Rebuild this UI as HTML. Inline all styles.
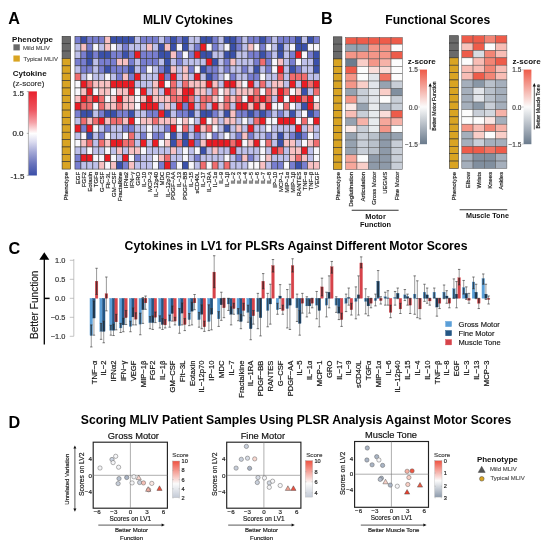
<!DOCTYPE html>
<html><head><meta charset="utf-8"><title>MLIV figure</title>
<style>
html,body{margin:0;padding:0;background:#fff;}
body{width:550px;height:549px;overflow:hidden;}
svg{display:block;font-family:"Liberation Sans", sans-serif;filter:blur(0.35px);}
</style></head>
<body>
<svg width="550" height="549" viewBox="0 0 550 549">
<rect x="0" y="0" width="550" height="549" fill="#fff"/>
<text x="8.3" y="23.9" font-size="16.2" text-anchor="start" font-weight="bold" fill="#000">A</text>
<text x="143" y="23.8" font-size="12.1" text-anchor="start" font-weight="bold" fill="#000">MLIV Cytokines</text>
<text x="12.1" y="41.6" font-size="8" text-anchor="start" font-weight="bold" fill="#111">Phenotype</text>
<rect x="13.4" y="44.3" width="6.4" height="6.1" fill="#6a6a6a"/>
<text x="23" y="49.8" font-size="6" text-anchor="start" font-weight="normal" fill="#575757" stroke="#575757" stroke-width="0.18">Mild MLIV</text>
<rect x="13.4" y="55.5" width="6.4" height="6.1" fill="#d9a422"/>
<text x="23.6" y="60.9" font-size="6" text-anchor="start" font-weight="normal" fill="#575757" stroke="#575757" stroke-width="0.18">Typical MLIV</text>
<text x="12.8" y="76.2" font-size="8" text-anchor="start" font-weight="bold" fill="#111">Cytokine</text>
<text x="12.8" y="86" font-size="8" text-anchor="start" font-weight="normal" fill="#333" stroke="#333" stroke-width="0.18">(z-score)</text>
<defs><linearGradient id="gA" x1="0" y1="0" x2="0" y2="1"><stop offset="0" stop-color="#e8202c"/><stop offset="0.22" stop-color="#ee5560"/><stop offset="0.37" stop-color="#f5a2a8"/><stop offset="0.5" stop-color="#ffffff"/><stop offset="0.6" stop-color="#dcdcf0"/><stop offset="0.72" stop-color="#a4a8d6"/><stop offset="0.86" stop-color="#6a74bc"/><stop offset="1" stop-color="#3a4ea8"/></linearGradient><linearGradient id="gB" x1="0" y1="0" x2="0" y2="1"><stop offset="0" stop-color="#ee5a48"/><stop offset="0.5" stop-color="#fbfbfb"/><stop offset="1" stop-color="#6a7a8c"/></linearGradient><linearGradient id="gS1" x1="0" y1="0" x2="0" y2="1"><stop offset="0" stop-color="#ef5140"/><stop offset="0.62" stop-color="#fbfbfb"/><stop offset="1" stop-color="#c3cad6"/></linearGradient><linearGradient id="gS3" x1="0" y1="0" x2="0" y2="1"><stop offset="0" stop-color="#ef5140"/><stop offset="0.55" stop-color="#fbfbfb"/><stop offset="1" stop-color="#8e9bac"/></linearGradient></defs>
<rect x="28.5" y="91.4" width="8.4" height="84.1" fill="url(#gA)"/><line x1="28.4" y1="91.4" x2="28.4" y2="175.5" stroke="#888" stroke-width="0.6"/>
<line x1="26.8" y1="91.6" x2="28.8" y2="91.6" stroke="#888" stroke-width="0.6"/>
<line x1="26.8" y1="133.4" x2="28.8" y2="133.4" stroke="#888" stroke-width="0.6"/>
<line x1="26.8" y1="175.3" x2="28.8" y2="175.3" stroke="#888" stroke-width="0.6"/>
<text x="12.8" y="95.9" font-size="8" text-anchor="start" font-weight="normal" fill="#222" stroke="#222" stroke-width="0.18">1.5</text>
<text x="12.4" y="136.4" font-size="8" text-anchor="start" font-weight="normal" fill="#222" stroke="#222" stroke-width="0.18">0.0</text>
<text x="10.6" y="178.6" font-size="8" text-anchor="start" font-weight="normal" fill="#222" stroke="#222" stroke-width="0.18">-1.5</text>
<rect x="62.1" y="36.35" width="8.5" height="7.38" fill="#6a6a6a" stroke="#333" stroke-width="0.6"/>
<rect x="62.1" y="43.73" width="8.5" height="7.38" fill="#6a6a6a" stroke="#333" stroke-width="0.6"/>
<rect x="62.1" y="51.10" width="8.5" height="7.38" fill="#6a6a6a" stroke="#333" stroke-width="0.6"/>
<rect x="62.1" y="58.48" width="8.5" height="7.38" fill="#d9a422" stroke="#333" stroke-width="0.6"/>
<rect x="62.1" y="65.85" width="8.5" height="7.38" fill="#d9a422" stroke="#333" stroke-width="0.6"/>
<rect x="62.1" y="73.22" width="8.5" height="7.38" fill="#d9a422" stroke="#333" stroke-width="0.6"/>
<rect x="62.1" y="80.60" width="8.5" height="7.38" fill="#d9a422" stroke="#333" stroke-width="0.6"/>
<rect x="62.1" y="87.97" width="8.5" height="7.38" fill="#d9a422" stroke="#333" stroke-width="0.6"/>
<rect x="62.1" y="95.35" width="8.5" height="7.38" fill="#d9a422" stroke="#333" stroke-width="0.6"/>
<rect x="62.1" y="102.72" width="8.5" height="7.38" fill="#d9a422" stroke="#333" stroke-width="0.6"/>
<rect x="62.1" y="110.10" width="8.5" height="7.38" fill="#d9a422" stroke="#333" stroke-width="0.6"/>
<rect x="62.1" y="117.47" width="8.5" height="7.38" fill="#d9a422" stroke="#333" stroke-width="0.6"/>
<rect x="62.1" y="124.85" width="8.5" height="7.38" fill="#d9a422" stroke="#333" stroke-width="0.6"/>
<rect x="62.1" y="132.22" width="8.5" height="7.38" fill="#d9a422" stroke="#333" stroke-width="0.6"/>
<rect x="62.1" y="139.60" width="8.5" height="7.38" fill="#d9a422" stroke="#333" stroke-width="0.6"/>
<rect x="62.1" y="146.97" width="8.5" height="7.38" fill="#d9a422" stroke="#333" stroke-width="0.6"/>
<rect x="62.1" y="154.35" width="8.5" height="7.38" fill="#d9a422" stroke="#333" stroke-width="0.6"/>
<rect x="62.1" y="161.72" width="8.5" height="7.38" fill="#d9a422" stroke="#333" stroke-width="0.6"/>
<rect x="74.95" y="36.35" width="5.96" height="7.38" fill="#787ed0" stroke="#3a3a3a" stroke-width="0.6"/>
<rect x="80.92" y="36.35" width="5.96" height="7.38" fill="#3a50aa" stroke="#3a3a3a" stroke-width="0.6"/>
<rect x="86.88" y="36.35" width="5.96" height="7.38" fill="#787ed0" stroke="#3a3a3a" stroke-width="0.6"/>
<rect x="92.84" y="36.35" width="5.96" height="7.38" fill="#787ed0" stroke="#3a3a3a" stroke-width="0.6"/>
<rect x="98.81" y="36.35" width="5.96" height="7.38" fill="#787ed0" stroke="#3a3a3a" stroke-width="0.6"/>
<rect x="104.78" y="36.35" width="5.96" height="7.38" fill="#f8c0c2" stroke="#3a3a3a" stroke-width="0.6"/>
<rect x="110.74" y="36.35" width="5.96" height="7.38" fill="#3a50aa" stroke="#3a3a3a" stroke-width="0.6"/>
<rect x="116.70" y="36.35" width="5.96" height="7.38" fill="#3a50aa" stroke="#3a3a3a" stroke-width="0.6"/>
<rect x="122.67" y="36.35" width="5.96" height="7.38" fill="#3a50aa" stroke="#3a3a3a" stroke-width="0.6"/>
<rect x="128.63" y="36.35" width="5.96" height="7.38" fill="#3a50aa" stroke="#3a3a3a" stroke-width="0.6"/>
<rect x="134.60" y="36.35" width="5.96" height="7.38" fill="#bec0ea" stroke="#3a3a3a" stroke-width="0.6"/>
<rect x="140.56" y="36.35" width="5.96" height="7.38" fill="#787ed0" stroke="#3a3a3a" stroke-width="0.6"/>
<rect x="146.53" y="36.35" width="5.96" height="7.38" fill="#787ed0" stroke="#3a3a3a" stroke-width="0.6"/>
<rect x="152.50" y="36.35" width="5.96" height="7.38" fill="#787ed0" stroke="#3a3a3a" stroke-width="0.6"/>
<rect x="158.46" y="36.35" width="5.96" height="7.38" fill="#bec0ea" stroke="#3a3a3a" stroke-width="0.6"/>
<rect x="164.43" y="36.35" width="5.96" height="7.38" fill="#787ed0" stroke="#3a3a3a" stroke-width="0.6"/>
<rect x="170.39" y="36.35" width="5.96" height="7.38" fill="#3a50aa" stroke="#3a3a3a" stroke-width="0.6"/>
<rect x="176.36" y="36.35" width="5.96" height="7.38" fill="#787ed0" stroke="#3a3a3a" stroke-width="0.6"/>
<rect x="182.32" y="36.35" width="5.96" height="7.38" fill="#3a50aa" stroke="#3a3a3a" stroke-width="0.6"/>
<rect x="188.28" y="36.35" width="5.96" height="7.38" fill="#bec0ea" stroke="#3a3a3a" stroke-width="0.6"/>
<rect x="194.25" y="36.35" width="5.96" height="7.38" fill="#bec0ea" stroke="#3a3a3a" stroke-width="0.6"/>
<rect x="200.22" y="36.35" width="5.96" height="7.38" fill="#3a50aa" stroke="#3a3a3a" stroke-width="0.6"/>
<rect x="206.18" y="36.35" width="5.96" height="7.38" fill="#3a50aa" stroke="#3a3a3a" stroke-width="0.6"/>
<rect x="212.14" y="36.35" width="5.96" height="7.38" fill="#787ed0" stroke="#3a3a3a" stroke-width="0.6"/>
<rect x="218.11" y="36.35" width="5.96" height="7.38" fill="#bec0ea" stroke="#3a3a3a" stroke-width="0.6"/>
<rect x="224.07" y="36.35" width="5.96" height="7.38" fill="#3a50aa" stroke="#3a3a3a" stroke-width="0.6"/>
<rect x="230.04" y="36.35" width="5.96" height="7.38" fill="#3a50aa" stroke="#3a3a3a" stroke-width="0.6"/>
<rect x="236.00" y="36.35" width="5.96" height="7.38" fill="#787ed0" stroke="#3a3a3a" stroke-width="0.6"/>
<rect x="241.97" y="36.35" width="5.96" height="7.38" fill="#bec0ea" stroke="#3a3a3a" stroke-width="0.6"/>
<rect x="247.94" y="36.35" width="5.96" height="7.38" fill="#787ed0" stroke="#3a3a3a" stroke-width="0.6"/>
<rect x="253.90" y="36.35" width="5.96" height="7.38" fill="#787ed0" stroke="#3a3a3a" stroke-width="0.6"/>
<rect x="259.87" y="36.35" width="5.96" height="7.38" fill="#3a50aa" stroke="#3a3a3a" stroke-width="0.6"/>
<rect x="265.83" y="36.35" width="5.96" height="7.38" fill="#787ed0" stroke="#3a3a3a" stroke-width="0.6"/>
<rect x="271.80" y="36.35" width="5.96" height="7.38" fill="#bec0ea" stroke="#3a3a3a" stroke-width="0.6"/>
<rect x="277.76" y="36.35" width="5.96" height="7.38" fill="#787ed0" stroke="#3a3a3a" stroke-width="0.6"/>
<rect x="283.73" y="36.35" width="5.96" height="7.38" fill="#787ed0" stroke="#3a3a3a" stroke-width="0.6"/>
<rect x="289.69" y="36.35" width="5.96" height="7.38" fill="#787ed0" stroke="#3a3a3a" stroke-width="0.6"/>
<rect x="295.65" y="36.35" width="5.96" height="7.38" fill="#3a50aa" stroke="#3a3a3a" stroke-width="0.6"/>
<rect x="301.62" y="36.35" width="5.96" height="7.38" fill="#bec0ea" stroke="#3a3a3a" stroke-width="0.6"/>
<rect x="307.58" y="36.35" width="5.96" height="7.38" fill="#3a50aa" stroke="#3a3a3a" stroke-width="0.6"/>
<rect x="313.55" y="36.35" width="5.96" height="7.38" fill="#787ed0" stroke="#3a3a3a" stroke-width="0.6"/>
<rect x="74.95" y="43.73" width="5.96" height="7.38" fill="#bec0ea" stroke="#3a3a3a" stroke-width="0.6"/>
<rect x="80.92" y="43.73" width="5.96" height="7.38" fill="#f8c0c2" stroke="#3a3a3a" stroke-width="0.6"/>
<rect x="86.88" y="43.73" width="5.96" height="7.38" fill="#787ed0" stroke="#3a3a3a" stroke-width="0.6"/>
<rect x="92.84" y="43.73" width="5.96" height="7.38" fill="#f8f7fc" stroke="#3a3a3a" stroke-width="0.6"/>
<rect x="98.81" y="43.73" width="5.96" height="7.38" fill="#bec0ea" stroke="#3a3a3a" stroke-width="0.6"/>
<rect x="104.78" y="43.73" width="5.96" height="7.38" fill="#f8c0c2" stroke="#3a3a3a" stroke-width="0.6"/>
<rect x="110.74" y="43.73" width="5.96" height="7.38" fill="#f8f7fc" stroke="#3a3a3a" stroke-width="0.6"/>
<rect x="116.70" y="43.73" width="5.96" height="7.38" fill="#bec0ea" stroke="#3a3a3a" stroke-width="0.6"/>
<rect x="122.67" y="43.73" width="5.96" height="7.38" fill="#787ed0" stroke="#3a3a3a" stroke-width="0.6"/>
<rect x="128.63" y="43.73" width="5.96" height="7.38" fill="#bec0ea" stroke="#3a3a3a" stroke-width="0.6"/>
<rect x="134.60" y="43.73" width="5.96" height="7.38" fill="#bec0ea" stroke="#3a3a3a" stroke-width="0.6"/>
<rect x="140.56" y="43.73" width="5.96" height="7.38" fill="#bec0ea" stroke="#3a3a3a" stroke-width="0.6"/>
<rect x="146.53" y="43.73" width="5.96" height="7.38" fill="#f8c0c2" stroke="#3a3a3a" stroke-width="0.6"/>
<rect x="152.50" y="43.73" width="5.96" height="7.38" fill="#bec0ea" stroke="#3a3a3a" stroke-width="0.6"/>
<rect x="158.46" y="43.73" width="5.96" height="7.38" fill="#3a50aa" stroke="#3a3a3a" stroke-width="0.6"/>
<rect x="164.43" y="43.73" width="5.96" height="7.38" fill="#f8c0c2" stroke="#3a3a3a" stroke-width="0.6"/>
<rect x="170.39" y="43.73" width="5.96" height="7.38" fill="#3a50aa" stroke="#3a3a3a" stroke-width="0.6"/>
<rect x="176.36" y="43.73" width="5.96" height="7.38" fill="#f8f7fc" stroke="#3a3a3a" stroke-width="0.6"/>
<rect x="182.32" y="43.73" width="5.96" height="7.38" fill="#3a50aa" stroke="#3a3a3a" stroke-width="0.6"/>
<rect x="188.28" y="43.73" width="5.96" height="7.38" fill="#bec0ea" stroke="#3a3a3a" stroke-width="0.6"/>
<rect x="194.25" y="43.73" width="5.96" height="7.38" fill="#787ed0" stroke="#3a3a3a" stroke-width="0.6"/>
<rect x="200.22" y="43.73" width="5.96" height="7.38" fill="#ea1c24" stroke="#3a3a3a" stroke-width="0.6"/>
<rect x="206.18" y="43.73" width="5.96" height="7.38" fill="#f8f7fc" stroke="#3a3a3a" stroke-width="0.6"/>
<rect x="212.14" y="43.73" width="5.96" height="7.38" fill="#787ed0" stroke="#3a3a3a" stroke-width="0.6"/>
<rect x="218.11" y="43.73" width="5.96" height="7.38" fill="#bec0ea" stroke="#3a3a3a" stroke-width="0.6"/>
<rect x="224.07" y="43.73" width="5.96" height="7.38" fill="#f8f7fc" stroke="#3a3a3a" stroke-width="0.6"/>
<rect x="230.04" y="43.73" width="5.96" height="7.38" fill="#3a50aa" stroke="#3a3a3a" stroke-width="0.6"/>
<rect x="236.00" y="43.73" width="5.96" height="7.38" fill="#787ed0" stroke="#3a3a3a" stroke-width="0.6"/>
<rect x="241.97" y="43.73" width="5.96" height="7.38" fill="#bec0ea" stroke="#3a3a3a" stroke-width="0.6"/>
<rect x="247.94" y="43.73" width="5.96" height="7.38" fill="#f8c0c2" stroke="#3a3a3a" stroke-width="0.6"/>
<rect x="253.90" y="43.73" width="5.96" height="7.38" fill="#f8f7fc" stroke="#3a3a3a" stroke-width="0.6"/>
<rect x="259.87" y="43.73" width="5.96" height="7.38" fill="#787ed0" stroke="#3a3a3a" stroke-width="0.6"/>
<rect x="265.83" y="43.73" width="5.96" height="7.38" fill="#f8f7fc" stroke="#3a3a3a" stroke-width="0.6"/>
<rect x="271.80" y="43.73" width="5.96" height="7.38" fill="#bec0ea" stroke="#3a3a3a" stroke-width="0.6"/>
<rect x="277.76" y="43.73" width="5.96" height="7.38" fill="#3a50aa" stroke="#3a3a3a" stroke-width="0.6"/>
<rect x="283.73" y="43.73" width="5.96" height="7.38" fill="#bec0ea" stroke="#3a3a3a" stroke-width="0.6"/>
<rect x="289.69" y="43.73" width="5.96" height="7.38" fill="#f8f7fc" stroke="#3a3a3a" stroke-width="0.6"/>
<rect x="295.65" y="43.73" width="5.96" height="7.38" fill="#3a50aa" stroke="#3a3a3a" stroke-width="0.6"/>
<rect x="301.62" y="43.73" width="5.96" height="7.38" fill="#3a50aa" stroke="#3a3a3a" stroke-width="0.6"/>
<rect x="307.58" y="43.73" width="5.96" height="7.38" fill="#f8f7fc" stroke="#3a3a3a" stroke-width="0.6"/>
<rect x="313.55" y="43.73" width="5.96" height="7.38" fill="#f8f7fc" stroke="#3a3a3a" stroke-width="0.6"/>
<rect x="74.95" y="51.10" width="5.96" height="7.38" fill="#bec0ea" stroke="#3a3a3a" stroke-width="0.6"/>
<rect x="80.92" y="51.10" width="5.96" height="7.38" fill="#787ed0" stroke="#3a3a3a" stroke-width="0.6"/>
<rect x="86.88" y="51.10" width="5.96" height="7.38" fill="#3a50aa" stroke="#3a3a3a" stroke-width="0.6"/>
<rect x="92.84" y="51.10" width="5.96" height="7.38" fill="#787ed0" stroke="#3a3a3a" stroke-width="0.6"/>
<rect x="98.81" y="51.10" width="5.96" height="7.38" fill="#3a50aa" stroke="#3a3a3a" stroke-width="0.6"/>
<rect x="104.78" y="51.10" width="5.96" height="7.38" fill="#3a50aa" stroke="#3a3a3a" stroke-width="0.6"/>
<rect x="110.74" y="51.10" width="5.96" height="7.38" fill="#787ed0" stroke="#3a3a3a" stroke-width="0.6"/>
<rect x="116.70" y="51.10" width="5.96" height="7.38" fill="#787ed0" stroke="#3a3a3a" stroke-width="0.6"/>
<rect x="122.67" y="51.10" width="5.96" height="7.38" fill="#3a50aa" stroke="#3a3a3a" stroke-width="0.6"/>
<rect x="128.63" y="51.10" width="5.96" height="7.38" fill="#787ed0" stroke="#3a3a3a" stroke-width="0.6"/>
<rect x="134.60" y="51.10" width="5.96" height="7.38" fill="#ea1c24" stroke="#3a3a3a" stroke-width="0.6"/>
<rect x="140.56" y="51.10" width="5.96" height="7.38" fill="#787ed0" stroke="#3a3a3a" stroke-width="0.6"/>
<rect x="146.53" y="51.10" width="5.96" height="7.38" fill="#787ed0" stroke="#3a3a3a" stroke-width="0.6"/>
<rect x="152.50" y="51.10" width="5.96" height="7.38" fill="#787ed0" stroke="#3a3a3a" stroke-width="0.6"/>
<rect x="158.46" y="51.10" width="5.96" height="7.38" fill="#3a50aa" stroke="#3a3a3a" stroke-width="0.6"/>
<rect x="164.43" y="51.10" width="5.96" height="7.38" fill="#3a50aa" stroke="#3a3a3a" stroke-width="0.6"/>
<rect x="170.39" y="51.10" width="5.96" height="7.38" fill="#f8c0c2" stroke="#3a3a3a" stroke-width="0.6"/>
<rect x="176.36" y="51.10" width="5.96" height="7.38" fill="#787ed0" stroke="#3a3a3a" stroke-width="0.6"/>
<rect x="182.32" y="51.10" width="5.96" height="7.38" fill="#f8f7fc" stroke="#3a3a3a" stroke-width="0.6"/>
<rect x="188.28" y="51.10" width="5.96" height="7.38" fill="#787ed0" stroke="#3a3a3a" stroke-width="0.6"/>
<rect x="194.25" y="51.10" width="5.96" height="7.38" fill="#ea1c24" stroke="#3a3a3a" stroke-width="0.6"/>
<rect x="200.22" y="51.10" width="5.96" height="7.38" fill="#3a50aa" stroke="#3a3a3a" stroke-width="0.6"/>
<rect x="206.18" y="51.10" width="5.96" height="7.38" fill="#3a50aa" stroke="#3a3a3a" stroke-width="0.6"/>
<rect x="212.14" y="51.10" width="5.96" height="7.38" fill="#bec0ea" stroke="#3a3a3a" stroke-width="0.6"/>
<rect x="218.11" y="51.10" width="5.96" height="7.38" fill="#bec0ea" stroke="#3a3a3a" stroke-width="0.6"/>
<rect x="224.07" y="51.10" width="5.96" height="7.38" fill="#3a50aa" stroke="#3a3a3a" stroke-width="0.6"/>
<rect x="230.04" y="51.10" width="5.96" height="7.38" fill="#3a50aa" stroke="#3a3a3a" stroke-width="0.6"/>
<rect x="236.00" y="51.10" width="5.96" height="7.38" fill="#bec0ea" stroke="#3a3a3a" stroke-width="0.6"/>
<rect x="241.97" y="51.10" width="5.96" height="7.38" fill="#bec0ea" stroke="#3a3a3a" stroke-width="0.6"/>
<rect x="247.94" y="51.10" width="5.96" height="7.38" fill="#787ed0" stroke="#3a3a3a" stroke-width="0.6"/>
<rect x="253.90" y="51.10" width="5.96" height="7.38" fill="#787ed0" stroke="#3a3a3a" stroke-width="0.6"/>
<rect x="259.87" y="51.10" width="5.96" height="7.38" fill="#3a50aa" stroke="#3a3a3a" stroke-width="0.6"/>
<rect x="265.83" y="51.10" width="5.96" height="7.38" fill="#787ed0" stroke="#3a3a3a" stroke-width="0.6"/>
<rect x="271.80" y="51.10" width="5.96" height="7.38" fill="#bec0ea" stroke="#3a3a3a" stroke-width="0.6"/>
<rect x="277.76" y="51.10" width="5.96" height="7.38" fill="#3a50aa" stroke="#3a3a3a" stroke-width="0.6"/>
<rect x="283.73" y="51.10" width="5.96" height="7.38" fill="#bec0ea" stroke="#3a3a3a" stroke-width="0.6"/>
<rect x="289.69" y="51.10" width="5.96" height="7.38" fill="#787ed0" stroke="#3a3a3a" stroke-width="0.6"/>
<rect x="295.65" y="51.10" width="5.96" height="7.38" fill="#ea1c24" stroke="#3a3a3a" stroke-width="0.6"/>
<rect x="301.62" y="51.10" width="5.96" height="7.38" fill="#f8f7fc" stroke="#3a3a3a" stroke-width="0.6"/>
<rect x="307.58" y="51.10" width="5.96" height="7.38" fill="#787ed0" stroke="#3a3a3a" stroke-width="0.6"/>
<rect x="313.55" y="51.10" width="5.96" height="7.38" fill="#3a50aa" stroke="#3a3a3a" stroke-width="0.6"/>
<rect x="74.95" y="58.48" width="5.96" height="7.38" fill="#787ed0" stroke="#3a3a3a" stroke-width="0.6"/>
<rect x="80.92" y="58.48" width="5.96" height="7.38" fill="#787ed0" stroke="#3a3a3a" stroke-width="0.6"/>
<rect x="86.88" y="58.48" width="5.96" height="7.38" fill="#3a50aa" stroke="#3a3a3a" stroke-width="0.6"/>
<rect x="92.84" y="58.48" width="5.96" height="7.38" fill="#bec0ea" stroke="#3a3a3a" stroke-width="0.6"/>
<rect x="98.81" y="58.48" width="5.96" height="7.38" fill="#787ed0" stroke="#3a3a3a" stroke-width="0.6"/>
<rect x="104.78" y="58.48" width="5.96" height="7.38" fill="#787ed0" stroke="#3a3a3a" stroke-width="0.6"/>
<rect x="110.74" y="58.48" width="5.96" height="7.38" fill="#787ed0" stroke="#3a3a3a" stroke-width="0.6"/>
<rect x="116.70" y="58.48" width="5.96" height="7.38" fill="#f8c0c2" stroke="#3a3a3a" stroke-width="0.6"/>
<rect x="122.67" y="58.48" width="5.96" height="7.38" fill="#f8c0c2" stroke="#3a3a3a" stroke-width="0.6"/>
<rect x="128.63" y="58.48" width="5.96" height="7.38" fill="#787ed0" stroke="#3a3a3a" stroke-width="0.6"/>
<rect x="134.60" y="58.48" width="5.96" height="7.38" fill="#bec0ea" stroke="#3a3a3a" stroke-width="0.6"/>
<rect x="140.56" y="58.48" width="5.96" height="7.38" fill="#787ed0" stroke="#3a3a3a" stroke-width="0.6"/>
<rect x="146.53" y="58.48" width="5.96" height="7.38" fill="#787ed0" stroke="#3a3a3a" stroke-width="0.6"/>
<rect x="152.50" y="58.48" width="5.96" height="7.38" fill="#787ed0" stroke="#3a3a3a" stroke-width="0.6"/>
<rect x="158.46" y="58.48" width="5.96" height="7.38" fill="#bec0ea" stroke="#3a3a3a" stroke-width="0.6"/>
<rect x="164.43" y="58.48" width="5.96" height="7.38" fill="#3a50aa" stroke="#3a3a3a" stroke-width="0.6"/>
<rect x="170.39" y="58.48" width="5.96" height="7.38" fill="#bec0ea" stroke="#3a3a3a" stroke-width="0.6"/>
<rect x="176.36" y="58.48" width="5.96" height="7.38" fill="#787ed0" stroke="#3a3a3a" stroke-width="0.6"/>
<rect x="182.32" y="58.48" width="5.96" height="7.38" fill="#bec0ea" stroke="#3a3a3a" stroke-width="0.6"/>
<rect x="188.28" y="58.48" width="5.96" height="7.38" fill="#bec0ea" stroke="#3a3a3a" stroke-width="0.6"/>
<rect x="194.25" y="58.48" width="5.96" height="7.38" fill="#bec0ea" stroke="#3a3a3a" stroke-width="0.6"/>
<rect x="200.22" y="58.48" width="5.96" height="7.38" fill="#bec0ea" stroke="#3a3a3a" stroke-width="0.6"/>
<rect x="206.18" y="58.48" width="5.96" height="7.38" fill="#ea1c24" stroke="#3a3a3a" stroke-width="0.6"/>
<rect x="212.14" y="58.48" width="5.96" height="7.38" fill="#3a50aa" stroke="#3a3a3a" stroke-width="0.6"/>
<rect x="218.11" y="58.48" width="5.96" height="7.38" fill="#bec0ea" stroke="#3a3a3a" stroke-width="0.6"/>
<rect x="224.07" y="58.48" width="5.96" height="7.38" fill="#787ed0" stroke="#3a3a3a" stroke-width="0.6"/>
<rect x="230.04" y="58.48" width="5.96" height="7.38" fill="#f8c0c2" stroke="#3a3a3a" stroke-width="0.6"/>
<rect x="236.00" y="58.48" width="5.96" height="7.38" fill="#bec0ea" stroke="#3a3a3a" stroke-width="0.6"/>
<rect x="241.97" y="58.48" width="5.96" height="7.38" fill="#bec0ea" stroke="#3a3a3a" stroke-width="0.6"/>
<rect x="247.94" y="58.48" width="5.96" height="7.38" fill="#bec0ea" stroke="#3a3a3a" stroke-width="0.6"/>
<rect x="253.90" y="58.48" width="5.96" height="7.38" fill="#787ed0" stroke="#3a3a3a" stroke-width="0.6"/>
<rect x="259.87" y="58.48" width="5.96" height="7.38" fill="#f06c6e" stroke="#3a3a3a" stroke-width="0.6"/>
<rect x="265.83" y="58.48" width="5.96" height="7.38" fill="#787ed0" stroke="#3a3a3a" stroke-width="0.6"/>
<rect x="271.80" y="58.48" width="5.96" height="7.38" fill="#f8f7fc" stroke="#3a3a3a" stroke-width="0.6"/>
<rect x="277.76" y="58.48" width="5.96" height="7.38" fill="#f8c0c2" stroke="#3a3a3a" stroke-width="0.6"/>
<rect x="283.73" y="58.48" width="5.96" height="7.38" fill="#bec0ea" stroke="#3a3a3a" stroke-width="0.6"/>
<rect x="289.69" y="58.48" width="5.96" height="7.38" fill="#787ed0" stroke="#3a3a3a" stroke-width="0.6"/>
<rect x="295.65" y="58.48" width="5.96" height="7.38" fill="#f8f7fc" stroke="#3a3a3a" stroke-width="0.6"/>
<rect x="301.62" y="58.48" width="5.96" height="7.38" fill="#bec0ea" stroke="#3a3a3a" stroke-width="0.6"/>
<rect x="307.58" y="58.48" width="5.96" height="7.38" fill="#bec0ea" stroke="#3a3a3a" stroke-width="0.6"/>
<rect x="313.55" y="58.48" width="5.96" height="7.38" fill="#3a50aa" stroke="#3a3a3a" stroke-width="0.6"/>
<rect x="74.95" y="65.85" width="5.96" height="7.38" fill="#bec0ea" stroke="#3a3a3a" stroke-width="0.6"/>
<rect x="80.92" y="65.85" width="5.96" height="7.38" fill="#787ed0" stroke="#3a3a3a" stroke-width="0.6"/>
<rect x="86.88" y="65.85" width="5.96" height="7.38" fill="#787ed0" stroke="#3a3a3a" stroke-width="0.6"/>
<rect x="92.84" y="65.85" width="5.96" height="7.38" fill="#bec0ea" stroke="#3a3a3a" stroke-width="0.6"/>
<rect x="98.81" y="65.85" width="5.96" height="7.38" fill="#787ed0" stroke="#3a3a3a" stroke-width="0.6"/>
<rect x="104.78" y="65.85" width="5.96" height="7.38" fill="#3a50aa" stroke="#3a3a3a" stroke-width="0.6"/>
<rect x="110.74" y="65.85" width="5.96" height="7.38" fill="#787ed0" stroke="#3a3a3a" stroke-width="0.6"/>
<rect x="116.70" y="65.85" width="5.96" height="7.38" fill="#787ed0" stroke="#3a3a3a" stroke-width="0.6"/>
<rect x="122.67" y="65.85" width="5.96" height="7.38" fill="#787ed0" stroke="#3a3a3a" stroke-width="0.6"/>
<rect x="128.63" y="65.85" width="5.96" height="7.38" fill="#3a50aa" stroke="#3a3a3a" stroke-width="0.6"/>
<rect x="134.60" y="65.85" width="5.96" height="7.38" fill="#bec0ea" stroke="#3a3a3a" stroke-width="0.6"/>
<rect x="140.56" y="65.85" width="5.96" height="7.38" fill="#787ed0" stroke="#3a3a3a" stroke-width="0.6"/>
<rect x="146.53" y="65.85" width="5.96" height="7.38" fill="#f8f7fc" stroke="#3a3a3a" stroke-width="0.6"/>
<rect x="152.50" y="65.85" width="5.96" height="7.38" fill="#bec0ea" stroke="#3a3a3a" stroke-width="0.6"/>
<rect x="158.46" y="65.85" width="5.96" height="7.38" fill="#787ed0" stroke="#3a3a3a" stroke-width="0.6"/>
<rect x="164.43" y="65.85" width="5.96" height="7.38" fill="#3a50aa" stroke="#3a3a3a" stroke-width="0.6"/>
<rect x="170.39" y="65.85" width="5.96" height="7.38" fill="#f8c0c2" stroke="#3a3a3a" stroke-width="0.6"/>
<rect x="176.36" y="65.85" width="5.96" height="7.38" fill="#bec0ea" stroke="#3a3a3a" stroke-width="0.6"/>
<rect x="182.32" y="65.85" width="5.96" height="7.38" fill="#f8c0c2" stroke="#3a3a3a" stroke-width="0.6"/>
<rect x="188.28" y="65.85" width="5.96" height="7.38" fill="#787ed0" stroke="#3a3a3a" stroke-width="0.6"/>
<rect x="194.25" y="65.85" width="5.96" height="7.38" fill="#f8f7fc" stroke="#3a3a3a" stroke-width="0.6"/>
<rect x="200.22" y="65.85" width="5.96" height="7.38" fill="#3a50aa" stroke="#3a3a3a" stroke-width="0.6"/>
<rect x="206.18" y="65.85" width="5.96" height="7.38" fill="#787ed0" stroke="#3a3a3a" stroke-width="0.6"/>
<rect x="212.14" y="65.85" width="5.96" height="7.38" fill="#787ed0" stroke="#3a3a3a" stroke-width="0.6"/>
<rect x="218.11" y="65.85" width="5.96" height="7.38" fill="#bec0ea" stroke="#3a3a3a" stroke-width="0.6"/>
<rect x="224.07" y="65.85" width="5.96" height="7.38" fill="#787ed0" stroke="#3a3a3a" stroke-width="0.6"/>
<rect x="230.04" y="65.85" width="5.96" height="7.38" fill="#bec0ea" stroke="#3a3a3a" stroke-width="0.6"/>
<rect x="236.00" y="65.85" width="5.96" height="7.38" fill="#bec0ea" stroke="#3a3a3a" stroke-width="0.6"/>
<rect x="241.97" y="65.85" width="5.96" height="7.38" fill="#787ed0" stroke="#3a3a3a" stroke-width="0.6"/>
<rect x="247.94" y="65.85" width="5.96" height="7.38" fill="#bec0ea" stroke="#3a3a3a" stroke-width="0.6"/>
<rect x="253.90" y="65.85" width="5.96" height="7.38" fill="#3a50aa" stroke="#3a3a3a" stroke-width="0.6"/>
<rect x="259.87" y="65.85" width="5.96" height="7.38" fill="#bec0ea" stroke="#3a3a3a" stroke-width="0.6"/>
<rect x="265.83" y="65.85" width="5.96" height="7.38" fill="#787ed0" stroke="#3a3a3a" stroke-width="0.6"/>
<rect x="271.80" y="65.85" width="5.96" height="7.38" fill="#f8f7fc" stroke="#3a3a3a" stroke-width="0.6"/>
<rect x="277.76" y="65.85" width="5.96" height="7.38" fill="#ea1c24" stroke="#3a3a3a" stroke-width="0.6"/>
<rect x="283.73" y="65.85" width="5.96" height="7.38" fill="#bec0ea" stroke="#3a3a3a" stroke-width="0.6"/>
<rect x="289.69" y="65.85" width="5.96" height="7.38" fill="#3a50aa" stroke="#3a3a3a" stroke-width="0.6"/>
<rect x="295.65" y="65.85" width="5.96" height="7.38" fill="#787ed0" stroke="#3a3a3a" stroke-width="0.6"/>
<rect x="301.62" y="65.85" width="5.96" height="7.38" fill="#bec0ea" stroke="#3a3a3a" stroke-width="0.6"/>
<rect x="307.58" y="65.85" width="5.96" height="7.38" fill="#bec0ea" stroke="#3a3a3a" stroke-width="0.6"/>
<rect x="313.55" y="65.85" width="5.96" height="7.38" fill="#3a50aa" stroke="#3a3a3a" stroke-width="0.6"/>
<rect x="74.95" y="73.22" width="5.96" height="7.38" fill="#f06c6e" stroke="#3a3a3a" stroke-width="0.6"/>
<rect x="80.92" y="73.22" width="5.96" height="7.38" fill="#bec0ea" stroke="#3a3a3a" stroke-width="0.6"/>
<rect x="86.88" y="73.22" width="5.96" height="7.38" fill="#f8f7fc" stroke="#3a3a3a" stroke-width="0.6"/>
<rect x="92.84" y="73.22" width="5.96" height="7.38" fill="#bec0ea" stroke="#3a3a3a" stroke-width="0.6"/>
<rect x="98.81" y="73.22" width="5.96" height="7.38" fill="#bec0ea" stroke="#3a3a3a" stroke-width="0.6"/>
<rect x="104.78" y="73.22" width="5.96" height="7.38" fill="#f8f7fc" stroke="#3a3a3a" stroke-width="0.6"/>
<rect x="110.74" y="73.22" width="5.96" height="7.38" fill="#bec0ea" stroke="#3a3a3a" stroke-width="0.6"/>
<rect x="116.70" y="73.22" width="5.96" height="7.38" fill="#787ed0" stroke="#3a3a3a" stroke-width="0.6"/>
<rect x="122.67" y="73.22" width="5.96" height="7.38" fill="#f8c0c2" stroke="#3a3a3a" stroke-width="0.6"/>
<rect x="128.63" y="73.22" width="5.96" height="7.38" fill="#787ed0" stroke="#3a3a3a" stroke-width="0.6"/>
<rect x="134.60" y="73.22" width="5.96" height="7.38" fill="#ea1c24" stroke="#3a3a3a" stroke-width="0.6"/>
<rect x="140.56" y="73.22" width="5.96" height="7.38" fill="#bec0ea" stroke="#3a3a3a" stroke-width="0.6"/>
<rect x="146.53" y="73.22" width="5.96" height="7.38" fill="#bec0ea" stroke="#3a3a3a" stroke-width="0.6"/>
<rect x="152.50" y="73.22" width="5.96" height="7.38" fill="#bec0ea" stroke="#3a3a3a" stroke-width="0.6"/>
<rect x="158.46" y="73.22" width="5.96" height="7.38" fill="#ea1c24" stroke="#3a3a3a" stroke-width="0.6"/>
<rect x="164.43" y="73.22" width="5.96" height="7.38" fill="#787ed0" stroke="#3a3a3a" stroke-width="0.6"/>
<rect x="170.39" y="73.22" width="5.96" height="7.38" fill="#ea1c24" stroke="#3a3a3a" stroke-width="0.6"/>
<rect x="176.36" y="73.22" width="5.96" height="7.38" fill="#bec0ea" stroke="#3a3a3a" stroke-width="0.6"/>
<rect x="182.32" y="73.22" width="5.96" height="7.38" fill="#f8c0c2" stroke="#3a3a3a" stroke-width="0.6"/>
<rect x="188.28" y="73.22" width="5.96" height="7.38" fill="#bec0ea" stroke="#3a3a3a" stroke-width="0.6"/>
<rect x="194.25" y="73.22" width="5.96" height="7.38" fill="#ea1c24" stroke="#3a3a3a" stroke-width="0.6"/>
<rect x="200.22" y="73.22" width="5.96" height="7.38" fill="#bec0ea" stroke="#3a3a3a" stroke-width="0.6"/>
<rect x="206.18" y="73.22" width="5.96" height="7.38" fill="#3a50aa" stroke="#3a3a3a" stroke-width="0.6"/>
<rect x="212.14" y="73.22" width="5.96" height="7.38" fill="#787ed0" stroke="#3a3a3a" stroke-width="0.6"/>
<rect x="218.11" y="73.22" width="5.96" height="7.38" fill="#bec0ea" stroke="#3a3a3a" stroke-width="0.6"/>
<rect x="224.07" y="73.22" width="5.96" height="7.38" fill="#f8f7fc" stroke="#3a3a3a" stroke-width="0.6"/>
<rect x="230.04" y="73.22" width="5.96" height="7.38" fill="#787ed0" stroke="#3a3a3a" stroke-width="0.6"/>
<rect x="236.00" y="73.22" width="5.96" height="7.38" fill="#bec0ea" stroke="#3a3a3a" stroke-width="0.6"/>
<rect x="241.97" y="73.22" width="5.96" height="7.38" fill="#bec0ea" stroke="#3a3a3a" stroke-width="0.6"/>
<rect x="247.94" y="73.22" width="5.96" height="7.38" fill="#787ed0" stroke="#3a3a3a" stroke-width="0.6"/>
<rect x="253.90" y="73.22" width="5.96" height="7.38" fill="#787ed0" stroke="#3a3a3a" stroke-width="0.6"/>
<rect x="259.87" y="73.22" width="5.96" height="7.38" fill="#f8f7fc" stroke="#3a3a3a" stroke-width="0.6"/>
<rect x="265.83" y="73.22" width="5.96" height="7.38" fill="#bec0ea" stroke="#3a3a3a" stroke-width="0.6"/>
<rect x="271.80" y="73.22" width="5.96" height="7.38" fill="#bec0ea" stroke="#3a3a3a" stroke-width="0.6"/>
<rect x="277.76" y="73.22" width="5.96" height="7.38" fill="#f06c6e" stroke="#3a3a3a" stroke-width="0.6"/>
<rect x="283.73" y="73.22" width="5.96" height="7.38" fill="#bec0ea" stroke="#3a3a3a" stroke-width="0.6"/>
<rect x="289.69" y="73.22" width="5.96" height="7.38" fill="#f06c6e" stroke="#3a3a3a" stroke-width="0.6"/>
<rect x="295.65" y="73.22" width="5.96" height="7.38" fill="#f06c6e" stroke="#3a3a3a" stroke-width="0.6"/>
<rect x="301.62" y="73.22" width="5.96" height="7.38" fill="#f06c6e" stroke="#3a3a3a" stroke-width="0.6"/>
<rect x="307.58" y="73.22" width="5.96" height="7.38" fill="#bec0ea" stroke="#3a3a3a" stroke-width="0.6"/>
<rect x="313.55" y="73.22" width="5.96" height="7.38" fill="#bec0ea" stroke="#3a3a3a" stroke-width="0.6"/>
<rect x="74.95" y="80.60" width="5.96" height="7.38" fill="#f8f7fc" stroke="#3a3a3a" stroke-width="0.6"/>
<rect x="80.92" y="80.60" width="5.96" height="7.38" fill="#ea1c24" stroke="#3a3a3a" stroke-width="0.6"/>
<rect x="86.88" y="80.60" width="5.96" height="7.38" fill="#f06c6e" stroke="#3a3a3a" stroke-width="0.6"/>
<rect x="92.84" y="80.60" width="5.96" height="7.38" fill="#f8c0c2" stroke="#3a3a3a" stroke-width="0.6"/>
<rect x="98.81" y="80.60" width="5.96" height="7.38" fill="#f8c0c2" stroke="#3a3a3a" stroke-width="0.6"/>
<rect x="104.78" y="80.60" width="5.96" height="7.38" fill="#f8c0c2" stroke="#3a3a3a" stroke-width="0.6"/>
<rect x="110.74" y="80.60" width="5.96" height="7.38" fill="#ea1c24" stroke="#3a3a3a" stroke-width="0.6"/>
<rect x="116.70" y="80.60" width="5.96" height="7.38" fill="#ea1c24" stroke="#3a3a3a" stroke-width="0.6"/>
<rect x="122.67" y="80.60" width="5.96" height="7.38" fill="#ea1c24" stroke="#3a3a3a" stroke-width="0.6"/>
<rect x="128.63" y="80.60" width="5.96" height="7.38" fill="#ea1c24" stroke="#3a3a3a" stroke-width="0.6"/>
<rect x="134.60" y="80.60" width="5.96" height="7.38" fill="#bec0ea" stroke="#3a3a3a" stroke-width="0.6"/>
<rect x="140.56" y="80.60" width="5.96" height="7.38" fill="#bec0ea" stroke="#3a3a3a" stroke-width="0.6"/>
<rect x="146.53" y="80.60" width="5.96" height="7.38" fill="#bec0ea" stroke="#3a3a3a" stroke-width="0.6"/>
<rect x="152.50" y="80.60" width="5.96" height="7.38" fill="#f8c0c2" stroke="#3a3a3a" stroke-width="0.6"/>
<rect x="158.46" y="80.60" width="5.96" height="7.38" fill="#ea1c24" stroke="#3a3a3a" stroke-width="0.6"/>
<rect x="164.43" y="80.60" width="5.96" height="7.38" fill="#f8f7fc" stroke="#3a3a3a" stroke-width="0.6"/>
<rect x="170.39" y="80.60" width="5.96" height="7.38" fill="#f06c6e" stroke="#3a3a3a" stroke-width="0.6"/>
<rect x="176.36" y="80.60" width="5.96" height="7.38" fill="#bec0ea" stroke="#3a3a3a" stroke-width="0.6"/>
<rect x="182.32" y="80.60" width="5.96" height="7.38" fill="#f06c6e" stroke="#3a3a3a" stroke-width="0.6"/>
<rect x="188.28" y="80.60" width="5.96" height="7.38" fill="#f8c0c2" stroke="#3a3a3a" stroke-width="0.6"/>
<rect x="194.25" y="80.60" width="5.96" height="7.38" fill="#f8c0c2" stroke="#3a3a3a" stroke-width="0.6"/>
<rect x="200.22" y="80.60" width="5.96" height="7.38" fill="#f8c0c2" stroke="#3a3a3a" stroke-width="0.6"/>
<rect x="206.18" y="80.60" width="5.96" height="7.38" fill="#ea1c24" stroke="#3a3a3a" stroke-width="0.6"/>
<rect x="212.14" y="80.60" width="5.96" height="7.38" fill="#f8c0c2" stroke="#3a3a3a" stroke-width="0.6"/>
<rect x="218.11" y="80.60" width="5.96" height="7.38" fill="#bec0ea" stroke="#3a3a3a" stroke-width="0.6"/>
<rect x="224.07" y="80.60" width="5.96" height="7.38" fill="#ea1c24" stroke="#3a3a3a" stroke-width="0.6"/>
<rect x="230.04" y="80.60" width="5.96" height="7.38" fill="#ea1c24" stroke="#3a3a3a" stroke-width="0.6"/>
<rect x="236.00" y="80.60" width="5.96" height="7.38" fill="#f8c0c2" stroke="#3a3a3a" stroke-width="0.6"/>
<rect x="241.97" y="80.60" width="5.96" height="7.38" fill="#f8f7fc" stroke="#3a3a3a" stroke-width="0.6"/>
<rect x="247.94" y="80.60" width="5.96" height="7.38" fill="#ea1c24" stroke="#3a3a3a" stroke-width="0.6"/>
<rect x="253.90" y="80.60" width="5.96" height="7.38" fill="#bec0ea" stroke="#3a3a3a" stroke-width="0.6"/>
<rect x="259.87" y="80.60" width="5.96" height="7.38" fill="#f06c6e" stroke="#3a3a3a" stroke-width="0.6"/>
<rect x="265.83" y="80.60" width="5.96" height="7.38" fill="#bec0ea" stroke="#3a3a3a" stroke-width="0.6"/>
<rect x="271.80" y="80.60" width="5.96" height="7.38" fill="#f8c0c2" stroke="#3a3a3a" stroke-width="0.6"/>
<rect x="277.76" y="80.60" width="5.96" height="7.38" fill="#f8c0c2" stroke="#3a3a3a" stroke-width="0.6"/>
<rect x="283.73" y="80.60" width="5.96" height="7.38" fill="#bec0ea" stroke="#3a3a3a" stroke-width="0.6"/>
<rect x="289.69" y="80.60" width="5.96" height="7.38" fill="#ea1c24" stroke="#3a3a3a" stroke-width="0.6"/>
<rect x="295.65" y="80.60" width="5.96" height="7.38" fill="#bec0ea" stroke="#3a3a3a" stroke-width="0.6"/>
<rect x="301.62" y="80.60" width="5.96" height="7.38" fill="#ea1c24" stroke="#3a3a3a" stroke-width="0.6"/>
<rect x="307.58" y="80.60" width="5.96" height="7.38" fill="#f06c6e" stroke="#3a3a3a" stroke-width="0.6"/>
<rect x="313.55" y="80.60" width="5.96" height="7.38" fill="#ea1c24" stroke="#3a3a3a" stroke-width="0.6"/>
<rect x="74.95" y="87.97" width="5.96" height="7.38" fill="#f8f7fc" stroke="#3a3a3a" stroke-width="0.6"/>
<rect x="80.92" y="87.97" width="5.96" height="7.38" fill="#f8c0c2" stroke="#3a3a3a" stroke-width="0.6"/>
<rect x="86.88" y="87.97" width="5.96" height="7.38" fill="#ea1c24" stroke="#3a3a3a" stroke-width="0.6"/>
<rect x="92.84" y="87.97" width="5.96" height="7.38" fill="#f8f7fc" stroke="#3a3a3a" stroke-width="0.6"/>
<rect x="98.81" y="87.97" width="5.96" height="7.38" fill="#f8c0c2" stroke="#3a3a3a" stroke-width="0.6"/>
<rect x="104.78" y="87.97" width="5.96" height="7.38" fill="#f8c0c2" stroke="#3a3a3a" stroke-width="0.6"/>
<rect x="110.74" y="87.97" width="5.96" height="7.38" fill="#f8f7fc" stroke="#3a3a3a" stroke-width="0.6"/>
<rect x="116.70" y="87.97" width="5.96" height="7.38" fill="#f8c0c2" stroke="#3a3a3a" stroke-width="0.6"/>
<rect x="122.67" y="87.97" width="5.96" height="7.38" fill="#f8c0c2" stroke="#3a3a3a" stroke-width="0.6"/>
<rect x="128.63" y="87.97" width="5.96" height="7.38" fill="#ea1c24" stroke="#3a3a3a" stroke-width="0.6"/>
<rect x="134.60" y="87.97" width="5.96" height="7.38" fill="#f8f7fc" stroke="#3a3a3a" stroke-width="0.6"/>
<rect x="140.56" y="87.97" width="5.96" height="7.38" fill="#ea1c24" stroke="#3a3a3a" stroke-width="0.6"/>
<rect x="146.53" y="87.97" width="5.96" height="7.38" fill="#bec0ea" stroke="#3a3a3a" stroke-width="0.6"/>
<rect x="152.50" y="87.97" width="5.96" height="7.38" fill="#f8c0c2" stroke="#3a3a3a" stroke-width="0.6"/>
<rect x="158.46" y="87.97" width="5.96" height="7.38" fill="#bec0ea" stroke="#3a3a3a" stroke-width="0.6"/>
<rect x="164.43" y="87.97" width="5.96" height="7.38" fill="#ea1c24" stroke="#3a3a3a" stroke-width="0.6"/>
<rect x="170.39" y="87.97" width="5.96" height="7.38" fill="#f06c6e" stroke="#3a3a3a" stroke-width="0.6"/>
<rect x="176.36" y="87.97" width="5.96" height="7.38" fill="#f8c0c2" stroke="#3a3a3a" stroke-width="0.6"/>
<rect x="182.32" y="87.97" width="5.96" height="7.38" fill="#ea1c24" stroke="#3a3a3a" stroke-width="0.6"/>
<rect x="188.28" y="87.97" width="5.96" height="7.38" fill="#ea1c24" stroke="#3a3a3a" stroke-width="0.6"/>
<rect x="194.25" y="87.97" width="5.96" height="7.38" fill="#f8c0c2" stroke="#3a3a3a" stroke-width="0.6"/>
<rect x="200.22" y="87.97" width="5.96" height="7.38" fill="#f8c0c2" stroke="#3a3a3a" stroke-width="0.6"/>
<rect x="206.18" y="87.97" width="5.96" height="7.38" fill="#bec0ea" stroke="#3a3a3a" stroke-width="0.6"/>
<rect x="212.14" y="87.97" width="5.96" height="7.38" fill="#f06c6e" stroke="#3a3a3a" stroke-width="0.6"/>
<rect x="218.11" y="87.97" width="5.96" height="7.38" fill="#f8f7fc" stroke="#3a3a3a" stroke-width="0.6"/>
<rect x="224.07" y="87.97" width="5.96" height="7.38" fill="#f8c0c2" stroke="#3a3a3a" stroke-width="0.6"/>
<rect x="230.04" y="87.97" width="5.96" height="7.38" fill="#bec0ea" stroke="#3a3a3a" stroke-width="0.6"/>
<rect x="236.00" y="87.97" width="5.96" height="7.38" fill="#f8c0c2" stroke="#3a3a3a" stroke-width="0.6"/>
<rect x="241.97" y="87.97" width="5.96" height="7.38" fill="#f8c0c2" stroke="#3a3a3a" stroke-width="0.6"/>
<rect x="247.94" y="87.97" width="5.96" height="7.38" fill="#f8c0c2" stroke="#3a3a3a" stroke-width="0.6"/>
<rect x="253.90" y="87.97" width="5.96" height="7.38" fill="#f06c6e" stroke="#3a3a3a" stroke-width="0.6"/>
<rect x="259.87" y="87.97" width="5.96" height="7.38" fill="#f8f7fc" stroke="#3a3a3a" stroke-width="0.6"/>
<rect x="265.83" y="87.97" width="5.96" height="7.38" fill="#f06c6e" stroke="#3a3a3a" stroke-width="0.6"/>
<rect x="271.80" y="87.97" width="5.96" height="7.38" fill="#f8c0c2" stroke="#3a3a3a" stroke-width="0.6"/>
<rect x="277.76" y="87.97" width="5.96" height="7.38" fill="#ea1c24" stroke="#3a3a3a" stroke-width="0.6"/>
<rect x="283.73" y="87.97" width="5.96" height="7.38" fill="#f06c6e" stroke="#3a3a3a" stroke-width="0.6"/>
<rect x="289.69" y="87.97" width="5.96" height="7.38" fill="#f8f7fc" stroke="#3a3a3a" stroke-width="0.6"/>
<rect x="295.65" y="87.97" width="5.96" height="7.38" fill="#f8c0c2" stroke="#3a3a3a" stroke-width="0.6"/>
<rect x="301.62" y="87.97" width="5.96" height="7.38" fill="#3a50aa" stroke="#3a3a3a" stroke-width="0.6"/>
<rect x="307.58" y="87.97" width="5.96" height="7.38" fill="#bec0ea" stroke="#3a3a3a" stroke-width="0.6"/>
<rect x="313.55" y="87.97" width="5.96" height="7.38" fill="#f06c6e" stroke="#3a3a3a" stroke-width="0.6"/>
<rect x="74.95" y="95.35" width="5.96" height="7.38" fill="#f8c0c2" stroke="#3a3a3a" stroke-width="0.6"/>
<rect x="80.92" y="95.35" width="5.96" height="7.38" fill="#ea1c24" stroke="#3a3a3a" stroke-width="0.6"/>
<rect x="86.88" y="95.35" width="5.96" height="7.38" fill="#f06c6e" stroke="#3a3a3a" stroke-width="0.6"/>
<rect x="92.84" y="95.35" width="5.96" height="7.38" fill="#ea1c24" stroke="#3a3a3a" stroke-width="0.6"/>
<rect x="98.81" y="95.35" width="5.96" height="7.38" fill="#f06c6e" stroke="#3a3a3a" stroke-width="0.6"/>
<rect x="104.78" y="95.35" width="5.96" height="7.38" fill="#f8f7fc" stroke="#3a3a3a" stroke-width="0.6"/>
<rect x="110.74" y="95.35" width="5.96" height="7.38" fill="#f8c0c2" stroke="#3a3a3a" stroke-width="0.6"/>
<rect x="116.70" y="95.35" width="5.96" height="7.38" fill="#ea1c24" stroke="#3a3a3a" stroke-width="0.6"/>
<rect x="122.67" y="95.35" width="5.96" height="7.38" fill="#f8c0c2" stroke="#3a3a3a" stroke-width="0.6"/>
<rect x="128.63" y="95.35" width="5.96" height="7.38" fill="#f8c0c2" stroke="#3a3a3a" stroke-width="0.6"/>
<rect x="134.60" y="95.35" width="5.96" height="7.38" fill="#f8f7fc" stroke="#3a3a3a" stroke-width="0.6"/>
<rect x="140.56" y="95.35" width="5.96" height="7.38" fill="#f8c0c2" stroke="#3a3a3a" stroke-width="0.6"/>
<rect x="146.53" y="95.35" width="5.96" height="7.38" fill="#ea1c24" stroke="#3a3a3a" stroke-width="0.6"/>
<rect x="152.50" y="95.35" width="5.96" height="7.38" fill="#f8c0c2" stroke="#3a3a3a" stroke-width="0.6"/>
<rect x="158.46" y="95.35" width="5.96" height="7.38" fill="#f8c0c2" stroke="#3a3a3a" stroke-width="0.6"/>
<rect x="164.43" y="95.35" width="5.96" height="7.38" fill="#f8c0c2" stroke="#3a3a3a" stroke-width="0.6"/>
<rect x="170.39" y="95.35" width="5.96" height="7.38" fill="#f06c6e" stroke="#3a3a3a" stroke-width="0.6"/>
<rect x="176.36" y="95.35" width="5.96" height="7.38" fill="#f06c6e" stroke="#3a3a3a" stroke-width="0.6"/>
<rect x="182.32" y="95.35" width="5.96" height="7.38" fill="#ea1c24" stroke="#3a3a3a" stroke-width="0.6"/>
<rect x="188.28" y="95.35" width="5.96" height="7.38" fill="#f06c6e" stroke="#3a3a3a" stroke-width="0.6"/>
<rect x="194.25" y="95.35" width="5.96" height="7.38" fill="#bec0ea" stroke="#3a3a3a" stroke-width="0.6"/>
<rect x="200.22" y="95.35" width="5.96" height="7.38" fill="#f06c6e" stroke="#3a3a3a" stroke-width="0.6"/>
<rect x="206.18" y="95.35" width="5.96" height="7.38" fill="#f06c6e" stroke="#3a3a3a" stroke-width="0.6"/>
<rect x="212.14" y="95.35" width="5.96" height="7.38" fill="#f8c0c2" stroke="#3a3a3a" stroke-width="0.6"/>
<rect x="218.11" y="95.35" width="5.96" height="7.38" fill="#f8f7fc" stroke="#3a3a3a" stroke-width="0.6"/>
<rect x="224.07" y="95.35" width="5.96" height="7.38" fill="#f06c6e" stroke="#3a3a3a" stroke-width="0.6"/>
<rect x="230.04" y="95.35" width="5.96" height="7.38" fill="#f8c0c2" stroke="#3a3a3a" stroke-width="0.6"/>
<rect x="236.00" y="95.35" width="5.96" height="7.38" fill="#f06c6e" stroke="#3a3a3a" stroke-width="0.6"/>
<rect x="241.97" y="95.35" width="5.96" height="7.38" fill="#f8f7fc" stroke="#3a3a3a" stroke-width="0.6"/>
<rect x="247.94" y="95.35" width="5.96" height="7.38" fill="#ea1c24" stroke="#3a3a3a" stroke-width="0.6"/>
<rect x="253.90" y="95.35" width="5.96" height="7.38" fill="#f06c6e" stroke="#3a3a3a" stroke-width="0.6"/>
<rect x="259.87" y="95.35" width="5.96" height="7.38" fill="#ea1c24" stroke="#3a3a3a" stroke-width="0.6"/>
<rect x="265.83" y="95.35" width="5.96" height="7.38" fill="#f06c6e" stroke="#3a3a3a" stroke-width="0.6"/>
<rect x="271.80" y="95.35" width="5.96" height="7.38" fill="#bec0ea" stroke="#3a3a3a" stroke-width="0.6"/>
<rect x="277.76" y="95.35" width="5.96" height="7.38" fill="#ea1c24" stroke="#3a3a3a" stroke-width="0.6"/>
<rect x="283.73" y="95.35" width="5.96" height="7.38" fill="#f8f7fc" stroke="#3a3a3a" stroke-width="0.6"/>
<rect x="289.69" y="95.35" width="5.96" height="7.38" fill="#ea1c24" stroke="#3a3a3a" stroke-width="0.6"/>
<rect x="295.65" y="95.35" width="5.96" height="7.38" fill="#ea1c24" stroke="#3a3a3a" stroke-width="0.6"/>
<rect x="301.62" y="95.35" width="5.96" height="7.38" fill="#f06c6e" stroke="#3a3a3a" stroke-width="0.6"/>
<rect x="307.58" y="95.35" width="5.96" height="7.38" fill="#ea1c24" stroke="#3a3a3a" stroke-width="0.6"/>
<rect x="313.55" y="95.35" width="5.96" height="7.38" fill="#f8f7fc" stroke="#3a3a3a" stroke-width="0.6"/>
<rect x="74.95" y="102.72" width="5.96" height="7.38" fill="#ea1c24" stroke="#3a3a3a" stroke-width="0.6"/>
<rect x="80.92" y="102.72" width="5.96" height="7.38" fill="#f06c6e" stroke="#3a3a3a" stroke-width="0.6"/>
<rect x="86.88" y="102.72" width="5.96" height="7.38" fill="#f06c6e" stroke="#3a3a3a" stroke-width="0.6"/>
<rect x="92.84" y="102.72" width="5.96" height="7.38" fill="#f8f7fc" stroke="#3a3a3a" stroke-width="0.6"/>
<rect x="98.81" y="102.72" width="5.96" height="7.38" fill="#f06c6e" stroke="#3a3a3a" stroke-width="0.6"/>
<rect x="104.78" y="102.72" width="5.96" height="7.38" fill="#f8c0c2" stroke="#3a3a3a" stroke-width="0.6"/>
<rect x="110.74" y="102.72" width="5.96" height="7.38" fill="#f8c0c2" stroke="#3a3a3a" stroke-width="0.6"/>
<rect x="116.70" y="102.72" width="5.96" height="7.38" fill="#f06c6e" stroke="#3a3a3a" stroke-width="0.6"/>
<rect x="122.67" y="102.72" width="5.96" height="7.38" fill="#f8c0c2" stroke="#3a3a3a" stroke-width="0.6"/>
<rect x="128.63" y="102.72" width="5.96" height="7.38" fill="#f8c0c2" stroke="#3a3a3a" stroke-width="0.6"/>
<rect x="134.60" y="102.72" width="5.96" height="7.38" fill="#f8f7fc" stroke="#3a3a3a" stroke-width="0.6"/>
<rect x="140.56" y="102.72" width="5.96" height="7.38" fill="#ea1c24" stroke="#3a3a3a" stroke-width="0.6"/>
<rect x="146.53" y="102.72" width="5.96" height="7.38" fill="#ea1c24" stroke="#3a3a3a" stroke-width="0.6"/>
<rect x="152.50" y="102.72" width="5.96" height="7.38" fill="#ea1c24" stroke="#3a3a3a" stroke-width="0.6"/>
<rect x="158.46" y="102.72" width="5.96" height="7.38" fill="#bec0ea" stroke="#3a3a3a" stroke-width="0.6"/>
<rect x="164.43" y="102.72" width="5.96" height="7.38" fill="#f8c0c2" stroke="#3a3a3a" stroke-width="0.6"/>
<rect x="170.39" y="102.72" width="5.96" height="7.38" fill="#bec0ea" stroke="#3a3a3a" stroke-width="0.6"/>
<rect x="176.36" y="102.72" width="5.96" height="7.38" fill="#ea1c24" stroke="#3a3a3a" stroke-width="0.6"/>
<rect x="182.32" y="102.72" width="5.96" height="7.38" fill="#787ed0" stroke="#3a3a3a" stroke-width="0.6"/>
<rect x="188.28" y="102.72" width="5.96" height="7.38" fill="#ea1c24" stroke="#3a3a3a" stroke-width="0.6"/>
<rect x="194.25" y="102.72" width="5.96" height="7.38" fill="#bec0ea" stroke="#3a3a3a" stroke-width="0.6"/>
<rect x="200.22" y="102.72" width="5.96" height="7.38" fill="#f06c6e" stroke="#3a3a3a" stroke-width="0.6"/>
<rect x="206.18" y="102.72" width="5.96" height="7.38" fill="#bec0ea" stroke="#3a3a3a" stroke-width="0.6"/>
<rect x="212.14" y="102.72" width="5.96" height="7.38" fill="#ea1c24" stroke="#3a3a3a" stroke-width="0.6"/>
<rect x="218.11" y="102.72" width="5.96" height="7.38" fill="#f8c0c2" stroke="#3a3a3a" stroke-width="0.6"/>
<rect x="224.07" y="102.72" width="5.96" height="7.38" fill="#f06c6e" stroke="#3a3a3a" stroke-width="0.6"/>
<rect x="230.04" y="102.72" width="5.96" height="7.38" fill="#bec0ea" stroke="#3a3a3a" stroke-width="0.6"/>
<rect x="236.00" y="102.72" width="5.96" height="7.38" fill="#ea1c24" stroke="#3a3a3a" stroke-width="0.6"/>
<rect x="241.97" y="102.72" width="5.96" height="7.38" fill="#ea1c24" stroke="#3a3a3a" stroke-width="0.6"/>
<rect x="247.94" y="102.72" width="5.96" height="7.38" fill="#f8c0c2" stroke="#3a3a3a" stroke-width="0.6"/>
<rect x="253.90" y="102.72" width="5.96" height="7.38" fill="#ea1c24" stroke="#3a3a3a" stroke-width="0.6"/>
<rect x="259.87" y="102.72" width="5.96" height="7.38" fill="#f8c0c2" stroke="#3a3a3a" stroke-width="0.6"/>
<rect x="265.83" y="102.72" width="5.96" height="7.38" fill="#ea1c24" stroke="#3a3a3a" stroke-width="0.6"/>
<rect x="271.80" y="102.72" width="5.96" height="7.38" fill="#f8f7fc" stroke="#3a3a3a" stroke-width="0.6"/>
<rect x="277.76" y="102.72" width="5.96" height="7.38" fill="#f8f7fc" stroke="#3a3a3a" stroke-width="0.6"/>
<rect x="283.73" y="102.72" width="5.96" height="7.38" fill="#f06c6e" stroke="#3a3a3a" stroke-width="0.6"/>
<rect x="289.69" y="102.72" width="5.96" height="7.38" fill="#f8f7fc" stroke="#3a3a3a" stroke-width="0.6"/>
<rect x="295.65" y="102.72" width="5.96" height="7.38" fill="#bec0ea" stroke="#3a3a3a" stroke-width="0.6"/>
<rect x="301.62" y="102.72" width="5.96" height="7.38" fill="#3a50aa" stroke="#3a3a3a" stroke-width="0.6"/>
<rect x="307.58" y="102.72" width="5.96" height="7.38" fill="#ea1c24" stroke="#3a3a3a" stroke-width="0.6"/>
<rect x="313.55" y="102.72" width="5.96" height="7.38" fill="#f8c0c2" stroke="#3a3a3a" stroke-width="0.6"/>
<rect x="74.95" y="110.10" width="5.96" height="7.38" fill="#787ed0" stroke="#3a3a3a" stroke-width="0.6"/>
<rect x="80.92" y="110.10" width="5.96" height="7.38" fill="#3a50aa" stroke="#3a3a3a" stroke-width="0.6"/>
<rect x="86.88" y="110.10" width="5.96" height="7.38" fill="#3a50aa" stroke="#3a3a3a" stroke-width="0.6"/>
<rect x="92.84" y="110.10" width="5.96" height="7.38" fill="#bec0ea" stroke="#3a3a3a" stroke-width="0.6"/>
<rect x="98.81" y="110.10" width="5.96" height="7.38" fill="#787ed0" stroke="#3a3a3a" stroke-width="0.6"/>
<rect x="104.78" y="110.10" width="5.96" height="7.38" fill="#3a50aa" stroke="#3a3a3a" stroke-width="0.6"/>
<rect x="110.74" y="110.10" width="5.96" height="7.38" fill="#3a50aa" stroke="#3a3a3a" stroke-width="0.6"/>
<rect x="116.70" y="110.10" width="5.96" height="7.38" fill="#787ed0" stroke="#3a3a3a" stroke-width="0.6"/>
<rect x="122.67" y="110.10" width="5.96" height="7.38" fill="#787ed0" stroke="#3a3a3a" stroke-width="0.6"/>
<rect x="128.63" y="110.10" width="5.96" height="7.38" fill="#3a50aa" stroke="#3a3a3a" stroke-width="0.6"/>
<rect x="134.60" y="110.10" width="5.96" height="7.38" fill="#bec0ea" stroke="#3a3a3a" stroke-width="0.6"/>
<rect x="140.56" y="110.10" width="5.96" height="7.38" fill="#bec0ea" stroke="#3a3a3a" stroke-width="0.6"/>
<rect x="146.53" y="110.10" width="5.96" height="7.38" fill="#787ed0" stroke="#3a3a3a" stroke-width="0.6"/>
<rect x="152.50" y="110.10" width="5.96" height="7.38" fill="#787ed0" stroke="#3a3a3a" stroke-width="0.6"/>
<rect x="158.46" y="110.10" width="5.96" height="7.38" fill="#ea1c24" stroke="#3a3a3a" stroke-width="0.6"/>
<rect x="164.43" y="110.10" width="5.96" height="7.38" fill="#3a50aa" stroke="#3a3a3a" stroke-width="0.6"/>
<rect x="170.39" y="110.10" width="5.96" height="7.38" fill="#bec0ea" stroke="#3a3a3a" stroke-width="0.6"/>
<rect x="176.36" y="110.10" width="5.96" height="7.38" fill="#787ed0" stroke="#3a3a3a" stroke-width="0.6"/>
<rect x="182.32" y="110.10" width="5.96" height="7.38" fill="#787ed0" stroke="#3a3a3a" stroke-width="0.6"/>
<rect x="188.28" y="110.10" width="5.96" height="7.38" fill="#3a50aa" stroke="#3a3a3a" stroke-width="0.6"/>
<rect x="194.25" y="110.10" width="5.96" height="7.38" fill="#bec0ea" stroke="#3a3a3a" stroke-width="0.6"/>
<rect x="200.22" y="110.10" width="5.96" height="7.38" fill="#3a50aa" stroke="#3a3a3a" stroke-width="0.6"/>
<rect x="206.18" y="110.10" width="5.96" height="7.38" fill="#3a50aa" stroke="#3a3a3a" stroke-width="0.6"/>
<rect x="212.14" y="110.10" width="5.96" height="7.38" fill="#787ed0" stroke="#3a3a3a" stroke-width="0.6"/>
<rect x="218.11" y="110.10" width="5.96" height="7.38" fill="#bec0ea" stroke="#3a3a3a" stroke-width="0.6"/>
<rect x="224.07" y="110.10" width="5.96" height="7.38" fill="#3a50aa" stroke="#3a3a3a" stroke-width="0.6"/>
<rect x="230.04" y="110.10" width="5.96" height="7.38" fill="#f8c0c2" stroke="#3a3a3a" stroke-width="0.6"/>
<rect x="236.00" y="110.10" width="5.96" height="7.38" fill="#787ed0" stroke="#3a3a3a" stroke-width="0.6"/>
<rect x="241.97" y="110.10" width="5.96" height="7.38" fill="#787ed0" stroke="#3a3a3a" stroke-width="0.6"/>
<rect x="247.94" y="110.10" width="5.96" height="7.38" fill="#3a50aa" stroke="#3a3a3a" stroke-width="0.6"/>
<rect x="253.90" y="110.10" width="5.96" height="7.38" fill="#787ed0" stroke="#3a3a3a" stroke-width="0.6"/>
<rect x="259.87" y="110.10" width="5.96" height="7.38" fill="#3a50aa" stroke="#3a3a3a" stroke-width="0.6"/>
<rect x="265.83" y="110.10" width="5.96" height="7.38" fill="#787ed0" stroke="#3a3a3a" stroke-width="0.6"/>
<rect x="271.80" y="110.10" width="5.96" height="7.38" fill="#bec0ea" stroke="#3a3a3a" stroke-width="0.6"/>
<rect x="277.76" y="110.10" width="5.96" height="7.38" fill="#787ed0" stroke="#3a3a3a" stroke-width="0.6"/>
<rect x="283.73" y="110.10" width="5.96" height="7.38" fill="#bec0ea" stroke="#3a3a3a" stroke-width="0.6"/>
<rect x="289.69" y="110.10" width="5.96" height="7.38" fill="#3a50aa" stroke="#3a3a3a" stroke-width="0.6"/>
<rect x="295.65" y="110.10" width="5.96" height="7.38" fill="#bec0ea" stroke="#3a3a3a" stroke-width="0.6"/>
<rect x="301.62" y="110.10" width="5.96" height="7.38" fill="#f8f7fc" stroke="#3a3a3a" stroke-width="0.6"/>
<rect x="307.58" y="110.10" width="5.96" height="7.38" fill="#3a50aa" stroke="#3a3a3a" stroke-width="0.6"/>
<rect x="313.55" y="110.10" width="5.96" height="7.38" fill="#787ed0" stroke="#3a3a3a" stroke-width="0.6"/>
<rect x="74.95" y="117.47" width="5.96" height="7.38" fill="#bec0ea" stroke="#3a3a3a" stroke-width="0.6"/>
<rect x="80.92" y="117.47" width="5.96" height="7.38" fill="#f06c6e" stroke="#3a3a3a" stroke-width="0.6"/>
<rect x="86.88" y="117.47" width="5.96" height="7.38" fill="#f8c0c2" stroke="#3a3a3a" stroke-width="0.6"/>
<rect x="92.84" y="117.47" width="5.96" height="7.38" fill="#f06c6e" stroke="#3a3a3a" stroke-width="0.6"/>
<rect x="98.81" y="117.47" width="5.96" height="7.38" fill="#ea1c24" stroke="#3a3a3a" stroke-width="0.6"/>
<rect x="104.78" y="117.47" width="5.96" height="7.38" fill="#f8c0c2" stroke="#3a3a3a" stroke-width="0.6"/>
<rect x="110.74" y="117.47" width="5.96" height="7.38" fill="#f06c6e" stroke="#3a3a3a" stroke-width="0.6"/>
<rect x="116.70" y="117.47" width="5.96" height="7.38" fill="#f06c6e" stroke="#3a3a3a" stroke-width="0.6"/>
<rect x="122.67" y="117.47" width="5.96" height="7.38" fill="#f8c0c2" stroke="#3a3a3a" stroke-width="0.6"/>
<rect x="128.63" y="117.47" width="5.96" height="7.38" fill="#ea1c24" stroke="#3a3a3a" stroke-width="0.6"/>
<rect x="134.60" y="117.47" width="5.96" height="7.38" fill="#f8f7fc" stroke="#3a3a3a" stroke-width="0.6"/>
<rect x="140.56" y="117.47" width="5.96" height="7.38" fill="#f8c0c2" stroke="#3a3a3a" stroke-width="0.6"/>
<rect x="146.53" y="117.47" width="5.96" height="7.38" fill="#f8c0c2" stroke="#3a3a3a" stroke-width="0.6"/>
<rect x="152.50" y="117.47" width="5.96" height="7.38" fill="#f06c6e" stroke="#3a3a3a" stroke-width="0.6"/>
<rect x="158.46" y="117.47" width="5.96" height="7.38" fill="#f8c0c2" stroke="#3a3a3a" stroke-width="0.6"/>
<rect x="164.43" y="117.47" width="5.96" height="7.38" fill="#f8c0c2" stroke="#3a3a3a" stroke-width="0.6"/>
<rect x="170.39" y="117.47" width="5.96" height="7.38" fill="#f8c0c2" stroke="#3a3a3a" stroke-width="0.6"/>
<rect x="176.36" y="117.47" width="5.96" height="7.38" fill="#f8f7fc" stroke="#3a3a3a" stroke-width="0.6"/>
<rect x="182.32" y="117.47" width="5.96" height="7.38" fill="#f8c0c2" stroke="#3a3a3a" stroke-width="0.6"/>
<rect x="188.28" y="117.47" width="5.96" height="7.38" fill="#f8f7fc" stroke="#3a3a3a" stroke-width="0.6"/>
<rect x="194.25" y="117.47" width="5.96" height="7.38" fill="#bec0ea" stroke="#3a3a3a" stroke-width="0.6"/>
<rect x="200.22" y="117.47" width="5.96" height="7.38" fill="#ea1c24" stroke="#3a3a3a" stroke-width="0.6"/>
<rect x="206.18" y="117.47" width="5.96" height="7.38" fill="#f8f7fc" stroke="#3a3a3a" stroke-width="0.6"/>
<rect x="212.14" y="117.47" width="5.96" height="7.38" fill="#f8c0c2" stroke="#3a3a3a" stroke-width="0.6"/>
<rect x="218.11" y="117.47" width="5.96" height="7.38" fill="#bec0ea" stroke="#3a3a3a" stroke-width="0.6"/>
<rect x="224.07" y="117.47" width="5.96" height="7.38" fill="#f8c0c2" stroke="#3a3a3a" stroke-width="0.6"/>
<rect x="230.04" y="117.47" width="5.96" height="7.38" fill="#f8c0c2" stroke="#3a3a3a" stroke-width="0.6"/>
<rect x="236.00" y="117.47" width="5.96" height="7.38" fill="#bec0ea" stroke="#3a3a3a" stroke-width="0.6"/>
<rect x="241.97" y="117.47" width="5.96" height="7.38" fill="#f8f7fc" stroke="#3a3a3a" stroke-width="0.6"/>
<rect x="247.94" y="117.47" width="5.96" height="7.38" fill="#bec0ea" stroke="#3a3a3a" stroke-width="0.6"/>
<rect x="253.90" y="117.47" width="5.96" height="7.38" fill="#f06c6e" stroke="#3a3a3a" stroke-width="0.6"/>
<rect x="259.87" y="117.47" width="5.96" height="7.38" fill="#ea1c24" stroke="#3a3a3a" stroke-width="0.6"/>
<rect x="265.83" y="117.47" width="5.96" height="7.38" fill="#f8f7fc" stroke="#3a3a3a" stroke-width="0.6"/>
<rect x="271.80" y="117.47" width="5.96" height="7.38" fill="#f8f7fc" stroke="#3a3a3a" stroke-width="0.6"/>
<rect x="277.76" y="117.47" width="5.96" height="7.38" fill="#ea1c24" stroke="#3a3a3a" stroke-width="0.6"/>
<rect x="283.73" y="117.47" width="5.96" height="7.38" fill="#ea1c24" stroke="#3a3a3a" stroke-width="0.6"/>
<rect x="289.69" y="117.47" width="5.96" height="7.38" fill="#ea1c24" stroke="#3a3a3a" stroke-width="0.6"/>
<rect x="295.65" y="117.47" width="5.96" height="7.38" fill="#f8f7fc" stroke="#3a3a3a" stroke-width="0.6"/>
<rect x="301.62" y="117.47" width="5.96" height="7.38" fill="#f06c6e" stroke="#3a3a3a" stroke-width="0.6"/>
<rect x="307.58" y="117.47" width="5.96" height="7.38" fill="#f8f7fc" stroke="#3a3a3a" stroke-width="0.6"/>
<rect x="313.55" y="117.47" width="5.96" height="7.38" fill="#ea1c24" stroke="#3a3a3a" stroke-width="0.6"/>
<rect x="74.95" y="124.85" width="5.96" height="7.38" fill="#ea1c24" stroke="#3a3a3a" stroke-width="0.6"/>
<rect x="80.92" y="124.85" width="5.96" height="7.38" fill="#787ed0" stroke="#3a3a3a" stroke-width="0.6"/>
<rect x="86.88" y="124.85" width="5.96" height="7.38" fill="#ea1c24" stroke="#3a3a3a" stroke-width="0.6"/>
<rect x="92.84" y="124.85" width="5.96" height="7.38" fill="#f8f7fc" stroke="#3a3a3a" stroke-width="0.6"/>
<rect x="98.81" y="124.85" width="5.96" height="7.38" fill="#bec0ea" stroke="#3a3a3a" stroke-width="0.6"/>
<rect x="104.78" y="124.85" width="5.96" height="7.38" fill="#787ed0" stroke="#3a3a3a" stroke-width="0.6"/>
<rect x="110.74" y="124.85" width="5.96" height="7.38" fill="#bec0ea" stroke="#3a3a3a" stroke-width="0.6"/>
<rect x="116.70" y="124.85" width="5.96" height="7.38" fill="#bec0ea" stroke="#3a3a3a" stroke-width="0.6"/>
<rect x="122.67" y="124.85" width="5.96" height="7.38" fill="#787ed0" stroke="#3a3a3a" stroke-width="0.6"/>
<rect x="128.63" y="124.85" width="5.96" height="7.38" fill="#787ed0" stroke="#3a3a3a" stroke-width="0.6"/>
<rect x="134.60" y="124.85" width="5.96" height="7.38" fill="#bec0ea" stroke="#3a3a3a" stroke-width="0.6"/>
<rect x="140.56" y="124.85" width="5.96" height="7.38" fill="#bec0ea" stroke="#3a3a3a" stroke-width="0.6"/>
<rect x="146.53" y="124.85" width="5.96" height="7.38" fill="#f8f7fc" stroke="#3a3a3a" stroke-width="0.6"/>
<rect x="152.50" y="124.85" width="5.96" height="7.38" fill="#bec0ea" stroke="#3a3a3a" stroke-width="0.6"/>
<rect x="158.46" y="124.85" width="5.96" height="7.38" fill="#bec0ea" stroke="#3a3a3a" stroke-width="0.6"/>
<rect x="164.43" y="124.85" width="5.96" height="7.38" fill="#787ed0" stroke="#3a3a3a" stroke-width="0.6"/>
<rect x="170.39" y="124.85" width="5.96" height="7.38" fill="#ea1c24" stroke="#3a3a3a" stroke-width="0.6"/>
<rect x="176.36" y="124.85" width="5.96" height="7.38" fill="#f8f7fc" stroke="#3a3a3a" stroke-width="0.6"/>
<rect x="182.32" y="124.85" width="5.96" height="7.38" fill="#f06c6e" stroke="#3a3a3a" stroke-width="0.6"/>
<rect x="188.28" y="124.85" width="5.96" height="7.38" fill="#bec0ea" stroke="#3a3a3a" stroke-width="0.6"/>
<rect x="194.25" y="124.85" width="5.96" height="7.38" fill="#ea1c24" stroke="#3a3a3a" stroke-width="0.6"/>
<rect x="200.22" y="124.85" width="5.96" height="7.38" fill="#f8c0c2" stroke="#3a3a3a" stroke-width="0.6"/>
<rect x="206.18" y="124.85" width="5.96" height="7.38" fill="#f06c6e" stroke="#3a3a3a" stroke-width="0.6"/>
<rect x="212.14" y="124.85" width="5.96" height="7.38" fill="#f8f7fc" stroke="#3a3a3a" stroke-width="0.6"/>
<rect x="218.11" y="124.85" width="5.96" height="7.38" fill="#bec0ea" stroke="#3a3a3a" stroke-width="0.6"/>
<rect x="224.07" y="124.85" width="5.96" height="7.38" fill="#3a50aa" stroke="#3a3a3a" stroke-width="0.6"/>
<rect x="230.04" y="124.85" width="5.96" height="7.38" fill="#bec0ea" stroke="#3a3a3a" stroke-width="0.6"/>
<rect x="236.00" y="124.85" width="5.96" height="7.38" fill="#f8c0c2" stroke="#3a3a3a" stroke-width="0.6"/>
<rect x="241.97" y="124.85" width="5.96" height="7.38" fill="#bec0ea" stroke="#3a3a3a" stroke-width="0.6"/>
<rect x="247.94" y="124.85" width="5.96" height="7.38" fill="#ea1c24" stroke="#3a3a3a" stroke-width="0.6"/>
<rect x="253.90" y="124.85" width="5.96" height="7.38" fill="#bec0ea" stroke="#3a3a3a" stroke-width="0.6"/>
<rect x="259.87" y="124.85" width="5.96" height="7.38" fill="#bec0ea" stroke="#3a3a3a" stroke-width="0.6"/>
<rect x="265.83" y="124.85" width="5.96" height="7.38" fill="#f8f7fc" stroke="#3a3a3a" stroke-width="0.6"/>
<rect x="271.80" y="124.85" width="5.96" height="7.38" fill="#bec0ea" stroke="#3a3a3a" stroke-width="0.6"/>
<rect x="277.76" y="124.85" width="5.96" height="7.38" fill="#bec0ea" stroke="#3a3a3a" stroke-width="0.6"/>
<rect x="283.73" y="124.85" width="5.96" height="7.38" fill="#bec0ea" stroke="#3a3a3a" stroke-width="0.6"/>
<rect x="289.69" y="124.85" width="5.96" height="7.38" fill="#bec0ea" stroke="#3a3a3a" stroke-width="0.6"/>
<rect x="295.65" y="124.85" width="5.96" height="7.38" fill="#ea1c24" stroke="#3a3a3a" stroke-width="0.6"/>
<rect x="301.62" y="124.85" width="5.96" height="7.38" fill="#bec0ea" stroke="#3a3a3a" stroke-width="0.6"/>
<rect x="307.58" y="124.85" width="5.96" height="7.38" fill="#f8c0c2" stroke="#3a3a3a" stroke-width="0.6"/>
<rect x="313.55" y="124.85" width="5.96" height="7.38" fill="#bec0ea" stroke="#3a3a3a" stroke-width="0.6"/>
<rect x="74.95" y="132.22" width="5.96" height="7.38" fill="#bec0ea" stroke="#3a3a3a" stroke-width="0.6"/>
<rect x="80.92" y="132.22" width="5.96" height="7.38" fill="#f8f7fc" stroke="#3a3a3a" stroke-width="0.6"/>
<rect x="86.88" y="132.22" width="5.96" height="7.38" fill="#3a50aa" stroke="#3a3a3a" stroke-width="0.6"/>
<rect x="92.84" y="132.22" width="5.96" height="7.38" fill="#bec0ea" stroke="#3a3a3a" stroke-width="0.6"/>
<rect x="98.81" y="132.22" width="5.96" height="7.38" fill="#787ed0" stroke="#3a3a3a" stroke-width="0.6"/>
<rect x="104.78" y="132.22" width="5.96" height="7.38" fill="#f8f7fc" stroke="#3a3a3a" stroke-width="0.6"/>
<rect x="110.74" y="132.22" width="5.96" height="7.38" fill="#bec0ea" stroke="#3a3a3a" stroke-width="0.6"/>
<rect x="116.70" y="132.22" width="5.96" height="7.38" fill="#bec0ea" stroke="#3a3a3a" stroke-width="0.6"/>
<rect x="122.67" y="132.22" width="5.96" height="7.38" fill="#f8f7fc" stroke="#3a3a3a" stroke-width="0.6"/>
<rect x="128.63" y="132.22" width="5.96" height="7.38" fill="#f06c6e" stroke="#3a3a3a" stroke-width="0.6"/>
<rect x="134.60" y="132.22" width="5.96" height="7.38" fill="#bec0ea" stroke="#3a3a3a" stroke-width="0.6"/>
<rect x="140.56" y="132.22" width="5.96" height="7.38" fill="#787ed0" stroke="#3a3a3a" stroke-width="0.6"/>
<rect x="146.53" y="132.22" width="5.96" height="7.38" fill="#f8f7fc" stroke="#3a3a3a" stroke-width="0.6"/>
<rect x="152.50" y="132.22" width="5.96" height="7.38" fill="#787ed0" stroke="#3a3a3a" stroke-width="0.6"/>
<rect x="158.46" y="132.22" width="5.96" height="7.38" fill="#787ed0" stroke="#3a3a3a" stroke-width="0.6"/>
<rect x="164.43" y="132.22" width="5.96" height="7.38" fill="#f8f7fc" stroke="#3a3a3a" stroke-width="0.6"/>
<rect x="170.39" y="132.22" width="5.96" height="7.38" fill="#3a50aa" stroke="#3a3a3a" stroke-width="0.6"/>
<rect x="176.36" y="132.22" width="5.96" height="7.38" fill="#bec0ea" stroke="#3a3a3a" stroke-width="0.6"/>
<rect x="182.32" y="132.22" width="5.96" height="7.38" fill="#3a50aa" stroke="#3a3a3a" stroke-width="0.6"/>
<rect x="188.28" y="132.22" width="5.96" height="7.38" fill="#bec0ea" stroke="#3a3a3a" stroke-width="0.6"/>
<rect x="194.25" y="132.22" width="5.96" height="7.38" fill="#787ed0" stroke="#3a3a3a" stroke-width="0.6"/>
<rect x="200.22" y="132.22" width="5.96" height="7.38" fill="#bec0ea" stroke="#3a3a3a" stroke-width="0.6"/>
<rect x="206.18" y="132.22" width="5.96" height="7.38" fill="#f8f7fc" stroke="#3a3a3a" stroke-width="0.6"/>
<rect x="212.14" y="132.22" width="5.96" height="7.38" fill="#787ed0" stroke="#3a3a3a" stroke-width="0.6"/>
<rect x="218.11" y="132.22" width="5.96" height="7.38" fill="#bec0ea" stroke="#3a3a3a" stroke-width="0.6"/>
<rect x="224.07" y="132.22" width="5.96" height="7.38" fill="#f8f7fc" stroke="#3a3a3a" stroke-width="0.6"/>
<rect x="230.04" y="132.22" width="5.96" height="7.38" fill="#bec0ea" stroke="#3a3a3a" stroke-width="0.6"/>
<rect x="236.00" y="132.22" width="5.96" height="7.38" fill="#787ed0" stroke="#3a3a3a" stroke-width="0.6"/>
<rect x="241.97" y="132.22" width="5.96" height="7.38" fill="#f8c0c2" stroke="#3a3a3a" stroke-width="0.6"/>
<rect x="247.94" y="132.22" width="5.96" height="7.38" fill="#787ed0" stroke="#3a3a3a" stroke-width="0.6"/>
<rect x="253.90" y="132.22" width="5.96" height="7.38" fill="#bec0ea" stroke="#3a3a3a" stroke-width="0.6"/>
<rect x="259.87" y="132.22" width="5.96" height="7.38" fill="#bec0ea" stroke="#3a3a3a" stroke-width="0.6"/>
<rect x="265.83" y="132.22" width="5.96" height="7.38" fill="#787ed0" stroke="#3a3a3a" stroke-width="0.6"/>
<rect x="271.80" y="132.22" width="5.96" height="7.38" fill="#bec0ea" stroke="#3a3a3a" stroke-width="0.6"/>
<rect x="277.76" y="132.22" width="5.96" height="7.38" fill="#3a50aa" stroke="#3a3a3a" stroke-width="0.6"/>
<rect x="283.73" y="132.22" width="5.96" height="7.38" fill="#bec0ea" stroke="#3a3a3a" stroke-width="0.6"/>
<rect x="289.69" y="132.22" width="5.96" height="7.38" fill="#787ed0" stroke="#3a3a3a" stroke-width="0.6"/>
<rect x="295.65" y="132.22" width="5.96" height="7.38" fill="#3a50aa" stroke="#3a3a3a" stroke-width="0.6"/>
<rect x="301.62" y="132.22" width="5.96" height="7.38" fill="#787ed0" stroke="#3a3a3a" stroke-width="0.6"/>
<rect x="307.58" y="132.22" width="5.96" height="7.38" fill="#f8f7fc" stroke="#3a3a3a" stroke-width="0.6"/>
<rect x="313.55" y="132.22" width="5.96" height="7.38" fill="#bec0ea" stroke="#3a3a3a" stroke-width="0.6"/>
<rect x="74.95" y="139.60" width="5.96" height="7.38" fill="#f8f7fc" stroke="#3a3a3a" stroke-width="0.6"/>
<rect x="80.92" y="139.60" width="5.96" height="7.38" fill="#f8c0c2" stroke="#3a3a3a" stroke-width="0.6"/>
<rect x="86.88" y="139.60" width="5.96" height="7.38" fill="#f06c6e" stroke="#3a3a3a" stroke-width="0.6"/>
<rect x="92.84" y="139.60" width="5.96" height="7.38" fill="#bec0ea" stroke="#3a3a3a" stroke-width="0.6"/>
<rect x="98.81" y="139.60" width="5.96" height="7.38" fill="#f06c6e" stroke="#3a3a3a" stroke-width="0.6"/>
<rect x="104.78" y="139.60" width="5.96" height="7.38" fill="#f8c0c2" stroke="#3a3a3a" stroke-width="0.6"/>
<rect x="110.74" y="139.60" width="5.96" height="7.38" fill="#ea1c24" stroke="#3a3a3a" stroke-width="0.6"/>
<rect x="116.70" y="139.60" width="5.96" height="7.38" fill="#ea1c24" stroke="#3a3a3a" stroke-width="0.6"/>
<rect x="122.67" y="139.60" width="5.96" height="7.38" fill="#f06c6e" stroke="#3a3a3a" stroke-width="0.6"/>
<rect x="128.63" y="139.60" width="5.96" height="7.38" fill="#f06c6e" stroke="#3a3a3a" stroke-width="0.6"/>
<rect x="134.60" y="139.60" width="5.96" height="7.38" fill="#bec0ea" stroke="#3a3a3a" stroke-width="0.6"/>
<rect x="140.56" y="139.60" width="5.96" height="7.38" fill="#ea1c24" stroke="#3a3a3a" stroke-width="0.6"/>
<rect x="146.53" y="139.60" width="5.96" height="7.38" fill="#bec0ea" stroke="#3a3a3a" stroke-width="0.6"/>
<rect x="152.50" y="139.60" width="5.96" height="7.38" fill="#ea1c24" stroke="#3a3a3a" stroke-width="0.6"/>
<rect x="158.46" y="139.60" width="5.96" height="7.38" fill="#f8f7fc" stroke="#3a3a3a" stroke-width="0.6"/>
<rect x="164.43" y="139.60" width="5.96" height="7.38" fill="#f8c0c2" stroke="#3a3a3a" stroke-width="0.6"/>
<rect x="170.39" y="139.60" width="5.96" height="7.38" fill="#3a50aa" stroke="#3a3a3a" stroke-width="0.6"/>
<rect x="176.36" y="139.60" width="5.96" height="7.38" fill="#f06c6e" stroke="#3a3a3a" stroke-width="0.6"/>
<rect x="182.32" y="139.60" width="5.96" height="7.38" fill="#3a50aa" stroke="#3a3a3a" stroke-width="0.6"/>
<rect x="188.28" y="139.60" width="5.96" height="7.38" fill="#ea1c24" stroke="#3a3a3a" stroke-width="0.6"/>
<rect x="194.25" y="139.60" width="5.96" height="7.38" fill="#787ed0" stroke="#3a3a3a" stroke-width="0.6"/>
<rect x="200.22" y="139.60" width="5.96" height="7.38" fill="#f8c0c2" stroke="#3a3a3a" stroke-width="0.6"/>
<rect x="206.18" y="139.60" width="5.96" height="7.38" fill="#ea1c24" stroke="#3a3a3a" stroke-width="0.6"/>
<rect x="212.14" y="139.60" width="5.96" height="7.38" fill="#ea1c24" stroke="#3a3a3a" stroke-width="0.6"/>
<rect x="218.11" y="139.60" width="5.96" height="7.38" fill="#ea1c24" stroke="#3a3a3a" stroke-width="0.6"/>
<rect x="224.07" y="139.60" width="5.96" height="7.38" fill="#ea1c24" stroke="#3a3a3a" stroke-width="0.6"/>
<rect x="230.04" y="139.60" width="5.96" height="7.38" fill="#f06c6e" stroke="#3a3a3a" stroke-width="0.6"/>
<rect x="236.00" y="139.60" width="5.96" height="7.38" fill="#ea1c24" stroke="#3a3a3a" stroke-width="0.6"/>
<rect x="241.97" y="139.60" width="5.96" height="7.38" fill="#f8f7fc" stroke="#3a3a3a" stroke-width="0.6"/>
<rect x="247.94" y="139.60" width="5.96" height="7.38" fill="#f8c0c2" stroke="#3a3a3a" stroke-width="0.6"/>
<rect x="253.90" y="139.60" width="5.96" height="7.38" fill="#ea1c24" stroke="#3a3a3a" stroke-width="0.6"/>
<rect x="259.87" y="139.60" width="5.96" height="7.38" fill="#f8f7fc" stroke="#3a3a3a" stroke-width="0.6"/>
<rect x="265.83" y="139.60" width="5.96" height="7.38" fill="#f06c6e" stroke="#3a3a3a" stroke-width="0.6"/>
<rect x="271.80" y="139.60" width="5.96" height="7.38" fill="#bec0ea" stroke="#3a3a3a" stroke-width="0.6"/>
<rect x="277.76" y="139.60" width="5.96" height="7.38" fill="#3a50aa" stroke="#3a3a3a" stroke-width="0.6"/>
<rect x="283.73" y="139.60" width="5.96" height="7.38" fill="#f8c0c2" stroke="#3a3a3a" stroke-width="0.6"/>
<rect x="289.69" y="139.60" width="5.96" height="7.38" fill="#f8c0c2" stroke="#3a3a3a" stroke-width="0.6"/>
<rect x="295.65" y="139.60" width="5.96" height="7.38" fill="#bec0ea" stroke="#3a3a3a" stroke-width="0.6"/>
<rect x="301.62" y="139.60" width="5.96" height="7.38" fill="#f8f7fc" stroke="#3a3a3a" stroke-width="0.6"/>
<rect x="307.58" y="139.60" width="5.96" height="7.38" fill="#f8c0c2" stroke="#3a3a3a" stroke-width="0.6"/>
<rect x="313.55" y="139.60" width="5.96" height="7.38" fill="#f06c6e" stroke="#3a3a3a" stroke-width="0.6"/>
<rect x="74.95" y="146.97" width="5.96" height="7.38" fill="#bec0ea" stroke="#3a3a3a" stroke-width="0.6"/>
<rect x="80.92" y="146.97" width="5.96" height="7.38" fill="#bec0ea" stroke="#3a3a3a" stroke-width="0.6"/>
<rect x="86.88" y="146.97" width="5.96" height="7.38" fill="#f8f7fc" stroke="#3a3a3a" stroke-width="0.6"/>
<rect x="92.84" y="146.97" width="5.96" height="7.38" fill="#bec0ea" stroke="#3a3a3a" stroke-width="0.6"/>
<rect x="98.81" y="146.97" width="5.96" height="7.38" fill="#bec0ea" stroke="#3a3a3a" stroke-width="0.6"/>
<rect x="104.78" y="146.97" width="5.96" height="7.38" fill="#f8f7fc" stroke="#3a3a3a" stroke-width="0.6"/>
<rect x="110.74" y="146.97" width="5.96" height="7.38" fill="#bec0ea" stroke="#3a3a3a" stroke-width="0.6"/>
<rect x="116.70" y="146.97" width="5.96" height="7.38" fill="#f8c0c2" stroke="#3a3a3a" stroke-width="0.6"/>
<rect x="122.67" y="146.97" width="5.96" height="7.38" fill="#bec0ea" stroke="#3a3a3a" stroke-width="0.6"/>
<rect x="128.63" y="146.97" width="5.96" height="7.38" fill="#f8c0c2" stroke="#3a3a3a" stroke-width="0.6"/>
<rect x="134.60" y="146.97" width="5.96" height="7.38" fill="#f8c0c2" stroke="#3a3a3a" stroke-width="0.6"/>
<rect x="140.56" y="146.97" width="5.96" height="7.38" fill="#f8f7fc" stroke="#3a3a3a" stroke-width="0.6"/>
<rect x="146.53" y="146.97" width="5.96" height="7.38" fill="#bec0ea" stroke="#3a3a3a" stroke-width="0.6"/>
<rect x="152.50" y="146.97" width="5.96" height="7.38" fill="#bec0ea" stroke="#3a3a3a" stroke-width="0.6"/>
<rect x="158.46" y="146.97" width="5.96" height="7.38" fill="#bec0ea" stroke="#3a3a3a" stroke-width="0.6"/>
<rect x="164.43" y="146.97" width="5.96" height="7.38" fill="#bec0ea" stroke="#3a3a3a" stroke-width="0.6"/>
<rect x="170.39" y="146.97" width="5.96" height="7.38" fill="#f8c0c2" stroke="#3a3a3a" stroke-width="0.6"/>
<rect x="176.36" y="146.97" width="5.96" height="7.38" fill="#bec0ea" stroke="#3a3a3a" stroke-width="0.6"/>
<rect x="182.32" y="146.97" width="5.96" height="7.38" fill="#f8f7fc" stroke="#3a3a3a" stroke-width="0.6"/>
<rect x="188.28" y="146.97" width="5.96" height="7.38" fill="#bec0ea" stroke="#3a3a3a" stroke-width="0.6"/>
<rect x="194.25" y="146.97" width="5.96" height="7.38" fill="#f8f7fc" stroke="#3a3a3a" stroke-width="0.6"/>
<rect x="200.22" y="146.97" width="5.96" height="7.38" fill="#3a50aa" stroke="#3a3a3a" stroke-width="0.6"/>
<rect x="206.18" y="146.97" width="5.96" height="7.38" fill="#bec0ea" stroke="#3a3a3a" stroke-width="0.6"/>
<rect x="212.14" y="146.97" width="5.96" height="7.38" fill="#f8c0c2" stroke="#3a3a3a" stroke-width="0.6"/>
<rect x="218.11" y="146.97" width="5.96" height="7.38" fill="#bec0ea" stroke="#3a3a3a" stroke-width="0.6"/>
<rect x="224.07" y="146.97" width="5.96" height="7.38" fill="#bec0ea" stroke="#3a3a3a" stroke-width="0.6"/>
<rect x="230.04" y="146.97" width="5.96" height="7.38" fill="#ea1c24" stroke="#3a3a3a" stroke-width="0.6"/>
<rect x="236.00" y="146.97" width="5.96" height="7.38" fill="#bec0ea" stroke="#3a3a3a" stroke-width="0.6"/>
<rect x="241.97" y="146.97" width="5.96" height="7.38" fill="#bec0ea" stroke="#3a3a3a" stroke-width="0.6"/>
<rect x="247.94" y="146.97" width="5.96" height="7.38" fill="#bec0ea" stroke="#3a3a3a" stroke-width="0.6"/>
<rect x="253.90" y="146.97" width="5.96" height="7.38" fill="#bec0ea" stroke="#3a3a3a" stroke-width="0.6"/>
<rect x="259.87" y="146.97" width="5.96" height="7.38" fill="#f8f7fc" stroke="#3a3a3a" stroke-width="0.6"/>
<rect x="265.83" y="146.97" width="5.96" height="7.38" fill="#bec0ea" stroke="#3a3a3a" stroke-width="0.6"/>
<rect x="271.80" y="146.97" width="5.96" height="7.38" fill="#ea1c24" stroke="#3a3a3a" stroke-width="0.6"/>
<rect x="277.76" y="146.97" width="5.96" height="7.38" fill="#f06c6e" stroke="#3a3a3a" stroke-width="0.6"/>
<rect x="283.73" y="146.97" width="5.96" height="7.38" fill="#bec0ea" stroke="#3a3a3a" stroke-width="0.6"/>
<rect x="289.69" y="146.97" width="5.96" height="7.38" fill="#f8c0c2" stroke="#3a3a3a" stroke-width="0.6"/>
<rect x="295.65" y="146.97" width="5.96" height="7.38" fill="#f8c0c2" stroke="#3a3a3a" stroke-width="0.6"/>
<rect x="301.62" y="146.97" width="5.96" height="7.38" fill="#ea1c24" stroke="#3a3a3a" stroke-width="0.6"/>
<rect x="307.58" y="146.97" width="5.96" height="7.38" fill="#bec0ea" stroke="#3a3a3a" stroke-width="0.6"/>
<rect x="313.55" y="146.97" width="5.96" height="7.38" fill="#f8f7fc" stroke="#3a3a3a" stroke-width="0.6"/>
<rect x="74.95" y="154.35" width="5.96" height="7.38" fill="#787ed0" stroke="#3a3a3a" stroke-width="0.6"/>
<rect x="80.92" y="154.35" width="5.96" height="7.38" fill="#ea1c24" stroke="#3a3a3a" stroke-width="0.6"/>
<rect x="86.88" y="154.35" width="5.96" height="7.38" fill="#ea1c24" stroke="#3a3a3a" stroke-width="0.6"/>
<rect x="92.84" y="154.35" width="5.96" height="7.38" fill="#f8f7fc" stroke="#3a3a3a" stroke-width="0.6"/>
<rect x="98.81" y="154.35" width="5.96" height="7.38" fill="#f8f7fc" stroke="#3a3a3a" stroke-width="0.6"/>
<rect x="104.78" y="154.35" width="5.96" height="7.38" fill="#ea1c24" stroke="#3a3a3a" stroke-width="0.6"/>
<rect x="110.74" y="154.35" width="5.96" height="7.38" fill="#f8f7fc" stroke="#3a3a3a" stroke-width="0.6"/>
<rect x="116.70" y="154.35" width="5.96" height="7.38" fill="#bec0ea" stroke="#3a3a3a" stroke-width="0.6"/>
<rect x="122.67" y="154.35" width="5.96" height="7.38" fill="#ea1c24" stroke="#3a3a3a" stroke-width="0.6"/>
<rect x="128.63" y="154.35" width="5.96" height="7.38" fill="#f8f7fc" stroke="#3a3a3a" stroke-width="0.6"/>
<rect x="134.60" y="154.35" width="5.96" height="7.38" fill="#787ed0" stroke="#3a3a3a" stroke-width="0.6"/>
<rect x="140.56" y="154.35" width="5.96" height="7.38" fill="#bec0ea" stroke="#3a3a3a" stroke-width="0.6"/>
<rect x="146.53" y="154.35" width="5.96" height="7.38" fill="#bec0ea" stroke="#3a3a3a" stroke-width="0.6"/>
<rect x="152.50" y="154.35" width="5.96" height="7.38" fill="#f8f7fc" stroke="#3a3a3a" stroke-width="0.6"/>
<rect x="158.46" y="154.35" width="5.96" height="7.38" fill="#f8c0c2" stroke="#3a3a3a" stroke-width="0.6"/>
<rect x="164.43" y="154.35" width="5.96" height="7.38" fill="#f06c6e" stroke="#3a3a3a" stroke-width="0.6"/>
<rect x="170.39" y="154.35" width="5.96" height="7.38" fill="#bec0ea" stroke="#3a3a3a" stroke-width="0.6"/>
<rect x="176.36" y="154.35" width="5.96" height="7.38" fill="#bec0ea" stroke="#3a3a3a" stroke-width="0.6"/>
<rect x="182.32" y="154.35" width="5.96" height="7.38" fill="#f8f7fc" stroke="#3a3a3a" stroke-width="0.6"/>
<rect x="188.28" y="154.35" width="5.96" height="7.38" fill="#bec0ea" stroke="#3a3a3a" stroke-width="0.6"/>
<rect x="194.25" y="154.35" width="5.96" height="7.38" fill="#787ed0" stroke="#3a3a3a" stroke-width="0.6"/>
<rect x="200.22" y="154.35" width="5.96" height="7.38" fill="#bec0ea" stroke="#3a3a3a" stroke-width="0.6"/>
<rect x="206.18" y="154.35" width="5.96" height="7.38" fill="#bec0ea" stroke="#3a3a3a" stroke-width="0.6"/>
<rect x="212.14" y="154.35" width="5.96" height="7.38" fill="#bec0ea" stroke="#3a3a3a" stroke-width="0.6"/>
<rect x="218.11" y="154.35" width="5.96" height="7.38" fill="#bec0ea" stroke="#3a3a3a" stroke-width="0.6"/>
<rect x="224.07" y="154.35" width="5.96" height="7.38" fill="#f8f7fc" stroke="#3a3a3a" stroke-width="0.6"/>
<rect x="230.04" y="154.35" width="5.96" height="7.38" fill="#bec0ea" stroke="#3a3a3a" stroke-width="0.6"/>
<rect x="236.00" y="154.35" width="5.96" height="7.38" fill="#787ed0" stroke="#3a3a3a" stroke-width="0.6"/>
<rect x="241.97" y="154.35" width="5.96" height="7.38" fill="#f8c0c2" stroke="#3a3a3a" stroke-width="0.6"/>
<rect x="247.94" y="154.35" width="5.96" height="7.38" fill="#787ed0" stroke="#3a3a3a" stroke-width="0.6"/>
<rect x="253.90" y="154.35" width="5.96" height="7.38" fill="#bec0ea" stroke="#3a3a3a" stroke-width="0.6"/>
<rect x="259.87" y="154.35" width="5.96" height="7.38" fill="#f8f7fc" stroke="#3a3a3a" stroke-width="0.6"/>
<rect x="265.83" y="154.35" width="5.96" height="7.38" fill="#f8c0c2" stroke="#3a3a3a" stroke-width="0.6"/>
<rect x="271.80" y="154.35" width="5.96" height="7.38" fill="#bec0ea" stroke="#3a3a3a" stroke-width="0.6"/>
<rect x="277.76" y="154.35" width="5.96" height="7.38" fill="#bec0ea" stroke="#3a3a3a" stroke-width="0.6"/>
<rect x="283.73" y="154.35" width="5.96" height="7.38" fill="#bec0ea" stroke="#3a3a3a" stroke-width="0.6"/>
<rect x="289.69" y="154.35" width="5.96" height="7.38" fill="#f8c0c2" stroke="#3a3a3a" stroke-width="0.6"/>
<rect x="295.65" y="154.35" width="5.96" height="7.38" fill="#f06c6e" stroke="#3a3a3a" stroke-width="0.6"/>
<rect x="301.62" y="154.35" width="5.96" height="7.38" fill="#f8c0c2" stroke="#3a3a3a" stroke-width="0.6"/>
<rect x="307.58" y="154.35" width="5.96" height="7.38" fill="#bec0ea" stroke="#3a3a3a" stroke-width="0.6"/>
<rect x="313.55" y="154.35" width="5.96" height="7.38" fill="#f8f7fc" stroke="#3a3a3a" stroke-width="0.6"/>
<rect x="74.95" y="161.72" width="5.96" height="7.38" fill="#787ed0" stroke="#3a3a3a" stroke-width="0.6"/>
<rect x="80.92" y="161.72" width="5.96" height="7.38" fill="#bec0ea" stroke="#3a3a3a" stroke-width="0.6"/>
<rect x="86.88" y="161.72" width="5.96" height="7.38" fill="#bec0ea" stroke="#3a3a3a" stroke-width="0.6"/>
<rect x="92.84" y="161.72" width="5.96" height="7.38" fill="#bec0ea" stroke="#3a3a3a" stroke-width="0.6"/>
<rect x="98.81" y="161.72" width="5.96" height="7.38" fill="#f8c0c2" stroke="#3a3a3a" stroke-width="0.6"/>
<rect x="104.78" y="161.72" width="5.96" height="7.38" fill="#f8f7fc" stroke="#3a3a3a" stroke-width="0.6"/>
<rect x="110.74" y="161.72" width="5.96" height="7.38" fill="#f8c0c2" stroke="#3a3a3a" stroke-width="0.6"/>
<rect x="116.70" y="161.72" width="5.96" height="7.38" fill="#3a50aa" stroke="#3a3a3a" stroke-width="0.6"/>
<rect x="122.67" y="161.72" width="5.96" height="7.38" fill="#787ed0" stroke="#3a3a3a" stroke-width="0.6"/>
<rect x="128.63" y="161.72" width="5.96" height="7.38" fill="#f8c0c2" stroke="#3a3a3a" stroke-width="0.6"/>
<rect x="134.60" y="161.72" width="5.96" height="7.38" fill="#bec0ea" stroke="#3a3a3a" stroke-width="0.6"/>
<rect x="140.56" y="161.72" width="5.96" height="7.38" fill="#bec0ea" stroke="#3a3a3a" stroke-width="0.6"/>
<rect x="146.53" y="161.72" width="5.96" height="7.38" fill="#bec0ea" stroke="#3a3a3a" stroke-width="0.6"/>
<rect x="152.50" y="161.72" width="5.96" height="7.38" fill="#f8f7fc" stroke="#3a3a3a" stroke-width="0.6"/>
<rect x="158.46" y="161.72" width="5.96" height="7.38" fill="#787ed0" stroke="#3a3a3a" stroke-width="0.6"/>
<rect x="164.43" y="161.72" width="5.96" height="7.38" fill="#ea1c24" stroke="#3a3a3a" stroke-width="0.6"/>
<rect x="170.39" y="161.72" width="5.96" height="7.38" fill="#787ed0" stroke="#3a3a3a" stroke-width="0.6"/>
<rect x="176.36" y="161.72" width="5.96" height="7.38" fill="#f8f7fc" stroke="#3a3a3a" stroke-width="0.6"/>
<rect x="182.32" y="161.72" width="5.96" height="7.38" fill="#3a50aa" stroke="#3a3a3a" stroke-width="0.6"/>
<rect x="188.28" y="161.72" width="5.96" height="7.38" fill="#f8f7fc" stroke="#3a3a3a" stroke-width="0.6"/>
<rect x="194.25" y="161.72" width="5.96" height="7.38" fill="#bec0ea" stroke="#3a3a3a" stroke-width="0.6"/>
<rect x="200.22" y="161.72" width="5.96" height="7.38" fill="#f06c6e" stroke="#3a3a3a" stroke-width="0.6"/>
<rect x="206.18" y="161.72" width="5.96" height="7.38" fill="#f8f7fc" stroke="#3a3a3a" stroke-width="0.6"/>
<rect x="212.14" y="161.72" width="5.96" height="7.38" fill="#f06c6e" stroke="#3a3a3a" stroke-width="0.6"/>
<rect x="218.11" y="161.72" width="5.96" height="7.38" fill="#bec0ea" stroke="#3a3a3a" stroke-width="0.6"/>
<rect x="224.07" y="161.72" width="5.96" height="7.38" fill="#f06c6e" stroke="#3a3a3a" stroke-width="0.6"/>
<rect x="230.04" y="161.72" width="5.96" height="7.38" fill="#bec0ea" stroke="#3a3a3a" stroke-width="0.6"/>
<rect x="236.00" y="161.72" width="5.96" height="7.38" fill="#bec0ea" stroke="#3a3a3a" stroke-width="0.6"/>
<rect x="241.97" y="161.72" width="5.96" height="7.38" fill="#bec0ea" stroke="#3a3a3a" stroke-width="0.6"/>
<rect x="247.94" y="161.72" width="5.96" height="7.38" fill="#f8f7fc" stroke="#3a3a3a" stroke-width="0.6"/>
<rect x="253.90" y="161.72" width="5.96" height="7.38" fill="#f8f7fc" stroke="#3a3a3a" stroke-width="0.6"/>
<rect x="259.87" y="161.72" width="5.96" height="7.38" fill="#f8c0c2" stroke="#3a3a3a" stroke-width="0.6"/>
<rect x="265.83" y="161.72" width="5.96" height="7.38" fill="#bec0ea" stroke="#3a3a3a" stroke-width="0.6"/>
<rect x="271.80" y="161.72" width="5.96" height="7.38" fill="#787ed0" stroke="#3a3a3a" stroke-width="0.6"/>
<rect x="277.76" y="161.72" width="5.96" height="7.38" fill="#787ed0" stroke="#3a3a3a" stroke-width="0.6"/>
<rect x="283.73" y="161.72" width="5.96" height="7.38" fill="#f8f7fc" stroke="#3a3a3a" stroke-width="0.6"/>
<rect x="289.69" y="161.72" width="5.96" height="7.38" fill="#787ed0" stroke="#3a3a3a" stroke-width="0.6"/>
<rect x="295.65" y="161.72" width="5.96" height="7.38" fill="#3a50aa" stroke="#3a3a3a" stroke-width="0.6"/>
<rect x="301.62" y="161.72" width="5.96" height="7.38" fill="#787ed0" stroke="#3a3a3a" stroke-width="0.6"/>
<rect x="307.58" y="161.72" width="5.96" height="7.38" fill="#f8c0c2" stroke="#3a3a3a" stroke-width="0.6"/>
<rect x="313.55" y="161.72" width="5.96" height="7.38" fill="#f8c0c2" stroke="#3a3a3a" stroke-width="0.6"/>
<text x="80.03" y="171.8" font-size="6" text-anchor="end" font-weight="normal" fill="#222" stroke="#222" stroke-width="0.18" transform="rotate(-90 80.03 171.8)">EGF</text>
<text x="86.0" y="171.8" font-size="6" text-anchor="end" font-weight="normal" fill="#222" stroke="#222" stroke-width="0.18" transform="rotate(-90 86.0 171.8)">FGF2</text>
<text x="91.96" y="171.8" font-size="6" text-anchor="end" font-weight="normal" fill="#222" stroke="#222" stroke-width="0.18" transform="rotate(-90 91.96 171.8)">Eotaxin</text>
<text x="97.93" y="171.8" font-size="6" text-anchor="end" font-weight="normal" fill="#222" stroke="#222" stroke-width="0.18" transform="rotate(-90 97.93 171.8)">TGFα</text>
<text x="103.89" y="171.8" font-size="6" text-anchor="end" font-weight="normal" fill="#222" stroke="#222" stroke-width="0.18" transform="rotate(-90 103.89 171.8)">G−CSF</text>
<text x="109.86" y="171.8" font-size="6" text-anchor="end" font-weight="normal" fill="#222" stroke="#222" stroke-width="0.18" transform="rotate(-90 109.86 171.8)">Flt−3L</text>
<text x="115.82" y="171.8" font-size="6" text-anchor="end" font-weight="normal" fill="#222" stroke="#222" stroke-width="0.18" transform="rotate(-90 115.82 171.8)">GM−CSF</text>
<text x="121.79" y="171.8" font-size="6" text-anchor="end" font-weight="normal" fill="#222" stroke="#222" stroke-width="0.18" transform="rotate(-90 121.79 171.8)">Fractalkine</text>
<text x="127.75" y="171.8" font-size="6" text-anchor="end" font-weight="normal" fill="#222" stroke="#222" stroke-width="0.18" transform="rotate(-90 127.75 171.8)">IFNα2</text>
<text x="133.72" y="171.8" font-size="6" text-anchor="end" font-weight="normal" fill="#222" stroke="#222" stroke-width="0.18" transform="rotate(-90 133.72 171.8)">IFN−γ</text>
<text x="139.68" y="171.8" font-size="6" text-anchor="end" font-weight="normal" fill="#222" stroke="#222" stroke-width="0.18" transform="rotate(-90 139.68 171.8)">GRO</text>
<text x="145.65" y="171.8" font-size="6" text-anchor="end" font-weight="normal" fill="#222" stroke="#222" stroke-width="0.18" transform="rotate(-90 145.65 171.8)">IL−10</text>
<text x="151.61" y="171.8" font-size="6" text-anchor="end" font-weight="normal" fill="#222" stroke="#222" stroke-width="0.18" transform="rotate(-90 151.61 171.8)">MCP−3</text>
<text x="157.58" y="171.8" font-size="6" text-anchor="end" font-weight="normal" fill="#222" stroke="#222" stroke-width="0.18" transform="rotate(-90 157.58 171.8)">IL−12p40</text>
<text x="163.54" y="171.8" font-size="6" text-anchor="end" font-weight="normal" fill="#222" stroke="#222" stroke-width="0.18" transform="rotate(-90 163.54 171.8)">MDC</text>
<text x="169.51" y="171.8" font-size="6" text-anchor="end" font-weight="normal" fill="#222" stroke="#222" stroke-width="0.18" transform="rotate(-90 169.51 171.8)">IL−12p70</text>
<text x="175.47" y="171.8" font-size="6" text-anchor="end" font-weight="normal" fill="#222" stroke="#222" stroke-width="0.18" transform="rotate(-90 175.47 171.8)">PDGF−AA</text>
<text x="181.44" y="171.8" font-size="6" text-anchor="end" font-weight="normal" fill="#222" stroke="#222" stroke-width="0.18" transform="rotate(-90 181.44 171.8)">IL−13</text>
<text x="187.4" y="171.8" font-size="6" text-anchor="end" font-weight="normal" fill="#222" stroke="#222" stroke-width="0.18" transform="rotate(-90 187.4 171.8)">PDGF−BB</text>
<text x="193.37" y="171.8" font-size="6" text-anchor="end" font-weight="normal" fill="#222" stroke="#222" stroke-width="0.18" transform="rotate(-90 193.37 171.8)">IL−15</text>
<text x="199.33" y="171.8" font-size="6" text-anchor="end" font-weight="normal" fill="#222" stroke="#222" stroke-width="0.18" transform="rotate(-90 199.33 171.8)">sCD40L</text>
<text x="205.3" y="171.8" font-size="6" text-anchor="end" font-weight="normal" fill="#222" stroke="#222" stroke-width="0.18" transform="rotate(-90 205.3 171.8)">IL−17</text>
<text x="211.26" y="171.8" font-size="6" text-anchor="end" font-weight="normal" fill="#222" stroke="#222" stroke-width="0.18" transform="rotate(-90 211.26 171.8)">IL−1RA</text>
<text x="217.23" y="171.8" font-size="6" text-anchor="end" font-weight="normal" fill="#222" stroke="#222" stroke-width="0.18" transform="rotate(-90 217.23 171.8)">IL−1α</text>
<text x="223.19" y="171.8" font-size="6" text-anchor="end" font-weight="normal" fill="#222" stroke="#222" stroke-width="0.18" transform="rotate(-90 223.19 171.8)">IL−9</text>
<text x="229.16" y="171.8" font-size="6" text-anchor="end" font-weight="normal" fill="#222" stroke="#222" stroke-width="0.18" transform="rotate(-90 229.16 171.8)">IL−1β</text>
<text x="235.12" y="171.8" font-size="6" text-anchor="end" font-weight="normal" fill="#222" stroke="#222" stroke-width="0.18" transform="rotate(-90 235.12 171.8)">IL−2</text>
<text x="241.09" y="171.8" font-size="6" text-anchor="end" font-weight="normal" fill="#222" stroke="#222" stroke-width="0.18" transform="rotate(-90 241.09 171.8)">IL−3</text>
<text x="247.05" y="171.8" font-size="6" text-anchor="end" font-weight="normal" fill="#222" stroke="#222" stroke-width="0.18" transform="rotate(-90 247.05 171.8)">IL−4</text>
<text x="253.02" y="171.8" font-size="6" text-anchor="end" font-weight="normal" fill="#222" stroke="#222" stroke-width="0.18" transform="rotate(-90 253.02 171.8)">IL−5</text>
<text x="258.98" y="171.8" font-size="6" text-anchor="end" font-weight="normal" fill="#222" stroke="#222" stroke-width="0.18" transform="rotate(-90 258.98 171.8)">IL−6</text>
<text x="264.95" y="171.8" font-size="6" text-anchor="end" font-weight="normal" fill="#222" stroke="#222" stroke-width="0.18" transform="rotate(-90 264.95 171.8)">IL−7</text>
<text x="270.91" y="171.8" font-size="6" text-anchor="end" font-weight="normal" fill="#222" stroke="#222" stroke-width="0.18" transform="rotate(-90 270.91 171.8)">IL−8</text>
<text x="276.88" y="171.8" font-size="6" text-anchor="end" font-weight="normal" fill="#222" stroke="#222" stroke-width="0.18" transform="rotate(-90 276.88 171.8)">IP−10</text>
<text x="282.84" y="171.8" font-size="6" text-anchor="end" font-weight="normal" fill="#222" stroke="#222" stroke-width="0.18" transform="rotate(-90 282.84 171.8)">MCP−1</text>
<text x="288.81" y="171.8" font-size="6" text-anchor="end" font-weight="normal" fill="#222" stroke="#222" stroke-width="0.18" transform="rotate(-90 288.81 171.8)">MIP−1α</text>
<text x="294.77" y="171.8" font-size="6" text-anchor="end" font-weight="normal" fill="#222" stroke="#222" stroke-width="0.18" transform="rotate(-90 294.77 171.8)">MIP−1β</text>
<text x="300.74" y="171.8" font-size="6" text-anchor="end" font-weight="normal" fill="#222" stroke="#222" stroke-width="0.18" transform="rotate(-90 300.74 171.8)">RANTES</text>
<text x="306.7" y="171.8" font-size="6" text-anchor="end" font-weight="normal" fill="#222" stroke="#222" stroke-width="0.18" transform="rotate(-90 306.7 171.8)">TNF−α</text>
<text x="312.67" y="171.8" font-size="6" text-anchor="end" font-weight="normal" fill="#222" stroke="#222" stroke-width="0.18" transform="rotate(-90 312.67 171.8)">TNF−β</text>
<text x="318.63" y="171.8" font-size="6" text-anchor="end" font-weight="normal" fill="#222" stroke="#222" stroke-width="0.18" transform="rotate(-90 318.63 171.8)">VEGF</text>
<text x="68.39999999999999" y="171.8" font-size="6" text-anchor="end" font-weight="normal" fill="#222" stroke="#222" stroke-width="0.18" transform="rotate(-90 68.39999999999999 171.8)">Phenotype</text>
<text x="320.9" y="24.3" font-size="16.2" text-anchor="start" font-weight="bold" fill="#000">B</text>
<text x="385.3" y="24.2" font-size="12.1" text-anchor="start" font-weight="bold" fill="#000">Functional Scores</text>
<rect x="333.3" y="36.80" width="8.6" height="7.38" fill="#6a6a6a" stroke="#333" stroke-width="0.6"/>
<rect x="333.3" y="44.17" width="8.6" height="7.38" fill="#6a6a6a" stroke="#333" stroke-width="0.6"/>
<rect x="333.3" y="51.55" width="8.6" height="7.38" fill="#6a6a6a" stroke="#333" stroke-width="0.6"/>
<rect x="333.3" y="58.92" width="8.6" height="7.38" fill="#d9a422" stroke="#333" stroke-width="0.6"/>
<rect x="333.3" y="66.30" width="8.6" height="7.38" fill="#d9a422" stroke="#333" stroke-width="0.6"/>
<rect x="333.3" y="73.67" width="8.6" height="7.38" fill="#d9a422" stroke="#333" stroke-width="0.6"/>
<rect x="333.3" y="81.05" width="8.6" height="7.38" fill="#d9a422" stroke="#333" stroke-width="0.6"/>
<rect x="333.3" y="88.42" width="8.6" height="7.38" fill="#d9a422" stroke="#333" stroke-width="0.6"/>
<rect x="333.3" y="95.80" width="8.6" height="7.38" fill="#d9a422" stroke="#333" stroke-width="0.6"/>
<rect x="333.3" y="103.17" width="8.6" height="7.38" fill="#d9a422" stroke="#333" stroke-width="0.6"/>
<rect x="333.3" y="110.55" width="8.6" height="7.38" fill="#d9a422" stroke="#333" stroke-width="0.6"/>
<rect x="333.3" y="117.92" width="8.6" height="7.38" fill="#d9a422" stroke="#333" stroke-width="0.6"/>
<rect x="333.3" y="125.30" width="8.6" height="7.38" fill="#d9a422" stroke="#333" stroke-width="0.6"/>
<rect x="333.3" y="132.68" width="8.6" height="7.38" fill="#d9a422" stroke="#333" stroke-width="0.6"/>
<rect x="333.3" y="140.05" width="8.6" height="7.38" fill="#d9a422" stroke="#333" stroke-width="0.6"/>
<rect x="333.3" y="147.43" width="8.6" height="7.38" fill="#d9a422" stroke="#333" stroke-width="0.6"/>
<rect x="333.3" y="154.80" width="8.6" height="7.38" fill="#d9a422" stroke="#333" stroke-width="0.6"/>
<rect x="333.3" y="162.18" width="8.6" height="7.38" fill="#d9a422" stroke="#333" stroke-width="0.6"/>
<rect x="345.60" y="37.50" width="11.36" height="6.67" fill="#ee5c4a" stroke="#555" stroke-width="0.5"/>
<rect x="356.96" y="37.50" width="11.36" height="6.67" fill="#ee5c4a" stroke="#555" stroke-width="0.5"/>
<rect x="368.32" y="37.50" width="11.36" height="6.67" fill="#ee5c4a" stroke="#555" stroke-width="0.5"/>
<rect x="379.68" y="37.50" width="11.36" height="6.67" fill="#ee5c4a" stroke="#555" stroke-width="0.5"/>
<rect x="391.04" y="37.50" width="11.36" height="6.67" fill="#ee5c4a" stroke="#555" stroke-width="0.5"/>
<rect x="345.60" y="44.17" width="11.36" height="7.38" fill="#96a2b0" stroke="#555" stroke-width="0.5"/>
<rect x="356.96" y="44.17" width="11.36" height="7.38" fill="#96a2b0" stroke="#555" stroke-width="0.5"/>
<rect x="368.32" y="44.17" width="11.36" height="7.38" fill="#f49688" stroke="#555" stroke-width="0.5"/>
<rect x="379.68" y="44.17" width="11.36" height="7.38" fill="#f49688" stroke="#555" stroke-width="0.5"/>
<rect x="391.04" y="44.17" width="11.36" height="7.38" fill="#fcfcfc" stroke="#555" stroke-width="0.5"/>
<rect x="345.60" y="51.55" width="11.36" height="7.38" fill="#f49688" stroke="#555" stroke-width="0.5"/>
<rect x="356.96" y="51.55" width="11.36" height="7.38" fill="#f49688" stroke="#555" stroke-width="0.5"/>
<rect x="368.32" y="51.55" width="11.36" height="7.38" fill="#f49688" stroke="#555" stroke-width="0.5"/>
<rect x="379.68" y="51.55" width="11.36" height="7.38" fill="#f49688" stroke="#555" stroke-width="0.5"/>
<rect x="391.04" y="51.55" width="11.36" height="7.38" fill="#ee5c4a" stroke="#555" stroke-width="0.5"/>
<rect x="345.60" y="58.92" width="11.36" height="7.38" fill="#6c7c8e" stroke="#555" stroke-width="0.5"/>
<rect x="356.96" y="58.92" width="11.36" height="7.38" fill="#f9cec8" stroke="#555" stroke-width="0.5"/>
<rect x="368.32" y="58.92" width="11.36" height="7.38" fill="#f49688" stroke="#555" stroke-width="0.5"/>
<rect x="379.68" y="58.92" width="11.36" height="7.38" fill="#f6b2a8" stroke="#555" stroke-width="0.5"/>
<rect x="391.04" y="58.92" width="11.36" height="7.38" fill="#fcfcfc" stroke="#555" stroke-width="0.5"/>
<rect x="345.60" y="66.30" width="11.36" height="7.38" fill="#ee5c4a" stroke="#555" stroke-width="0.5"/>
<rect x="356.96" y="66.30" width="11.36" height="7.38" fill="#fcfcfc" stroke="#555" stroke-width="0.5"/>
<rect x="368.32" y="66.30" width="11.36" height="7.38" fill="#fadcd8" stroke="#555" stroke-width="0.5"/>
<rect x="379.68" y="66.30" width="11.36" height="7.38" fill="#fadcd8" stroke="#555" stroke-width="0.5"/>
<rect x="391.04" y="66.30" width="11.36" height="7.38" fill="#fcfcfc" stroke="#555" stroke-width="0.5"/>
<rect x="345.60" y="73.67" width="11.36" height="7.38" fill="#f49688" stroke="#555" stroke-width="0.5"/>
<rect x="356.96" y="73.67" width="11.36" height="7.38" fill="#fcfcfc" stroke="#555" stroke-width="0.5"/>
<rect x="368.32" y="73.67" width="11.36" height="7.38" fill="#e2e5ea" stroke="#555" stroke-width="0.5"/>
<rect x="379.68" y="73.67" width="11.36" height="7.38" fill="#f07363" stroke="#555" stroke-width="0.5"/>
<rect x="391.04" y="73.67" width="11.36" height="7.38" fill="#fcfcfc" stroke="#555" stroke-width="0.5"/>
<rect x="345.60" y="81.05" width="11.36" height="7.38" fill="#f49688" stroke="#555" stroke-width="0.5"/>
<rect x="356.96" y="81.05" width="11.36" height="7.38" fill="#f9cec8" stroke="#555" stroke-width="0.5"/>
<rect x="368.32" y="81.05" width="11.36" height="7.38" fill="#e2e5ea" stroke="#555" stroke-width="0.5"/>
<rect x="379.68" y="81.05" width="11.36" height="7.38" fill="#96a2b0" stroke="#555" stroke-width="0.5"/>
<rect x="391.04" y="81.05" width="11.36" height="7.38" fill="#c8ced7" stroke="#555" stroke-width="0.5"/>
<rect x="345.60" y="88.42" width="11.36" height="7.38" fill="#96a2b0" stroke="#555" stroke-width="0.5"/>
<rect x="356.96" y="88.42" width="11.36" height="7.38" fill="#c8ced7" stroke="#555" stroke-width="0.5"/>
<rect x="368.32" y="88.42" width="11.36" height="7.38" fill="#e2e5ea" stroke="#555" stroke-width="0.5"/>
<rect x="379.68" y="88.42" width="11.36" height="7.38" fill="#f9cec8" stroke="#555" stroke-width="0.5"/>
<rect x="391.04" y="88.42" width="11.36" height="7.38" fill="#818f9f" stroke="#555" stroke-width="0.5"/>
<rect x="345.60" y="95.80" width="11.36" height="7.38" fill="#f49688" stroke="#555" stroke-width="0.5"/>
<rect x="356.96" y="95.80" width="11.36" height="7.38" fill="#c8ced7" stroke="#555" stroke-width="0.5"/>
<rect x="368.32" y="95.80" width="11.36" height="7.38" fill="#e2e5ea" stroke="#555" stroke-width="0.5"/>
<rect x="379.68" y="95.80" width="11.36" height="7.38" fill="#fcfcfc" stroke="#555" stroke-width="0.5"/>
<rect x="391.04" y="95.80" width="11.36" height="7.38" fill="#c8ced7" stroke="#555" stroke-width="0.5"/>
<rect x="345.60" y="103.17" width="11.36" height="7.38" fill="#fbeae7" stroke="#555" stroke-width="0.5"/>
<rect x="356.96" y="103.17" width="11.36" height="7.38" fill="#96a2b0" stroke="#555" stroke-width="0.5"/>
<rect x="368.32" y="103.17" width="11.36" height="7.38" fill="#e7eaed" stroke="#555" stroke-width="0.5"/>
<rect x="379.68" y="103.17" width="11.36" height="7.38" fill="#afb8c4" stroke="#555" stroke-width="0.5"/>
<rect x="391.04" y="103.17" width="11.36" height="7.38" fill="#c8ced7" stroke="#555" stroke-width="0.5"/>
<rect x="345.60" y="110.55" width="11.36" height="7.38" fill="#f8bdb5" stroke="#555" stroke-width="0.5"/>
<rect x="356.96" y="110.55" width="11.36" height="7.38" fill="#c8ced7" stroke="#555" stroke-width="0.5"/>
<rect x="368.32" y="110.55" width="11.36" height="7.38" fill="#e7eaed" stroke="#555" stroke-width="0.5"/>
<rect x="379.68" y="110.55" width="11.36" height="7.38" fill="#fadcd8" stroke="#555" stroke-width="0.5"/>
<rect x="391.04" y="110.55" width="11.36" height="7.38" fill="#ee5c4a" stroke="#555" stroke-width="0.5"/>
<rect x="345.60" y="117.92" width="11.36" height="7.38" fill="#96a2b0" stroke="#555" stroke-width="0.5"/>
<rect x="356.96" y="117.92" width="11.36" height="7.38" fill="#f6b2a8" stroke="#555" stroke-width="0.5"/>
<rect x="368.32" y="117.92" width="11.36" height="7.38" fill="#e7eaed" stroke="#555" stroke-width="0.5"/>
<rect x="379.68" y="117.92" width="11.36" height="7.38" fill="#f6a79b" stroke="#555" stroke-width="0.5"/>
<rect x="391.04" y="117.92" width="11.36" height="7.38" fill="#f6b2a8" stroke="#555" stroke-width="0.5"/>
<rect x="345.60" y="125.30" width="11.36" height="7.38" fill="#fbeae7" stroke="#555" stroke-width="0.5"/>
<rect x="356.96" y="125.30" width="11.36" height="7.38" fill="#c8ced7" stroke="#555" stroke-width="0.5"/>
<rect x="368.32" y="125.30" width="11.36" height="7.38" fill="#e7eaed" stroke="#555" stroke-width="0.5"/>
<rect x="379.68" y="125.30" width="11.36" height="7.38" fill="#f49688" stroke="#555" stroke-width="0.5"/>
<rect x="391.04" y="125.30" width="11.36" height="7.38" fill="#fcfcfc" stroke="#555" stroke-width="0.5"/>
<rect x="345.60" y="132.68" width="11.36" height="7.38" fill="#96a2b0" stroke="#555" stroke-width="0.5"/>
<rect x="356.96" y="132.68" width="11.36" height="7.38" fill="#c8ced7" stroke="#555" stroke-width="0.5"/>
<rect x="368.32" y="132.68" width="11.36" height="7.38" fill="#b9c1cb" stroke="#555" stroke-width="0.5"/>
<rect x="379.68" y="132.68" width="11.36" height="7.38" fill="#8e9aa9" stroke="#555" stroke-width="0.5"/>
<rect x="391.04" y="132.68" width="11.36" height="7.38" fill="#96a2b0" stroke="#555" stroke-width="0.5"/>
<rect x="345.60" y="140.05" width="11.36" height="7.38" fill="#96a2b0" stroke="#555" stroke-width="0.5"/>
<rect x="356.96" y="140.05" width="11.36" height="7.38" fill="#c8ced7" stroke="#555" stroke-width="0.5"/>
<rect x="368.32" y="140.05" width="11.36" height="7.38" fill="#b9c1cb" stroke="#555" stroke-width="0.5"/>
<rect x="379.68" y="140.05" width="11.36" height="7.38" fill="#8e9aa9" stroke="#555" stroke-width="0.5"/>
<rect x="391.04" y="140.05" width="11.36" height="7.38" fill="#c8ced7" stroke="#555" stroke-width="0.5"/>
<rect x="345.60" y="147.43" width="11.36" height="7.38" fill="#96a2b0" stroke="#555" stroke-width="0.5"/>
<rect x="356.96" y="147.43" width="11.36" height="7.38" fill="#c8ced7" stroke="#555" stroke-width="0.5"/>
<rect x="368.32" y="147.43" width="11.36" height="7.38" fill="#b9c1cb" stroke="#555" stroke-width="0.5"/>
<rect x="379.68" y="147.43" width="11.36" height="7.38" fill="#8e9aa9" stroke="#555" stroke-width="0.5"/>
<rect x="391.04" y="147.43" width="11.36" height="7.38" fill="#c8ced7" stroke="#555" stroke-width="0.5"/>
<rect x="345.60" y="154.80" width="11.36" height="7.38" fill="#f6a79b" stroke="#555" stroke-width="0.5"/>
<rect x="356.96" y="154.80" width="11.36" height="7.38" fill="#fcfcfc" stroke="#555" stroke-width="0.5"/>
<rect x="368.32" y="154.80" width="11.36" height="7.38" fill="#8e9aa9" stroke="#555" stroke-width="0.5"/>
<rect x="379.68" y="154.80" width="11.36" height="7.38" fill="#8e9aa9" stroke="#555" stroke-width="0.5"/>
<rect x="391.04" y="154.80" width="11.36" height="7.38" fill="#c8ced7" stroke="#555" stroke-width="0.5"/>
<rect x="345.60" y="162.18" width="11.36" height="7.38" fill="#f6a79b" stroke="#555" stroke-width="0.5"/>
<rect x="356.96" y="162.18" width="11.36" height="7.38" fill="#f9cec8" stroke="#555" stroke-width="0.5"/>
<rect x="368.32" y="162.18" width="11.36" height="7.38" fill="#8e9aa9" stroke="#555" stroke-width="0.5"/>
<rect x="379.68" y="162.18" width="11.36" height="7.38" fill="#8e9aa9" stroke="#555" stroke-width="0.5"/>
<rect x="391.04" y="162.18" width="11.36" height="7.38" fill="#c8ced7" stroke="#555" stroke-width="0.5"/>
<rect x="449.5" y="35.70" width="8.8" height="7.38" fill="#6a6a6a" stroke="#333" stroke-width="0.6"/>
<rect x="449.5" y="43.08" width="8.8" height="7.38" fill="#6a6a6a" stroke="#333" stroke-width="0.6"/>
<rect x="449.5" y="50.45" width="8.8" height="7.38" fill="#6a6a6a" stroke="#333" stroke-width="0.6"/>
<rect x="449.5" y="57.83" width="8.8" height="7.38" fill="#d9a422" stroke="#333" stroke-width="0.6"/>
<rect x="449.5" y="65.20" width="8.8" height="7.38" fill="#d9a422" stroke="#333" stroke-width="0.6"/>
<rect x="449.5" y="72.58" width="8.8" height="7.38" fill="#d9a422" stroke="#333" stroke-width="0.6"/>
<rect x="449.5" y="79.95" width="8.8" height="7.38" fill="#d9a422" stroke="#333" stroke-width="0.6"/>
<rect x="449.5" y="87.33" width="8.8" height="7.38" fill="#d9a422" stroke="#333" stroke-width="0.6"/>
<rect x="449.5" y="94.70" width="8.8" height="7.38" fill="#d9a422" stroke="#333" stroke-width="0.6"/>
<rect x="449.5" y="102.08" width="8.8" height="7.38" fill="#d9a422" stroke="#333" stroke-width="0.6"/>
<rect x="449.5" y="109.45" width="8.8" height="7.38" fill="#d9a422" stroke="#333" stroke-width="0.6"/>
<rect x="449.5" y="116.83" width="8.8" height="7.38" fill="#d9a422" stroke="#333" stroke-width="0.6"/>
<rect x="449.5" y="124.20" width="8.8" height="7.38" fill="#d9a422" stroke="#333" stroke-width="0.6"/>
<rect x="449.5" y="131.57" width="8.8" height="7.38" fill="#d9a422" stroke="#333" stroke-width="0.6"/>
<rect x="449.5" y="138.95" width="8.8" height="7.38" fill="#d9a422" stroke="#333" stroke-width="0.6"/>
<rect x="449.5" y="146.32" width="8.8" height="7.38" fill="#d9a422" stroke="#333" stroke-width="0.6"/>
<rect x="449.5" y="153.70" width="8.8" height="7.38" fill="#d9a422" stroke="#333" stroke-width="0.6"/>
<rect x="449.5" y="161.07" width="8.8" height="7.38" fill="#d9a422" stroke="#333" stroke-width="0.6"/>
<rect x="461.80" y="35.70" width="11.27" height="7.38" fill="#ee5c4a" stroke="#555" stroke-width="0.5"/>
<rect x="473.07" y="35.70" width="11.27" height="7.38" fill="#ee5c4a" stroke="#555" stroke-width="0.5"/>
<rect x="484.34" y="35.70" width="11.27" height="7.38" fill="#f28575" stroke="#555" stroke-width="0.5"/>
<rect x="495.61" y="35.70" width="11.27" height="7.38" fill="#ee5c4a" stroke="#555" stroke-width="0.5"/>
<rect x="461.80" y="43.08" width="11.27" height="7.38" fill="#f8c3bb" stroke="#555" stroke-width="0.5"/>
<rect x="473.07" y="43.08" width="11.27" height="7.38" fill="#ee5c4a" stroke="#555" stroke-width="0.5"/>
<rect x="484.34" y="43.08" width="11.27" height="7.38" fill="#fcfcfc" stroke="#555" stroke-width="0.5"/>
<rect x="495.61" y="43.08" width="11.27" height="7.38" fill="#f8bdb5" stroke="#555" stroke-width="0.5"/>
<rect x="461.80" y="50.45" width="11.27" height="7.38" fill="#ee5c4a" stroke="#555" stroke-width="0.5"/>
<rect x="473.07" y="50.45" width="11.27" height="7.38" fill="#d8dce2" stroke="#555" stroke-width="0.5"/>
<rect x="484.34" y="50.45" width="11.27" height="7.38" fill="#f28575" stroke="#555" stroke-width="0.5"/>
<rect x="495.61" y="50.45" width="11.27" height="7.38" fill="#f8bdb5" stroke="#555" stroke-width="0.5"/>
<rect x="461.80" y="57.83" width="11.27" height="7.38" fill="#fcfcfc" stroke="#555" stroke-width="0.5"/>
<rect x="473.07" y="57.83" width="11.27" height="7.38" fill="#f8bdb5" stroke="#555" stroke-width="0.5"/>
<rect x="484.34" y="57.83" width="11.27" height="7.38" fill="#f28575" stroke="#555" stroke-width="0.5"/>
<rect x="495.61" y="57.83" width="11.27" height="7.38" fill="#ee5c4a" stroke="#555" stroke-width="0.5"/>
<rect x="461.80" y="65.20" width="11.27" height="7.38" fill="#f8bdb5" stroke="#555" stroke-width="0.5"/>
<rect x="473.07" y="65.20" width="11.27" height="7.38" fill="#f8bdb5" stroke="#555" stroke-width="0.5"/>
<rect x="484.34" y="65.20" width="11.27" height="7.38" fill="#f28575" stroke="#555" stroke-width="0.5"/>
<rect x="495.61" y="65.20" width="11.27" height="7.38" fill="#f8bdb5" stroke="#555" stroke-width="0.5"/>
<rect x="461.80" y="72.58" width="11.27" height="7.38" fill="#f8bdb5" stroke="#555" stroke-width="0.5"/>
<rect x="473.07" y="72.58" width="11.27" height="7.38" fill="#ee5c4a" stroke="#555" stroke-width="0.5"/>
<rect x="484.34" y="72.58" width="11.27" height="7.38" fill="#f28575" stroke="#555" stroke-width="0.5"/>
<rect x="495.61" y="72.58" width="11.27" height="7.38" fill="#f8bdb5" stroke="#555" stroke-width="0.5"/>
<rect x="461.80" y="79.95" width="11.27" height="7.38" fill="#a5afbc" stroke="#555" stroke-width="0.5"/>
<rect x="473.07" y="79.95" width="11.27" height="7.38" fill="#8997a6" stroke="#555" stroke-width="0.5"/>
<rect x="484.34" y="79.95" width="11.27" height="7.38" fill="#b9c1cb" stroke="#555" stroke-width="0.5"/>
<rect x="495.61" y="79.95" width="11.27" height="7.38" fill="#a5afbc" stroke="#555" stroke-width="0.5"/>
<rect x="461.80" y="87.33" width="11.27" height="7.38" fill="#a5afbc" stroke="#555" stroke-width="0.5"/>
<rect x="473.07" y="87.33" width="11.27" height="7.38" fill="#e2e5ea" stroke="#555" stroke-width="0.5"/>
<rect x="484.34" y="87.33" width="11.27" height="7.38" fill="#b9c1cb" stroke="#555" stroke-width="0.5"/>
<rect x="495.61" y="87.33" width="11.27" height="7.38" fill="#a5afbc" stroke="#555" stroke-width="0.5"/>
<rect x="461.80" y="94.70" width="11.27" height="7.38" fill="#a5afbc" stroke="#555" stroke-width="0.5"/>
<rect x="473.07" y="94.70" width="11.27" height="7.38" fill="#e2e5ea" stroke="#555" stroke-width="0.5"/>
<rect x="484.34" y="94.70" width="11.27" height="7.38" fill="#b9c1cb" stroke="#555" stroke-width="0.5"/>
<rect x="495.61" y="94.70" width="11.27" height="7.38" fill="#a5afbc" stroke="#555" stroke-width="0.5"/>
<rect x="461.80" y="102.08" width="11.27" height="7.38" fill="#a5afbc" stroke="#555" stroke-width="0.5"/>
<rect x="473.07" y="102.08" width="11.27" height="7.38" fill="#8997a6" stroke="#555" stroke-width="0.5"/>
<rect x="484.34" y="102.08" width="11.27" height="7.38" fill="#c8ced7" stroke="#555" stroke-width="0.5"/>
<rect x="495.61" y="102.08" width="11.27" height="7.38" fill="#a5afbc" stroke="#555" stroke-width="0.5"/>
<rect x="461.80" y="109.45" width="11.27" height="7.38" fill="#fcfcfc" stroke="#555" stroke-width="0.5"/>
<rect x="473.07" y="109.45" width="11.27" height="7.38" fill="#c8ced7" stroke="#555" stroke-width="0.5"/>
<rect x="484.34" y="109.45" width="11.27" height="7.38" fill="#d2d7de" stroke="#555" stroke-width="0.5"/>
<rect x="495.61" y="109.45" width="11.27" height="7.38" fill="#f6b2a8" stroke="#555" stroke-width="0.5"/>
<rect x="461.80" y="116.83" width="11.27" height="7.38" fill="#fcfcfc" stroke="#555" stroke-width="0.5"/>
<rect x="473.07" y="116.83" width="11.27" height="7.38" fill="#fcfcfc" stroke="#555" stroke-width="0.5"/>
<rect x="484.34" y="116.83" width="11.27" height="7.38" fill="#fae5e2" stroke="#555" stroke-width="0.5"/>
<rect x="495.61" y="116.83" width="11.27" height="7.38" fill="#a5afbc" stroke="#555" stroke-width="0.5"/>
<rect x="461.80" y="124.20" width="11.27" height="7.38" fill="#f49688" stroke="#555" stroke-width="0.5"/>
<rect x="473.07" y="124.20" width="11.27" height="7.38" fill="#f8bdb5" stroke="#555" stroke-width="0.5"/>
<rect x="484.34" y="124.20" width="11.27" height="7.38" fill="#f28575" stroke="#555" stroke-width="0.5"/>
<rect x="495.61" y="124.20" width="11.27" height="7.38" fill="#f6b2a8" stroke="#555" stroke-width="0.5"/>
<rect x="461.80" y="131.57" width="11.27" height="7.38" fill="#a5afbc" stroke="#555" stroke-width="0.5"/>
<rect x="473.07" y="131.57" width="11.27" height="7.38" fill="#f9cec8" stroke="#555" stroke-width="0.5"/>
<rect x="484.34" y="131.57" width="11.27" height="7.38" fill="#fcfcfc" stroke="#555" stroke-width="0.5"/>
<rect x="495.61" y="131.57" width="11.27" height="7.38" fill="#f9cec8" stroke="#555" stroke-width="0.5"/>
<rect x="461.80" y="138.95" width="11.27" height="7.38" fill="#a5afbc" stroke="#555" stroke-width="0.5"/>
<rect x="473.07" y="138.95" width="11.27" height="7.38" fill="#c8ced7" stroke="#555" stroke-width="0.5"/>
<rect x="484.34" y="138.95" width="11.27" height="7.38" fill="#a5afbc" stroke="#555" stroke-width="0.5"/>
<rect x="495.61" y="138.95" width="11.27" height="7.38" fill="#a5afbc" stroke="#555" stroke-width="0.5"/>
<rect x="461.80" y="146.32" width="11.27" height="7.38" fill="#ee5c4a" stroke="#555" stroke-width="0.5"/>
<rect x="473.07" y="146.32" width="11.27" height="7.38" fill="#ee5c4a" stroke="#555" stroke-width="0.5"/>
<rect x="484.34" y="146.32" width="11.27" height="7.38" fill="#f07363" stroke="#555" stroke-width="0.5"/>
<rect x="495.61" y="146.32" width="11.27" height="7.38" fill="#ee5c4a" stroke="#555" stroke-width="0.5"/>
<rect x="461.80" y="153.70" width="11.27" height="7.38" fill="#a5afbc" stroke="#555" stroke-width="0.5"/>
<rect x="473.07" y="153.70" width="11.27" height="7.38" fill="#818f9f" stroke="#555" stroke-width="0.5"/>
<rect x="484.34" y="153.70" width="11.27" height="7.38" fill="#818f9f" stroke="#555" stroke-width="0.5"/>
<rect x="495.61" y="153.70" width="11.27" height="7.38" fill="#a5afbc" stroke="#555" stroke-width="0.5"/>
<rect x="461.80" y="161.07" width="11.27" height="7.38" fill="#a5afbc" stroke="#555" stroke-width="0.5"/>
<rect x="473.07" y="161.07" width="11.27" height="7.38" fill="#818f9f" stroke="#555" stroke-width="0.5"/>
<rect x="484.34" y="161.07" width="11.27" height="7.38" fill="#818f9f" stroke="#555" stroke-width="0.5"/>
<rect x="495.61" y="161.07" width="11.27" height="7.38" fill="#a5afbc" stroke="#555" stroke-width="0.5"/>
<text x="353.38" y="171.8" font-size="6" text-anchor="end" font-weight="normal" fill="#222" stroke="#222" stroke-width="0.18" transform="rotate(-90 353.38 171.8)">Deglutination</text>
<text x="364.74" y="171.8" font-size="6" text-anchor="end" font-weight="normal" fill="#222" stroke="#222" stroke-width="0.18" transform="rotate(-90 364.74 171.8)">Articulation</text>
<text x="376.1" y="171.8" font-size="6" text-anchor="end" font-weight="normal" fill="#222" stroke="#222" stroke-width="0.18" transform="rotate(-90 376.1 171.8)">Gross Motor</text>
<text x="387.46" y="171.8" font-size="6" text-anchor="end" font-weight="normal" fill="#222" stroke="#222" stroke-width="0.18" transform="rotate(-90 387.46 171.8)">UEGMS</text>
<text x="398.82" y="171.8" font-size="6" text-anchor="end" font-weight="normal" fill="#222" stroke="#222" stroke-width="0.18" transform="rotate(-90 398.82 171.8)">Fine Motor</text>
<text x="339.70000000000005" y="171.8" font-size="6" text-anchor="end" font-weight="normal" fill="#222" stroke="#222" stroke-width="0.18" transform="rotate(-90 339.70000000000005 171.8)">Phenotype</text>
<text x="469.54" y="171.8" font-size="6" text-anchor="end" font-weight="normal" fill="#222" stroke="#222" stroke-width="0.18" transform="rotate(-90 469.54 171.8)">Elbow</text>
<text x="480.81" y="171.8" font-size="6" text-anchor="end" font-weight="normal" fill="#222" stroke="#222" stroke-width="0.18" transform="rotate(-90 480.81 171.8)">Wrists</text>
<text x="492.08" y="171.8" font-size="6" text-anchor="end" font-weight="normal" fill="#222" stroke="#222" stroke-width="0.18" transform="rotate(-90 492.08 171.8)">Knees</text>
<text x="503.35" y="171.8" font-size="6" text-anchor="end" font-weight="normal" fill="#222" stroke="#222" stroke-width="0.18" transform="rotate(-90 503.35 171.8)">Ankles</text>
<text x="456.20000000000005" y="171.8" font-size="6" text-anchor="end" font-weight="normal" fill="#222" stroke="#222" stroke-width="0.18" transform="rotate(-90 456.20000000000005 171.8)">Phenotype</text>
<line x1="351.7" y1="210.2" x2="398.6" y2="210.2" stroke="#333" stroke-width="1.1"/>
<text x="375.5" y="218.6" font-size="7.4" text-anchor="middle" font-weight="bold" fill="#111">Motor</text>
<text x="375.5" y="226.8" font-size="7.4" text-anchor="middle" font-weight="bold" fill="#111">Function</text>
<line x1="459.6" y1="209.8" x2="507.2" y2="209.8" stroke="#333" stroke-width="1.1"/>
<text x="487.4" y="217.8" font-size="7.2" text-anchor="middle" font-weight="bold" fill="#111">Muscle Tone</text>
<text x="407.8" y="63.8" font-size="8" text-anchor="start" font-weight="bold" fill="#111">z-score</text>
<rect x="420" y="69.6" width="7" height="74.6" fill="url(#gB)"/>
<line x1="418.4" y1="69.8" x2="420" y2="69.8" stroke="#999" stroke-width="0.5"/>
<line x1="418.4" y1="107" x2="420" y2="107" stroke="#999" stroke-width="0.5"/>
<line x1="418.4" y1="144" x2="420" y2="144" stroke="#999" stroke-width="0.5"/>
<text x="417.8" y="72.3" font-size="6.5" text-anchor="end" font-weight="normal" fill="#444" stroke="#444" stroke-width="0.18">1.5</text>
<text x="417.8" y="109.6" font-size="6.5" text-anchor="end" font-weight="normal" fill="#444" stroke="#444" stroke-width="0.18">0.0</text>
<text x="417.8" y="146.6" font-size="6.5" text-anchor="end" font-weight="normal" fill="#444" stroke="#444" stroke-width="0.18">−1.5</text>
<line x1="430.2" y1="86" x2="430.2" y2="129.5" stroke="#111" stroke-width="0.7"/>
<path d="M428.59999999999997 86.5 L430.2 83 L431.8 86.5 Z" fill="#111"/>
<text x="436.0" y="130.8" font-size="5.15" text-anchor="start" font-weight="normal" fill="#111" stroke="#111" stroke-width="0.18" transform="rotate(-90 436.0 130.8)">Better Motor Function</text>
<text x="512.6" y="63.8" font-size="8" text-anchor="start" font-weight="bold" fill="#111">z-score</text>
<rect x="523.6" y="69.6" width="7.8" height="74.6" fill="url(#gB)"/>
<line x1="522.0" y1="69.8" x2="523.6" y2="69.8" stroke="#999" stroke-width="0.5"/>
<line x1="522.0" y1="107" x2="523.6" y2="107" stroke="#999" stroke-width="0.5"/>
<line x1="522.0" y1="144" x2="523.6" y2="144" stroke="#999" stroke-width="0.5"/>
<text x="521.4" y="72.3" font-size="6.5" text-anchor="end" font-weight="normal" fill="#444" stroke="#444" stroke-width="0.18">1.5</text>
<text x="521.4" y="109.6" font-size="6.5" text-anchor="end" font-weight="normal" fill="#444" stroke="#444" stroke-width="0.18">0.0</text>
<text x="521.4" y="146.6" font-size="6.5" text-anchor="end" font-weight="normal" fill="#444" stroke="#444" stroke-width="0.18">−1.5</text>
<line x1="534.3" y1="86" x2="534.3" y2="129.5" stroke="#111" stroke-width="0.7"/>
<path d="M532.6999999999999 86.5 L534.3 83 L535.9 86.5 Z" fill="#111"/>
<text x="540.0999999999999" y="128.4" font-size="5.15" text-anchor="start" font-weight="normal" fill="#111" stroke="#111" stroke-width="0.18" transform="rotate(-90 540.0999999999999 128.4)">Better Muscle Tone</text>
<text x="8.6" y="253.5" font-size="16.2" text-anchor="start" font-weight="bold" fill="#000">C</text>
<text x="124.6" y="249.9" font-size="12.22" text-anchor="start" font-weight="bold" fill="#000">Cytokines in LV1 for PLSRs Against Different Motor Scores</text>
<line x1="44.3" y1="258" x2="44.3" y2="344.6" stroke="#000" stroke-width="1.3"/>
<path d="M39.3 259.8 L44.3 252.2 L49.3 259.8 Z" fill="#000"/>
<line x1="44.3" y1="298.4" x2="49.6" y2="298.4" stroke="#000" stroke-width="1.5"/>
<text x="38.0" y="339" font-size="10.1" text-anchor="start" font-weight="normal" fill="#222" stroke="#222" stroke-width="0.18" transform="rotate(-90 38.0 339)">Better Function</text>
<line x1="73.8" y1="259" x2="73.8" y2="336.2" stroke="#aaa" stroke-width="0.7"/>
<line x1="69.8" y1="260.30" x2="73.8" y2="260.30" stroke="#aaa" stroke-width="0.7"/>
<text x="65.4" y="262.9" font-size="7.4" text-anchor="end" font-weight="normal" fill="#333" stroke="#333" stroke-width="0.18">1.0</text>
<line x1="69.8" y1="279.30" x2="73.8" y2="279.30" stroke="#aaa" stroke-width="0.7"/>
<text x="65.4" y="281.9" font-size="7.4" text-anchor="end" font-weight="normal" fill="#333" stroke="#333" stroke-width="0.18">0.5</text>
<line x1="69.8" y1="298.30" x2="73.8" y2="298.30" stroke="#aaa" stroke-width="0.7"/>
<text x="65.4" y="300.9" font-size="7.4" text-anchor="end" font-weight="normal" fill="#333" stroke="#333" stroke-width="0.18">0.0</text>
<line x1="69.8" y1="317.30" x2="73.8" y2="317.30" stroke="#aaa" stroke-width="0.7"/>
<text x="65.4" y="319.9" font-size="7.4" text-anchor="end" font-weight="normal" fill="#333" stroke="#333" stroke-width="0.18">−0.5</text>
<line x1="69.8" y1="336.30" x2="73.8" y2="336.30" stroke="#aaa" stroke-width="0.7"/>
<text x="65.4" y="338.9" font-size="7.4" text-anchor="end" font-weight="normal" fill="#333" stroke="#333" stroke-width="0.18">−1.0</text>
<rect x="89.95" y="298.30" width="2.65" height="37.24" fill="#5b9fd8" stroke="#5b9fd8" stroke-width="0.3"/>
<rect x="92.60" y="298.30" width="2.65" height="19.76" fill="#245684" stroke="#245684" stroke-width="0.3"/>
<rect x="95.25" y="281.20" width="2.65" height="17.10" fill="#d6434a" stroke="#d6434a" stroke-width="0.3"/>
<line x1="91.28" y1="324.90" x2="91.28" y2="346.94" stroke="#555" stroke-opacity="0.75" stroke-width="0.8"/>
<line x1="90.08" y1="346.94" x2="92.48" y2="346.94" stroke="#444" stroke-width="0.7"/>
<line x1="90.08" y1="324.90" x2="92.48" y2="324.90" stroke="#444" stroke-width="0.7"/>
<rect x="90.43" y="324.90" width="1.7" height="10.64" fill="#000" fill-opacity="0.4"/>
<line x1="93.93" y1="300.96" x2="93.93" y2="335.16" stroke="#555" stroke-opacity="0.75" stroke-width="0.8"/>
<line x1="92.73" y1="335.16" x2="95.13" y2="335.16" stroke="#444" stroke-width="0.7"/>
<line x1="92.73" y1="300.96" x2="95.13" y2="300.96" stroke="#444" stroke-width="0.7"/>
<rect x="93.08" y="300.96" width="1.7" height="17.10" fill="#000" fill-opacity="0.4"/>
<line x1="96.58" y1="268.28" x2="96.58" y2="294.50" stroke="#555" stroke-opacity="0.75" stroke-width="0.8"/>
<line x1="95.38" y1="294.50" x2="97.78" y2="294.50" stroke="#444" stroke-width="0.7"/>
<line x1="95.38" y1="268.28" x2="97.78" y2="268.28" stroke="#444" stroke-width="0.7"/>
<rect x="95.73" y="281.20" width="1.7" height="13.30" fill="#000" fill-opacity="0.4"/>
<rect x="99.75" y="298.30" width="2.65" height="33.06" fill="#5b9fd8" stroke="#5b9fd8" stroke-width="0.3"/>
<rect x="102.40" y="298.30" width="2.65" height="33.06" fill="#245684" stroke="#245684" stroke-width="0.3"/>
<rect x="105.05" y="293.74" width="2.65" height="4.56" fill="#d6434a" stroke="#d6434a" stroke-width="0.3"/>
<line x1="101.08" y1="323.38" x2="101.08" y2="339.34" stroke="#555" stroke-opacity="0.75" stroke-width="0.8"/>
<line x1="99.88" y1="339.34" x2="102.28" y2="339.34" stroke="#444" stroke-width="0.7"/>
<line x1="99.88" y1="323.38" x2="102.28" y2="323.38" stroke="#444" stroke-width="0.7"/>
<rect x="100.23" y="323.38" width="1.7" height="7.98" fill="#000" fill-opacity="0.4"/>
<line x1="103.73" y1="321.10" x2="103.73" y2="342.76" stroke="#555" stroke-opacity="0.75" stroke-width="0.8"/>
<line x1="102.53" y1="342.76" x2="104.93" y2="342.76" stroke="#444" stroke-width="0.7"/>
<line x1="102.53" y1="321.10" x2="104.93" y2="321.10" stroke="#444" stroke-width="0.7"/>
<rect x="102.88" y="321.10" width="1.7" height="10.26" fill="#000" fill-opacity="0.4"/>
<line x1="106.38" y1="277.02" x2="106.38" y2="310.84" stroke="#555" stroke-opacity="0.75" stroke-width="0.8"/>
<line x1="105.17" y1="310.84" x2="107.58" y2="310.84" stroke="#444" stroke-width="0.7"/>
<line x1="105.17" y1="277.02" x2="107.58" y2="277.02" stroke="#444" stroke-width="0.7"/>
<rect x="105.53" y="293.74" width="1.7" height="4.56" fill="#000" fill-opacity="0.4"/>
<rect x="109.55" y="298.30" width="2.65" height="31.92" fill="#5b9fd8" stroke="#5b9fd8" stroke-width="0.3"/>
<rect x="112.20" y="298.30" width="2.65" height="31.92" fill="#245684" stroke="#245684" stroke-width="0.3"/>
<rect x="114.85" y="298.30" width="2.65" height="23.56" fill="#d6434a" stroke="#d6434a" stroke-width="0.3"/>
<line x1="110.88" y1="325.28" x2="110.88" y2="335.16" stroke="#555" stroke-opacity="0.75" stroke-width="0.8"/>
<line x1="109.68" y1="335.16" x2="112.08" y2="335.16" stroke="#444" stroke-width="0.7"/>
<line x1="109.68" y1="325.28" x2="112.08" y2="325.28" stroke="#444" stroke-width="0.7"/>
<rect x="110.03" y="325.28" width="1.7" height="4.94" fill="#000" fill-opacity="0.4"/>
<line x1="113.53" y1="324.14" x2="113.53" y2="335.54" stroke="#555" stroke-opacity="0.75" stroke-width="0.8"/>
<line x1="112.33" y1="335.54" x2="114.73" y2="335.54" stroke="#444" stroke-width="0.7"/>
<line x1="112.33" y1="324.14" x2="114.73" y2="324.14" stroke="#444" stroke-width="0.7"/>
<rect x="112.68" y="324.14" width="1.7" height="6.08" fill="#000" fill-opacity="0.4"/>
<line x1="116.18" y1="314.26" x2="116.18" y2="329.84" stroke="#555" stroke-opacity="0.75" stroke-width="0.8"/>
<line x1="114.98" y1="329.84" x2="117.38" y2="329.84" stroke="#444" stroke-width="0.7"/>
<line x1="114.98" y1="314.26" x2="117.38" y2="314.26" stroke="#444" stroke-width="0.7"/>
<rect x="115.33" y="314.26" width="1.7" height="7.60" fill="#000" fill-opacity="0.4"/>
<rect x="119.35" y="298.30" width="2.65" height="29.64" fill="#5b9fd8" stroke="#5b9fd8" stroke-width="0.3"/>
<rect x="122.00" y="298.30" width="2.65" height="26.60" fill="#245684" stroke="#245684" stroke-width="0.3"/>
<rect x="124.65" y="298.30" width="2.65" height="19.38" fill="#d6434a" stroke="#d6434a" stroke-width="0.3"/>
<line x1="120.68" y1="323.38" x2="120.68" y2="332.50" stroke="#555" stroke-opacity="0.75" stroke-width="0.8"/>
<line x1="119.48" y1="332.50" x2="121.88" y2="332.50" stroke="#444" stroke-width="0.7"/>
<line x1="119.48" y1="323.38" x2="121.88" y2="323.38" stroke="#444" stroke-width="0.7"/>
<rect x="119.83" y="323.38" width="1.7" height="4.56" fill="#000" fill-opacity="0.4"/>
<line x1="123.33" y1="318.06" x2="123.33" y2="331.74" stroke="#555" stroke-opacity="0.75" stroke-width="0.8"/>
<line x1="122.13" y1="331.74" x2="124.53" y2="331.74" stroke="#444" stroke-width="0.7"/>
<line x1="122.13" y1="318.06" x2="124.53" y2="318.06" stroke="#444" stroke-width="0.7"/>
<rect x="122.48" y="318.06" width="1.7" height="6.84" fill="#000" fill-opacity="0.4"/>
<line x1="125.98" y1="310.46" x2="125.98" y2="324.52" stroke="#555" stroke-opacity="0.75" stroke-width="0.8"/>
<line x1="124.78" y1="324.52" x2="127.18" y2="324.52" stroke="#444" stroke-width="0.7"/>
<line x1="124.78" y1="310.46" x2="127.18" y2="310.46" stroke="#444" stroke-width="0.7"/>
<rect x="125.13" y="310.46" width="1.7" height="7.22" fill="#000" fill-opacity="0.4"/>
<rect x="129.15" y="298.30" width="2.65" height="28.12" fill="#5b9fd8" stroke="#5b9fd8" stroke-width="0.3"/>
<rect x="131.80" y="298.30" width="2.65" height="18.62" fill="#245684" stroke="#245684" stroke-width="0.3"/>
<rect x="134.45" y="298.30" width="2.65" height="20.90" fill="#d6434a" stroke="#d6434a" stroke-width="0.3"/>
<line x1="130.47" y1="321.10" x2="130.47" y2="331.74" stroke="#555" stroke-opacity="0.75" stroke-width="0.8"/>
<line x1="129.28" y1="331.74" x2="131.67" y2="331.74" stroke="#444" stroke-width="0.7"/>
<line x1="129.28" y1="321.10" x2="131.67" y2="321.10" stroke="#444" stroke-width="0.7"/>
<rect x="129.62" y="321.10" width="1.7" height="5.32" fill="#000" fill-opacity="0.4"/>
<line x1="133.12" y1="307.80" x2="133.12" y2="324.90" stroke="#555" stroke-opacity="0.75" stroke-width="0.8"/>
<line x1="131.93" y1="324.90" x2="134.32" y2="324.90" stroke="#444" stroke-width="0.7"/>
<line x1="131.93" y1="307.80" x2="134.32" y2="307.80" stroke="#444" stroke-width="0.7"/>
<rect x="132.28" y="307.80" width="1.7" height="9.12" fill="#000" fill-opacity="0.4"/>
<line x1="135.78" y1="312.74" x2="135.78" y2="324.90" stroke="#555" stroke-opacity="0.75" stroke-width="0.8"/>
<line x1="134.58" y1="324.90" x2="136.97" y2="324.90" stroke="#444" stroke-width="0.7"/>
<line x1="134.58" y1="312.74" x2="136.97" y2="312.74" stroke="#444" stroke-width="0.7"/>
<rect x="134.93" y="312.74" width="1.7" height="6.46" fill="#000" fill-opacity="0.4"/>
<rect x="138.95" y="298.30" width="2.65" height="25.84" fill="#5b9fd8" stroke="#5b9fd8" stroke-width="0.3"/>
<rect x="141.60" y="298.30" width="2.65" height="11.40" fill="#245684" stroke="#245684" stroke-width="0.3"/>
<rect x="144.25" y="298.30" width="2.65" height="4.56" fill="#d6434a" stroke="#d6434a" stroke-width="0.3"/>
<line x1="140.27" y1="313.12" x2="140.27" y2="334.78" stroke="#555" stroke-opacity="0.75" stroke-width="0.8"/>
<line x1="139.07" y1="334.78" x2="141.47" y2="334.78" stroke="#444" stroke-width="0.7"/>
<line x1="139.07" y1="313.12" x2="141.47" y2="313.12" stroke="#444" stroke-width="0.7"/>
<rect x="139.42" y="313.12" width="1.7" height="11.02" fill="#000" fill-opacity="0.4"/>
<line x1="142.92" y1="297.54" x2="142.92" y2="323.38" stroke="#555" stroke-opacity="0.75" stroke-width="0.8"/>
<line x1="141.72" y1="323.38" x2="144.12" y2="323.38" stroke="#444" stroke-width="0.7"/>
<line x1="141.72" y1="297.54" x2="144.12" y2="297.54" stroke="#444" stroke-width="0.7"/>
<rect x="142.07" y="298.30" width="1.7" height="11.40" fill="#000" fill-opacity="0.4"/>
<line x1="145.57" y1="296.02" x2="145.57" y2="309.32" stroke="#555" stroke-opacity="0.75" stroke-width="0.8"/>
<line x1="144.38" y1="309.32" x2="146.77" y2="309.32" stroke="#444" stroke-width="0.7"/>
<line x1="144.38" y1="296.02" x2="146.77" y2="296.02" stroke="#444" stroke-width="0.7"/>
<rect x="144.72" y="298.30" width="1.7" height="4.56" fill="#000" fill-opacity="0.4"/>
<rect x="148.75" y="298.30" width="2.65" height="24.32" fill="#5b9fd8" stroke="#5b9fd8" stroke-width="0.3"/>
<rect x="151.40" y="298.30" width="2.65" height="24.32" fill="#245684" stroke="#245684" stroke-width="0.3"/>
<rect x="154.05" y="298.30" width="2.65" height="19.00" fill="#d6434a" stroke="#d6434a" stroke-width="0.3"/>
<line x1="150.07" y1="316.54" x2="150.07" y2="328.70" stroke="#555" stroke-opacity="0.75" stroke-width="0.8"/>
<line x1="148.88" y1="328.70" x2="151.27" y2="328.70" stroke="#444" stroke-width="0.7"/>
<line x1="148.88" y1="316.54" x2="151.27" y2="316.54" stroke="#444" stroke-width="0.7"/>
<rect x="149.22" y="316.54" width="1.7" height="6.08" fill="#000" fill-opacity="0.4"/>
<line x1="152.72" y1="315.78" x2="152.72" y2="329.46" stroke="#555" stroke-opacity="0.75" stroke-width="0.8"/>
<line x1="151.53" y1="329.46" x2="153.92" y2="329.46" stroke="#444" stroke-width="0.7"/>
<line x1="151.53" y1="315.78" x2="153.92" y2="315.78" stroke="#444" stroke-width="0.7"/>
<rect x="151.88" y="315.78" width="1.7" height="6.84" fill="#000" fill-opacity="0.4"/>
<line x1="155.38" y1="311.98" x2="155.38" y2="322.62" stroke="#555" stroke-opacity="0.75" stroke-width="0.8"/>
<line x1="154.18" y1="322.62" x2="156.57" y2="322.62" stroke="#444" stroke-width="0.7"/>
<line x1="154.18" y1="311.98" x2="156.57" y2="311.98" stroke="#444" stroke-width="0.7"/>
<rect x="154.53" y="311.98" width="1.7" height="5.32" fill="#000" fill-opacity="0.4"/>
<rect x="158.55" y="298.30" width="2.65" height="23.56" fill="#5b9fd8" stroke="#5b9fd8" stroke-width="0.3"/>
<rect x="161.20" y="298.30" width="2.65" height="26.22" fill="#245684" stroke="#245684" stroke-width="0.3"/>
<rect x="163.85" y="298.30" width="2.65" height="26.60" fill="#d6434a" stroke="#d6434a" stroke-width="0.3"/>
<line x1="159.88" y1="315.78" x2="159.88" y2="327.94" stroke="#555" stroke-opacity="0.75" stroke-width="0.8"/>
<line x1="158.68" y1="327.94" x2="161.07" y2="327.94" stroke="#444" stroke-width="0.7"/>
<line x1="158.68" y1="315.78" x2="161.07" y2="315.78" stroke="#444" stroke-width="0.7"/>
<rect x="159.03" y="315.78" width="1.7" height="6.08" fill="#000" fill-opacity="0.4"/>
<line x1="162.53" y1="318.44" x2="162.53" y2="329.46" stroke="#555" stroke-opacity="0.75" stroke-width="0.8"/>
<line x1="161.33" y1="329.46" x2="163.72" y2="329.46" stroke="#444" stroke-width="0.7"/>
<line x1="161.33" y1="318.44" x2="163.72" y2="318.44" stroke="#444" stroke-width="0.7"/>
<rect x="161.68" y="318.44" width="1.7" height="6.08" fill="#000" fill-opacity="0.4"/>
<line x1="165.18" y1="319.58" x2="165.18" y2="327.94" stroke="#555" stroke-opacity="0.75" stroke-width="0.8"/>
<line x1="163.98" y1="327.94" x2="166.38" y2="327.94" stroke="#444" stroke-width="0.7"/>
<line x1="163.98" y1="319.58" x2="166.38" y2="319.58" stroke="#444" stroke-width="0.7"/>
<rect x="164.33" y="319.58" width="1.7" height="5.32" fill="#000" fill-opacity="0.4"/>
<rect x="168.35" y="298.30" width="2.65" height="22.80" fill="#5b9fd8" stroke="#5b9fd8" stroke-width="0.3"/>
<rect x="171.00" y="298.30" width="2.65" height="15.20" fill="#245684" stroke="#245684" stroke-width="0.3"/>
<rect x="173.65" y="298.30" width="2.65" height="22.80" fill="#d6434a" stroke="#d6434a" stroke-width="0.3"/>
<line x1="169.68" y1="315.02" x2="169.68" y2="327.18" stroke="#555" stroke-opacity="0.75" stroke-width="0.8"/>
<line x1="168.48" y1="327.18" x2="170.88" y2="327.18" stroke="#444" stroke-width="0.7"/>
<line x1="168.48" y1="315.02" x2="170.88" y2="315.02" stroke="#444" stroke-width="0.7"/>
<rect x="168.83" y="315.02" width="1.7" height="6.08" fill="#000" fill-opacity="0.4"/>
<line x1="172.33" y1="305.90" x2="172.33" y2="321.10" stroke="#555" stroke-opacity="0.75" stroke-width="0.8"/>
<line x1="171.13" y1="321.10" x2="173.53" y2="321.10" stroke="#444" stroke-width="0.7"/>
<line x1="171.13" y1="305.90" x2="173.53" y2="305.90" stroke="#444" stroke-width="0.7"/>
<rect x="171.48" y="305.90" width="1.7" height="7.60" fill="#000" fill-opacity="0.4"/>
<line x1="174.98" y1="317.30" x2="174.98" y2="324.90" stroke="#555" stroke-opacity="0.75" stroke-width="0.8"/>
<line x1="173.78" y1="324.90" x2="176.18" y2="324.90" stroke="#444" stroke-width="0.7"/>
<line x1="173.78" y1="317.30" x2="176.18" y2="317.30" stroke="#444" stroke-width="0.7"/>
<rect x="174.13" y="317.30" width="1.7" height="3.80" fill="#000" fill-opacity="0.4"/>
<rect x="178.15" y="298.30" width="2.65" height="27.36" fill="#5b9fd8" stroke="#5b9fd8" stroke-width="0.3"/>
<rect x="180.80" y="298.30" width="2.65" height="14.82" fill="#245684" stroke="#245684" stroke-width="0.3"/>
<rect x="183.45" y="298.30" width="2.65" height="26.22" fill="#d6434a" stroke="#d6434a" stroke-width="0.3"/>
<line x1="179.47" y1="308.56" x2="179.47" y2="333.26" stroke="#555" stroke-opacity="0.75" stroke-width="0.8"/>
<line x1="178.28" y1="333.26" x2="180.67" y2="333.26" stroke="#444" stroke-width="0.7"/>
<line x1="178.28" y1="308.56" x2="180.67" y2="308.56" stroke="#444" stroke-width="0.7"/>
<rect x="178.62" y="308.56" width="1.7" height="17.10" fill="#000" fill-opacity="0.4"/>
<line x1="182.12" y1="302.86" x2="182.12" y2="324.90" stroke="#555" stroke-opacity="0.75" stroke-width="0.8"/>
<line x1="180.93" y1="324.90" x2="183.32" y2="324.90" stroke="#444" stroke-width="0.7"/>
<line x1="180.93" y1="302.86" x2="183.32" y2="302.86" stroke="#444" stroke-width="0.7"/>
<rect x="181.28" y="302.86" width="1.7" height="10.26" fill="#000" fill-opacity="0.4"/>
<line x1="184.78" y1="318.44" x2="184.78" y2="330.60" stroke="#555" stroke-opacity="0.75" stroke-width="0.8"/>
<line x1="183.58" y1="330.60" x2="185.97" y2="330.60" stroke="#444" stroke-width="0.7"/>
<line x1="183.58" y1="318.44" x2="185.97" y2="318.44" stroke="#444" stroke-width="0.7"/>
<rect x="183.93" y="318.44" width="1.7" height="6.08" fill="#000" fill-opacity="0.4"/>
<rect x="187.95" y="298.30" width="2.65" height="21.28" fill="#5b9fd8" stroke="#5b9fd8" stroke-width="0.3"/>
<rect x="190.60" y="298.30" width="2.65" height="12.92" fill="#245684" stroke="#245684" stroke-width="0.3"/>
<rect x="193.25" y="298.30" width="2.65" height="4.56" fill="#d6434a" stroke="#d6434a" stroke-width="0.3"/>
<line x1="189.27" y1="313.50" x2="189.27" y2="325.66" stroke="#555" stroke-opacity="0.75" stroke-width="0.8"/>
<line x1="188.07" y1="325.66" x2="190.47" y2="325.66" stroke="#444" stroke-width="0.7"/>
<line x1="188.07" y1="313.50" x2="190.47" y2="313.50" stroke="#444" stroke-width="0.7"/>
<rect x="188.42" y="313.50" width="1.7" height="6.08" fill="#000" fill-opacity="0.4"/>
<line x1="191.92" y1="302.10" x2="191.92" y2="324.90" stroke="#555" stroke-opacity="0.75" stroke-width="0.8"/>
<line x1="190.72" y1="324.90" x2="193.12" y2="324.90" stroke="#444" stroke-width="0.7"/>
<line x1="190.72" y1="302.10" x2="193.12" y2="302.10" stroke="#444" stroke-width="0.7"/>
<rect x="191.07" y="302.10" width="1.7" height="9.12" fill="#000" fill-opacity="0.4"/>
<line x1="194.57" y1="294.50" x2="194.57" y2="309.70" stroke="#555" stroke-opacity="0.75" stroke-width="0.8"/>
<line x1="193.38" y1="309.70" x2="195.77" y2="309.70" stroke="#444" stroke-width="0.7"/>
<line x1="193.38" y1="294.50" x2="195.77" y2="294.50" stroke="#444" stroke-width="0.7"/>
<rect x="193.72" y="298.30" width="1.7" height="4.56" fill="#000" fill-opacity="0.4"/>
<rect x="197.75" y="298.30" width="2.65" height="21.28" fill="#5b9fd8" stroke="#5b9fd8" stroke-width="0.3"/>
<rect x="200.40" y="298.30" width="2.65" height="15.96" fill="#245684" stroke="#245684" stroke-width="0.3"/>
<rect x="203.05" y="298.30" width="2.65" height="28.50" fill="#d6434a" stroke="#d6434a" stroke-width="0.3"/>
<line x1="199.07" y1="312.36" x2="199.07" y2="327.18" stroke="#555" stroke-opacity="0.75" stroke-width="0.8"/>
<line x1="197.88" y1="327.18" x2="200.27" y2="327.18" stroke="#444" stroke-width="0.7"/>
<line x1="197.88" y1="312.36" x2="200.27" y2="312.36" stroke="#444" stroke-width="0.7"/>
<rect x="198.22" y="312.36" width="1.7" height="7.22" fill="#000" fill-opacity="0.4"/>
<line x1="201.72" y1="304.76" x2="201.72" y2="328.70" stroke="#555" stroke-opacity="0.75" stroke-width="0.8"/>
<line x1="200.53" y1="328.70" x2="202.92" y2="328.70" stroke="#444" stroke-width="0.7"/>
<line x1="200.53" y1="304.76" x2="202.92" y2="304.76" stroke="#444" stroke-width="0.7"/>
<rect x="200.88" y="304.76" width="1.7" height="9.50" fill="#000" fill-opacity="0.4"/>
<line x1="204.38" y1="321.10" x2="204.38" y2="331.36" stroke="#555" stroke-opacity="0.75" stroke-width="0.8"/>
<line x1="203.18" y1="331.36" x2="205.57" y2="331.36" stroke="#444" stroke-width="0.7"/>
<line x1="203.18" y1="321.10" x2="205.57" y2="321.10" stroke="#444" stroke-width="0.7"/>
<rect x="203.53" y="321.10" width="1.7" height="5.70" fill="#000" fill-opacity="0.4"/>
<rect x="207.55" y="298.30" width="2.65" height="23.18" fill="#5b9fd8" stroke="#5b9fd8" stroke-width="0.3"/>
<rect x="210.20" y="298.30" width="2.65" height="15.96" fill="#245684" stroke="#245684" stroke-width="0.3"/>
<rect x="212.85" y="272.08" width="2.65" height="26.22" fill="#d6434a" stroke="#d6434a" stroke-width="0.3"/>
<line x1="208.88" y1="304.76" x2="208.88" y2="330.60" stroke="#555" stroke-opacity="0.75" stroke-width="0.8"/>
<line x1="207.68" y1="330.60" x2="210.07" y2="330.60" stroke="#444" stroke-width="0.7"/>
<line x1="207.68" y1="304.76" x2="210.07" y2="304.76" stroke="#444" stroke-width="0.7"/>
<rect x="208.03" y="304.76" width="1.7" height="16.72" fill="#000" fill-opacity="0.4"/>
<line x1="211.53" y1="308.56" x2="211.53" y2="329.84" stroke="#555" stroke-opacity="0.75" stroke-width="0.8"/>
<line x1="210.33" y1="329.84" x2="212.72" y2="329.84" stroke="#444" stroke-width="0.7"/>
<line x1="210.33" y1="308.56" x2="212.72" y2="308.56" stroke="#444" stroke-width="0.7"/>
<rect x="210.68" y="308.56" width="1.7" height="5.70" fill="#000" fill-opacity="0.4"/>
<line x1="214.18" y1="255.74" x2="214.18" y2="287.66" stroke="#555" stroke-opacity="0.75" stroke-width="0.8"/>
<line x1="212.98" y1="287.66" x2="215.38" y2="287.66" stroke="#444" stroke-width="0.7"/>
<line x1="212.98" y1="255.74" x2="215.38" y2="255.74" stroke="#444" stroke-width="0.7"/>
<rect x="213.33" y="272.08" width="1.7" height="15.58" fill="#000" fill-opacity="0.4"/>
<rect x="217.35" y="298.30" width="2.65" height="20.52" fill="#5b9fd8" stroke="#5b9fd8" stroke-width="0.3"/>
<rect x="220.00" y="298.30" width="2.65" height="6.46" fill="#245684" stroke="#245684" stroke-width="0.3"/>
<rect x="222.65" y="298.30" width="2.65" height="9.50" fill="#d6434a" stroke="#d6434a" stroke-width="0.3"/>
<line x1="218.68" y1="311.60" x2="218.68" y2="326.42" stroke="#555" stroke-opacity="0.75" stroke-width="0.8"/>
<line x1="217.48" y1="326.42" x2="219.88" y2="326.42" stroke="#444" stroke-width="0.7"/>
<line x1="217.48" y1="311.60" x2="219.88" y2="311.60" stroke="#444" stroke-width="0.7"/>
<rect x="217.83" y="311.60" width="1.7" height="7.22" fill="#000" fill-opacity="0.4"/>
<line x1="221.33" y1="292.22" x2="221.33" y2="320.34" stroke="#555" stroke-opacity="0.75" stroke-width="0.8"/>
<line x1="220.13" y1="320.34" x2="222.53" y2="320.34" stroke="#444" stroke-width="0.7"/>
<line x1="220.13" y1="292.22" x2="222.53" y2="292.22" stroke="#444" stroke-width="0.7"/>
<rect x="220.48" y="298.30" width="1.7" height="6.46" fill="#000" fill-opacity="0.4"/>
<line x1="223.98" y1="298.30" x2="223.98" y2="317.68" stroke="#555" stroke-opacity="0.75" stroke-width="0.8"/>
<line x1="222.78" y1="317.68" x2="225.18" y2="317.68" stroke="#444" stroke-width="0.7"/>
<line x1="222.78" y1="298.30" x2="225.18" y2="298.30" stroke="#444" stroke-width="0.7"/>
<rect x="223.13" y="298.30" width="1.7" height="9.50" fill="#000" fill-opacity="0.4"/>
<rect x="227.15" y="298.30" width="2.65" height="5.70" fill="#5b9fd8" stroke="#5b9fd8" stroke-width="0.3"/>
<rect x="229.80" y="298.30" width="2.65" height="15.96" fill="#245684" stroke="#245684" stroke-width="0.3"/>
<rect x="232.45" y="298.30" width="2.65" height="10.26" fill="#d6434a" stroke="#d6434a" stroke-width="0.3"/>
<line x1="228.48" y1="298.30" x2="228.48" y2="310.46" stroke="#555" stroke-opacity="0.75" stroke-width="0.8"/>
<line x1="227.28" y1="310.46" x2="229.68" y2="310.46" stroke="#444" stroke-width="0.7"/>
<line x1="227.28" y1="298.30" x2="229.68" y2="298.30" stroke="#444" stroke-width="0.7"/>
<rect x="227.63" y="298.30" width="1.7" height="5.70" fill="#000" fill-opacity="0.4"/>
<line x1="231.13" y1="306.66" x2="231.13" y2="324.90" stroke="#555" stroke-opacity="0.75" stroke-width="0.8"/>
<line x1="229.93" y1="324.90" x2="232.33" y2="324.90" stroke="#444" stroke-width="0.7"/>
<line x1="229.93" y1="306.66" x2="232.33" y2="306.66" stroke="#444" stroke-width="0.7"/>
<rect x="230.28" y="306.66" width="1.7" height="7.60" fill="#000" fill-opacity="0.4"/>
<line x1="233.78" y1="303.24" x2="233.78" y2="314.26" stroke="#555" stroke-opacity="0.75" stroke-width="0.8"/>
<line x1="232.58" y1="314.26" x2="234.98" y2="314.26" stroke="#444" stroke-width="0.7"/>
<line x1="232.58" y1="303.24" x2="234.98" y2="303.24" stroke="#444" stroke-width="0.7"/>
<rect x="232.93" y="303.24" width="1.7" height="5.32" fill="#000" fill-opacity="0.4"/>
<rect x="236.95" y="298.30" width="2.65" height="15.96" fill="#5b9fd8" stroke="#5b9fd8" stroke-width="0.3"/>
<rect x="239.60" y="298.30" width="2.65" height="23.18" fill="#245684" stroke="#245684" stroke-width="0.3"/>
<rect x="242.25" y="298.30" width="2.65" height="12.16" fill="#d6434a" stroke="#d6434a" stroke-width="0.3"/>
<line x1="238.27" y1="308.56" x2="238.27" y2="320.72" stroke="#555" stroke-opacity="0.75" stroke-width="0.8"/>
<line x1="237.07" y1="320.72" x2="239.47" y2="320.72" stroke="#444" stroke-width="0.7"/>
<line x1="237.07" y1="308.56" x2="239.47" y2="308.56" stroke="#444" stroke-width="0.7"/>
<rect x="237.42" y="308.56" width="1.7" height="5.70" fill="#000" fill-opacity="0.4"/>
<line x1="240.92" y1="314.26" x2="240.92" y2="328.70" stroke="#555" stroke-opacity="0.75" stroke-width="0.8"/>
<line x1="239.72" y1="328.70" x2="242.12" y2="328.70" stroke="#444" stroke-width="0.7"/>
<line x1="239.72" y1="314.26" x2="242.12" y2="314.26" stroke="#444" stroke-width="0.7"/>
<rect x="240.07" y="314.26" width="1.7" height="7.22" fill="#000" fill-opacity="0.4"/>
<line x1="243.57" y1="303.24" x2="243.57" y2="315.78" stroke="#555" stroke-opacity="0.75" stroke-width="0.8"/>
<line x1="242.38" y1="315.78" x2="244.77" y2="315.78" stroke="#444" stroke-width="0.7"/>
<line x1="242.38" y1="303.24" x2="244.77" y2="303.24" stroke="#444" stroke-width="0.7"/>
<rect x="242.72" y="303.24" width="1.7" height="7.22" fill="#000" fill-opacity="0.4"/>
<rect x="246.75" y="298.30" width="2.65" height="14.06" fill="#5b9fd8" stroke="#5b9fd8" stroke-width="0.3"/>
<rect x="249.40" y="298.30" width="2.65" height="30.40" fill="#245684" stroke="#245684" stroke-width="0.3"/>
<rect x="252.05" y="298.30" width="2.65" height="17.48" fill="#d6434a" stroke="#d6434a" stroke-width="0.3"/>
<line x1="248.07" y1="305.14" x2="248.07" y2="322.24" stroke="#555" stroke-opacity="0.75" stroke-width="0.8"/>
<line x1="246.88" y1="322.24" x2="249.27" y2="322.24" stroke="#444" stroke-width="0.7"/>
<line x1="246.88" y1="305.14" x2="249.27" y2="305.14" stroke="#444" stroke-width="0.7"/>
<rect x="247.22" y="305.14" width="1.7" height="7.22" fill="#000" fill-opacity="0.4"/>
<line x1="250.72" y1="317.68" x2="250.72" y2="339.72" stroke="#555" stroke-opacity="0.75" stroke-width="0.8"/>
<line x1="249.53" y1="339.72" x2="251.92" y2="339.72" stroke="#444" stroke-width="0.7"/>
<line x1="249.53" y1="317.68" x2="251.92" y2="317.68" stroke="#444" stroke-width="0.7"/>
<rect x="249.88" y="317.68" width="1.7" height="11.02" fill="#000" fill-opacity="0.4"/>
<line x1="253.38" y1="310.46" x2="253.38" y2="324.14" stroke="#555" stroke-opacity="0.75" stroke-width="0.8"/>
<line x1="252.18" y1="324.14" x2="254.57" y2="324.14" stroke="#444" stroke-width="0.7"/>
<line x1="252.18" y1="310.46" x2="254.57" y2="310.46" stroke="#444" stroke-width="0.7"/>
<rect x="252.53" y="310.46" width="1.7" height="5.32" fill="#000" fill-opacity="0.4"/>
<rect x="256.55" y="298.30" width="2.65" height="13.30" fill="#5b9fd8" stroke="#5b9fd8" stroke-width="0.3"/>
<rect x="259.20" y="298.30" width="2.65" height="19.38" fill="#245684" stroke="#245684" stroke-width="0.3"/>
<rect x="261.85" y="281.20" width="2.65" height="17.10" fill="#d6434a" stroke="#d6434a" stroke-width="0.3"/>
<line x1="257.88" y1="293.36" x2="257.88" y2="328.70" stroke="#555" stroke-opacity="0.75" stroke-width="0.8"/>
<line x1="256.68" y1="328.70" x2="259.07" y2="328.70" stroke="#444" stroke-width="0.7"/>
<line x1="256.68" y1="293.36" x2="259.07" y2="293.36" stroke="#444" stroke-width="0.7"/>
<rect x="257.02" y="298.30" width="1.7" height="13.30" fill="#000" fill-opacity="0.4"/>
<line x1="260.52" y1="298.30" x2="260.52" y2="335.92" stroke="#555" stroke-opacity="0.75" stroke-width="0.8"/>
<line x1="259.32" y1="335.92" x2="261.72" y2="335.92" stroke="#444" stroke-width="0.7"/>
<line x1="259.32" y1="298.30" x2="261.72" y2="298.30" stroke="#444" stroke-width="0.7"/>
<rect x="259.67" y="298.30" width="1.7" height="19.38" fill="#000" fill-opacity="0.4"/>
<line x1="263.18" y1="273.60" x2="263.18" y2="288.80" stroke="#555" stroke-opacity="0.75" stroke-width="0.8"/>
<line x1="261.98" y1="288.80" x2="264.38" y2="288.80" stroke="#444" stroke-width="0.7"/>
<line x1="261.98" y1="273.60" x2="264.38" y2="273.60" stroke="#444" stroke-width="0.7"/>
<rect x="262.32" y="281.20" width="1.7" height="7.60" fill="#000" fill-opacity="0.4"/>
<rect x="266.35" y="298.30" width="2.65" height="12.16" fill="#5b9fd8" stroke="#5b9fd8" stroke-width="0.3"/>
<rect x="269.00" y="298.30" width="2.65" height="5.70" fill="#245684" stroke="#245684" stroke-width="0.3"/>
<rect x="271.65" y="265.62" width="2.65" height="32.68" fill="#d6434a" stroke="#d6434a" stroke-width="0.3"/>
<line x1="267.68" y1="293.36" x2="267.68" y2="326.80" stroke="#555" stroke-opacity="0.75" stroke-width="0.8"/>
<line x1="266.48" y1="326.80" x2="268.88" y2="326.80" stroke="#444" stroke-width="0.7"/>
<line x1="266.48" y1="293.36" x2="268.88" y2="293.36" stroke="#444" stroke-width="0.7"/>
<rect x="266.82" y="298.30" width="1.7" height="12.16" fill="#000" fill-opacity="0.4"/>
<line x1="270.32" y1="284.24" x2="270.32" y2="324.14" stroke="#555" stroke-opacity="0.75" stroke-width="0.8"/>
<line x1="269.12" y1="324.14" x2="271.52" y2="324.14" stroke="#444" stroke-width="0.7"/>
<line x1="269.12" y1="284.24" x2="271.52" y2="284.24" stroke="#444" stroke-width="0.7"/>
<rect x="269.47" y="298.30" width="1.7" height="5.70" fill="#000" fill-opacity="0.4"/>
<line x1="272.98" y1="259.54" x2="272.98" y2="272.08" stroke="#555" stroke-opacity="0.75" stroke-width="0.8"/>
<line x1="271.78" y1="272.08" x2="274.18" y2="272.08" stroke="#444" stroke-width="0.7"/>
<line x1="271.78" y1="259.54" x2="274.18" y2="259.54" stroke="#444" stroke-width="0.7"/>
<rect x="272.12" y="265.62" width="1.7" height="6.46" fill="#000" fill-opacity="0.4"/>
<rect x="276.15" y="298.30" width="2.65" height="11.40" fill="#5b9fd8" stroke="#5b9fd8" stroke-width="0.3"/>
<rect x="278.80" y="296.02" width="2.65" height="2.28" fill="#245684" stroke="#245684" stroke-width="0.3"/>
<rect x="281.45" y="298.30" width="2.65" height="12.16" fill="#d6434a" stroke="#d6434a" stroke-width="0.3"/>
<line x1="277.48" y1="303.24" x2="277.48" y2="314.26" stroke="#555" stroke-opacity="0.75" stroke-width="0.8"/>
<line x1="276.28" y1="314.26" x2="278.68" y2="314.26" stroke="#444" stroke-width="0.7"/>
<line x1="276.28" y1="303.24" x2="278.68" y2="303.24" stroke="#444" stroke-width="0.7"/>
<rect x="276.62" y="303.24" width="1.7" height="6.46" fill="#000" fill-opacity="0.4"/>
<line x1="280.12" y1="284.62" x2="280.12" y2="308.56" stroke="#555" stroke-opacity="0.75" stroke-width="0.8"/>
<line x1="278.93" y1="308.56" x2="281.32" y2="308.56" stroke="#444" stroke-width="0.7"/>
<line x1="278.93" y1="284.62" x2="281.32" y2="284.62" stroke="#444" stroke-width="0.7"/>
<rect x="279.27" y="296.02" width="1.7" height="2.28" fill="#000" fill-opacity="0.4"/>
<line x1="282.78" y1="305.14" x2="282.78" y2="314.26" stroke="#555" stroke-opacity="0.75" stroke-width="0.8"/>
<line x1="281.58" y1="314.26" x2="283.98" y2="314.26" stroke="#444" stroke-width="0.7"/>
<line x1="281.58" y1="305.14" x2="283.98" y2="305.14" stroke="#444" stroke-width="0.7"/>
<rect x="281.93" y="305.14" width="1.7" height="5.32" fill="#000" fill-opacity="0.4"/>
<rect x="285.95" y="298.30" width="2.65" height="10.26" fill="#5b9fd8" stroke="#5b9fd8" stroke-width="0.3"/>
<rect x="288.60" y="298.30" width="2.65" height="6.84" fill="#245684" stroke="#245684" stroke-width="0.3"/>
<rect x="291.25" y="265.62" width="2.65" height="32.68" fill="#d6434a" stroke="#d6434a" stroke-width="0.3"/>
<line x1="287.27" y1="289.56" x2="287.27" y2="327.94" stroke="#555" stroke-opacity="0.75" stroke-width="0.8"/>
<line x1="286.07" y1="327.94" x2="288.47" y2="327.94" stroke="#444" stroke-width="0.7"/>
<line x1="286.07" y1="289.56" x2="288.47" y2="289.56" stroke="#444" stroke-width="0.7"/>
<rect x="286.42" y="298.30" width="1.7" height="10.26" fill="#000" fill-opacity="0.4"/>
<line x1="289.92" y1="284.24" x2="289.92" y2="329.46" stroke="#555" stroke-opacity="0.75" stroke-width="0.8"/>
<line x1="288.72" y1="329.46" x2="291.12" y2="329.46" stroke="#444" stroke-width="0.7"/>
<line x1="288.72" y1="284.24" x2="291.12" y2="284.24" stroke="#444" stroke-width="0.7"/>
<rect x="289.07" y="298.30" width="1.7" height="6.84" fill="#000" fill-opacity="0.4"/>
<line x1="292.57" y1="258.78" x2="292.57" y2="272.08" stroke="#555" stroke-opacity="0.75" stroke-width="0.8"/>
<line x1="291.38" y1="272.08" x2="293.77" y2="272.08" stroke="#444" stroke-width="0.7"/>
<line x1="291.38" y1="258.78" x2="293.77" y2="258.78" stroke="#444" stroke-width="0.7"/>
<rect x="291.72" y="265.62" width="1.7" height="6.46" fill="#000" fill-opacity="0.4"/>
<rect x="295.75" y="298.30" width="2.65" height="9.50" fill="#5b9fd8" stroke="#5b9fd8" stroke-width="0.3"/>
<rect x="298.40" y="298.30" width="2.65" height="25.08" fill="#245684" stroke="#245684" stroke-width="0.3"/>
<rect x="301.05" y="298.30" width="2.65" height="4.94" fill="#d6434a" stroke="#d6434a" stroke-width="0.3"/>
<line x1="297.07" y1="294.12" x2="297.07" y2="321.48" stroke="#555" stroke-opacity="0.75" stroke-width="0.8"/>
<line x1="295.88" y1="321.48" x2="298.27" y2="321.48" stroke="#444" stroke-width="0.7"/>
<line x1="295.88" y1="294.12" x2="298.27" y2="294.12" stroke="#444" stroke-width="0.7"/>
<rect x="296.22" y="298.30" width="1.7" height="9.50" fill="#000" fill-opacity="0.4"/>
<line x1="299.72" y1="310.46" x2="299.72" y2="335.16" stroke="#555" stroke-opacity="0.75" stroke-width="0.8"/>
<line x1="298.52" y1="335.16" x2="300.92" y2="335.16" stroke="#444" stroke-width="0.7"/>
<line x1="298.52" y1="310.46" x2="300.92" y2="310.46" stroke="#444" stroke-width="0.7"/>
<rect x="298.87" y="310.46" width="1.7" height="12.92" fill="#000" fill-opacity="0.4"/>
<line x1="302.38" y1="293.36" x2="302.38" y2="313.12" stroke="#555" stroke-opacity="0.75" stroke-width="0.8"/>
<line x1="301.18" y1="313.12" x2="303.57" y2="313.12" stroke="#444" stroke-width="0.7"/>
<line x1="301.18" y1="293.36" x2="303.57" y2="293.36" stroke="#444" stroke-width="0.7"/>
<rect x="301.52" y="298.30" width="1.7" height="4.94" fill="#000" fill-opacity="0.4"/>
<rect x="305.55" y="298.30" width="2.65" height="7.60" fill="#5b9fd8" stroke="#5b9fd8" stroke-width="0.3"/>
<rect x="308.20" y="298.30" width="2.65" height="7.60" fill="#245684" stroke="#245684" stroke-width="0.3"/>
<rect x="310.85" y="298.30" width="2.65" height="4.94" fill="#d6434a" stroke="#d6434a" stroke-width="0.3"/>
<line x1="306.88" y1="296.78" x2="306.88" y2="316.92" stroke="#555" stroke-opacity="0.75" stroke-width="0.8"/>
<line x1="305.68" y1="316.92" x2="308.07" y2="316.92" stroke="#444" stroke-width="0.7"/>
<line x1="305.68" y1="296.78" x2="308.07" y2="296.78" stroke="#444" stroke-width="0.7"/>
<rect x="306.02" y="298.30" width="1.7" height="7.60" fill="#000" fill-opacity="0.4"/>
<line x1="309.52" y1="299.82" x2="309.52" y2="313.12" stroke="#555" stroke-opacity="0.75" stroke-width="0.8"/>
<line x1="308.32" y1="313.12" x2="310.72" y2="313.12" stroke="#444" stroke-width="0.7"/>
<line x1="308.32" y1="299.82" x2="310.72" y2="299.82" stroke="#444" stroke-width="0.7"/>
<rect x="308.67" y="299.82" width="1.7" height="6.08" fill="#000" fill-opacity="0.4"/>
<line x1="312.18" y1="298.30" x2="312.18" y2="307.80" stroke="#555" stroke-opacity="0.75" stroke-width="0.8"/>
<line x1="310.98" y1="307.80" x2="313.38" y2="307.80" stroke="#444" stroke-width="0.7"/>
<line x1="310.98" y1="298.30" x2="313.38" y2="298.30" stroke="#444" stroke-width="0.7"/>
<rect x="311.32" y="298.30" width="1.7" height="4.94" fill="#000" fill-opacity="0.4"/>
<rect x="315.35" y="298.30" width="2.65" height="6.84" fill="#5b9fd8" stroke="#5b9fd8" stroke-width="0.3"/>
<rect x="318.00" y="298.30" width="2.65" height="12.16" fill="#245684" stroke="#245684" stroke-width="0.3"/>
<rect x="320.65" y="286.90" width="2.65" height="11.40" fill="#d6434a" stroke="#d6434a" stroke-width="0.3"/>
<line x1="316.68" y1="291.46" x2="316.68" y2="318.82" stroke="#555" stroke-opacity="0.75" stroke-width="0.8"/>
<line x1="315.48" y1="318.82" x2="317.88" y2="318.82" stroke="#444" stroke-width="0.7"/>
<line x1="315.48" y1="291.46" x2="317.88" y2="291.46" stroke="#444" stroke-width="0.7"/>
<rect x="315.82" y="298.30" width="1.7" height="6.84" fill="#000" fill-opacity="0.4"/>
<line x1="319.32" y1="298.68" x2="319.32" y2="326.80" stroke="#555" stroke-opacity="0.75" stroke-width="0.8"/>
<line x1="318.12" y1="326.80" x2="320.52" y2="326.80" stroke="#444" stroke-width="0.7"/>
<line x1="318.12" y1="298.68" x2="320.52" y2="298.68" stroke="#444" stroke-width="0.7"/>
<rect x="318.47" y="298.68" width="1.7" height="11.78" fill="#000" fill-opacity="0.4"/>
<line x1="321.98" y1="278.16" x2="321.98" y2="296.02" stroke="#555" stroke-opacity="0.75" stroke-width="0.8"/>
<line x1="320.78" y1="296.02" x2="323.18" y2="296.02" stroke="#444" stroke-width="0.7"/>
<line x1="320.78" y1="278.16" x2="323.18" y2="278.16" stroke="#444" stroke-width="0.7"/>
<rect x="321.12" y="286.90" width="1.7" height="9.12" fill="#000" fill-opacity="0.4"/>
<rect x="325.15" y="298.30" width="2.65" height="6.84" fill="#5b9fd8" stroke="#5b9fd8" stroke-width="0.3"/>
<rect x="327.80" y="292.22" width="2.65" height="6.08" fill="#245684" stroke="#245684" stroke-width="0.3"/>
<rect x="330.45" y="266.76" width="2.65" height="31.54" fill="#d6434a" stroke="#d6434a" stroke-width="0.3"/>
<line x1="326.48" y1="292.22" x2="326.48" y2="316.92" stroke="#555" stroke-opacity="0.75" stroke-width="0.8"/>
<line x1="325.28" y1="316.92" x2="327.68" y2="316.92" stroke="#444" stroke-width="0.7"/>
<line x1="325.28" y1="292.22" x2="327.68" y2="292.22" stroke="#444" stroke-width="0.7"/>
<rect x="325.62" y="298.30" width="1.7" height="6.84" fill="#000" fill-opacity="0.4"/>
<line x1="329.12" y1="275.88" x2="329.12" y2="307.80" stroke="#555" stroke-opacity="0.75" stroke-width="0.8"/>
<line x1="327.93" y1="307.80" x2="330.32" y2="307.80" stroke="#444" stroke-width="0.7"/>
<line x1="327.93" y1="275.88" x2="330.32" y2="275.88" stroke="#444" stroke-width="0.7"/>
<rect x="328.27" y="292.22" width="1.7" height="6.08" fill="#000" fill-opacity="0.4"/>
<line x1="331.78" y1="261.44" x2="331.78" y2="273.22" stroke="#555" stroke-opacity="0.75" stroke-width="0.8"/>
<line x1="330.58" y1="273.22" x2="332.98" y2="273.22" stroke="#444" stroke-width="0.7"/>
<line x1="330.58" y1="261.44" x2="332.98" y2="261.44" stroke="#444" stroke-width="0.7"/>
<rect x="330.93" y="266.76" width="1.7" height="6.46" fill="#000" fill-opacity="0.4"/>
<rect x="334.95" y="298.30" width="2.65" height="6.84" fill="#5b9fd8" stroke="#5b9fd8" stroke-width="0.3"/>
<rect x="337.60" y="298.30" width="2.65" height="14.82" fill="#245684" stroke="#245684" stroke-width="0.3"/>
<rect x="340.25" y="298.30" width="2.65" height="21.28" fill="#d6434a" stroke="#d6434a" stroke-width="0.3"/>
<line x1="336.28" y1="296.78" x2="336.28" y2="312.36" stroke="#555" stroke-opacity="0.75" stroke-width="0.8"/>
<line x1="335.08" y1="312.36" x2="337.48" y2="312.36" stroke="#444" stroke-width="0.7"/>
<line x1="335.08" y1="296.78" x2="337.48" y2="296.78" stroke="#444" stroke-width="0.7"/>
<rect x="335.43" y="298.30" width="1.7" height="6.84" fill="#000" fill-opacity="0.4"/>
<line x1="338.93" y1="307.04" x2="338.93" y2="319.58" stroke="#555" stroke-opacity="0.75" stroke-width="0.8"/>
<line x1="337.73" y1="319.58" x2="340.12" y2="319.58" stroke="#444" stroke-width="0.7"/>
<line x1="337.73" y1="307.04" x2="340.12" y2="307.04" stroke="#444" stroke-width="0.7"/>
<rect x="338.07" y="307.04" width="1.7" height="6.08" fill="#000" fill-opacity="0.4"/>
<line x1="341.58" y1="313.12" x2="341.58" y2="326.42" stroke="#555" stroke-opacity="0.75" stroke-width="0.8"/>
<line x1="340.38" y1="326.42" x2="342.78" y2="326.42" stroke="#444" stroke-width="0.7"/>
<line x1="340.38" y1="313.12" x2="342.78" y2="313.12" stroke="#444" stroke-width="0.7"/>
<rect x="340.73" y="313.12" width="1.7" height="6.46" fill="#000" fill-opacity="0.4"/>
<rect x="344.75" y="298.30" width="2.65" height="4.94" fill="#5b9fd8" stroke="#5b9fd8" stroke-width="0.3"/>
<rect x="347.40" y="297.54" width="2.65" height="0.76" fill="#245684" stroke="#245684" stroke-width="0.3"/>
<rect x="350.05" y="298.30" width="2.65" height="11.40" fill="#d6434a" stroke="#d6434a" stroke-width="0.3"/>
<line x1="346.07" y1="294.12" x2="346.07" y2="311.60" stroke="#555" stroke-opacity="0.75" stroke-width="0.8"/>
<line x1="344.88" y1="311.60" x2="347.27" y2="311.60" stroke="#444" stroke-width="0.7"/>
<line x1="344.88" y1="294.12" x2="347.27" y2="294.12" stroke="#444" stroke-width="0.7"/>
<rect x="345.22" y="298.30" width="1.7" height="4.94" fill="#000" fill-opacity="0.4"/>
<line x1="348.72" y1="288.04" x2="348.72" y2="305.14" stroke="#555" stroke-opacity="0.75" stroke-width="0.8"/>
<line x1="347.52" y1="305.14" x2="349.92" y2="305.14" stroke="#444" stroke-width="0.7"/>
<line x1="347.52" y1="288.04" x2="349.92" y2="288.04" stroke="#444" stroke-width="0.7"/>
<rect x="347.87" y="297.54" width="1.7" height="0.76" fill="#000" fill-opacity="0.4"/>
<line x1="351.38" y1="303.24" x2="351.38" y2="315.02" stroke="#555" stroke-opacity="0.75" stroke-width="0.8"/>
<line x1="350.18" y1="315.02" x2="352.57" y2="315.02" stroke="#444" stroke-width="0.7"/>
<line x1="350.18" y1="303.24" x2="352.57" y2="303.24" stroke="#444" stroke-width="0.7"/>
<rect x="350.52" y="303.24" width="1.7" height="6.46" fill="#000" fill-opacity="0.4"/>
<rect x="354.55" y="298.30" width="2.65" height="3.04" fill="#5b9fd8" stroke="#5b9fd8" stroke-width="0.3"/>
<rect x="357.20" y="294.88" width="2.65" height="3.42" fill="#245684" stroke="#245684" stroke-width="0.3"/>
<rect x="359.85" y="262.96" width="2.65" height="35.34" fill="#d6434a" stroke="#d6434a" stroke-width="0.3"/>
<line x1="355.88" y1="286.90" x2="355.88" y2="318.82" stroke="#555" stroke-opacity="0.75" stroke-width="0.8"/>
<line x1="354.68" y1="318.82" x2="357.07" y2="318.82" stroke="#444" stroke-width="0.7"/>
<line x1="354.68" y1="286.90" x2="357.07" y2="286.90" stroke="#444" stroke-width="0.7"/>
<rect x="355.02" y="298.30" width="1.7" height="3.04" fill="#000" fill-opacity="0.4"/>
<line x1="358.52" y1="275.88" x2="358.52" y2="315.02" stroke="#555" stroke-opacity="0.75" stroke-width="0.8"/>
<line x1="357.32" y1="315.02" x2="359.72" y2="315.02" stroke="#444" stroke-width="0.7"/>
<line x1="357.32" y1="275.88" x2="359.72" y2="275.88" stroke="#444" stroke-width="0.7"/>
<rect x="357.67" y="294.88" width="1.7" height="3.42" fill="#000" fill-opacity="0.4"/>
<line x1="361.18" y1="256.88" x2="361.18" y2="267.90" stroke="#555" stroke-opacity="0.75" stroke-width="0.8"/>
<line x1="359.98" y1="267.90" x2="362.38" y2="267.90" stroke="#444" stroke-width="0.7"/>
<line x1="359.98" y1="256.88" x2="362.38" y2="256.88" stroke="#444" stroke-width="0.7"/>
<rect x="360.32" y="262.96" width="1.7" height="4.94" fill="#000" fill-opacity="0.4"/>
<rect x="364.35" y="298.30" width="2.65" height="3.04" fill="#5b9fd8" stroke="#5b9fd8" stroke-width="0.3"/>
<rect x="367.00" y="298.30" width="2.65" height="7.60" fill="#245684" stroke="#245684" stroke-width="0.3"/>
<rect x="369.65" y="298.30" width="2.65" height="4.94" fill="#d6434a" stroke="#d6434a" stroke-width="0.3"/>
<line x1="365.68" y1="288.80" x2="365.68" y2="313.88" stroke="#555" stroke-opacity="0.75" stroke-width="0.8"/>
<line x1="364.48" y1="313.88" x2="366.88" y2="313.88" stroke="#444" stroke-width="0.7"/>
<line x1="364.48" y1="288.80" x2="366.88" y2="288.80" stroke="#444" stroke-width="0.7"/>
<rect x="364.82" y="298.30" width="1.7" height="3.04" fill="#000" fill-opacity="0.4"/>
<line x1="368.32" y1="296.78" x2="368.32" y2="315.78" stroke="#555" stroke-opacity="0.75" stroke-width="0.8"/>
<line x1="367.12" y1="315.78" x2="369.52" y2="315.78" stroke="#444" stroke-width="0.7"/>
<line x1="367.12" y1="296.78" x2="369.52" y2="296.78" stroke="#444" stroke-width="0.7"/>
<rect x="367.47" y="298.30" width="1.7" height="7.60" fill="#000" fill-opacity="0.4"/>
<line x1="370.98" y1="298.30" x2="370.98" y2="307.80" stroke="#555" stroke-opacity="0.75" stroke-width="0.8"/>
<line x1="369.78" y1="307.80" x2="372.18" y2="307.80" stroke="#444" stroke-width="0.7"/>
<line x1="369.78" y1="298.30" x2="372.18" y2="298.30" stroke="#444" stroke-width="0.7"/>
<rect x="370.12" y="298.30" width="1.7" height="4.94" fill="#000" fill-opacity="0.4"/>
<rect x="374.15" y="298.30" width="2.65" height="2.28" fill="#5b9fd8" stroke="#5b9fd8" stroke-width="0.3"/>
<rect x="376.80" y="281.20" width="2.65" height="17.10" fill="#245684" stroke="#245684" stroke-width="0.3"/>
<rect x="379.45" y="298.30" width="2.65" height="2.28" fill="#d6434a" stroke="#d6434a" stroke-width="0.3"/>
<line x1="375.48" y1="294.12" x2="375.48" y2="305.90" stroke="#555" stroke-opacity="0.75" stroke-width="0.8"/>
<line x1="374.28" y1="305.90" x2="376.68" y2="305.90" stroke="#444" stroke-width="0.7"/>
<line x1="374.28" y1="294.12" x2="376.68" y2="294.12" stroke="#444" stroke-width="0.7"/>
<rect x="374.62" y="298.30" width="1.7" height="2.28" fill="#000" fill-opacity="0.4"/>
<line x1="378.12" y1="270.56" x2="378.12" y2="296.78" stroke="#555" stroke-opacity="0.75" stroke-width="0.8"/>
<line x1="376.93" y1="296.78" x2="379.32" y2="296.78" stroke="#444" stroke-width="0.7"/>
<line x1="376.93" y1="270.56" x2="379.32" y2="270.56" stroke="#444" stroke-width="0.7"/>
<rect x="377.27" y="281.20" width="1.7" height="15.58" fill="#000" fill-opacity="0.4"/>
<line x1="380.78" y1="296.78" x2="380.78" y2="304.00" stroke="#555" stroke-opacity="0.75" stroke-width="0.8"/>
<line x1="379.58" y1="304.00" x2="381.98" y2="304.00" stroke="#444" stroke-width="0.7"/>
<line x1="379.58" y1="296.78" x2="381.98" y2="296.78" stroke="#444" stroke-width="0.7"/>
<rect x="379.93" y="298.30" width="1.7" height="2.28" fill="#000" fill-opacity="0.4"/>
<rect x="383.95" y="296.78" width="2.65" height="1.52" fill="#5b9fd8" stroke="#5b9fd8" stroke-width="0.3"/>
<rect x="386.60" y="297.92" width="2.65" height="0.38" fill="#245684" stroke="#245684" stroke-width="0.3"/>
<rect x="389.25" y="298.30" width="2.65" height="14.06" fill="#d6434a" stroke="#d6434a" stroke-width="0.3"/>
<line x1="385.27" y1="292.22" x2="385.27" y2="305.14" stroke="#555" stroke-opacity="0.75" stroke-width="0.8"/>
<line x1="384.07" y1="305.14" x2="386.47" y2="305.14" stroke="#444" stroke-width="0.7"/>
<line x1="384.07" y1="292.22" x2="386.47" y2="292.22" stroke="#444" stroke-width="0.7"/>
<rect x="384.42" y="296.78" width="1.7" height="1.52" fill="#000" fill-opacity="0.4"/>
<line x1="387.92" y1="290.70" x2="387.92" y2="305.14" stroke="#555" stroke-opacity="0.75" stroke-width="0.8"/>
<line x1="386.72" y1="305.14" x2="389.12" y2="305.14" stroke="#444" stroke-width="0.7"/>
<line x1="386.72" y1="290.70" x2="389.12" y2="290.70" stroke="#444" stroke-width="0.7"/>
<rect x="387.07" y="297.92" width="1.7" height="0.38" fill="#000" fill-opacity="0.4"/>
<line x1="390.57" y1="305.14" x2="390.57" y2="317.68" stroke="#555" stroke-opacity="0.75" stroke-width="0.8"/>
<line x1="389.38" y1="317.68" x2="391.77" y2="317.68" stroke="#444" stroke-width="0.7"/>
<line x1="389.38" y1="305.14" x2="391.77" y2="305.14" stroke="#444" stroke-width="0.7"/>
<rect x="389.72" y="305.14" width="1.7" height="7.22" fill="#000" fill-opacity="0.4"/>
<rect x="393.75" y="297.54" width="2.65" height="0.76" fill="#5b9fd8" stroke="#5b9fd8" stroke-width="0.3"/>
<rect x="396.40" y="293.36" width="2.65" height="4.94" fill="#245684" stroke="#245684" stroke-width="0.3"/>
<rect x="399.05" y="298.30" width="2.65" height="10.64" fill="#d6434a" stroke="#d6434a" stroke-width="0.3"/>
<line x1="395.07" y1="291.46" x2="395.07" y2="305.14" stroke="#555" stroke-opacity="0.75" stroke-width="0.8"/>
<line x1="393.88" y1="305.14" x2="396.27" y2="305.14" stroke="#444" stroke-width="0.7"/>
<line x1="393.88" y1="291.46" x2="396.27" y2="291.46" stroke="#444" stroke-width="0.7"/>
<rect x="394.22" y="297.54" width="1.7" height="0.76" fill="#000" fill-opacity="0.4"/>
<line x1="397.72" y1="288.04" x2="397.72" y2="298.68" stroke="#555" stroke-opacity="0.75" stroke-width="0.8"/>
<line x1="396.52" y1="298.68" x2="398.92" y2="298.68" stroke="#444" stroke-width="0.7"/>
<line x1="396.52" y1="288.04" x2="398.92" y2="288.04" stroke="#444" stroke-width="0.7"/>
<rect x="396.87" y="293.36" width="1.7" height="4.94" fill="#000" fill-opacity="0.4"/>
<line x1="400.38" y1="303.24" x2="400.38" y2="313.50" stroke="#555" stroke-opacity="0.75" stroke-width="0.8"/>
<line x1="399.18" y1="313.50" x2="401.57" y2="313.50" stroke="#444" stroke-width="0.7"/>
<line x1="399.18" y1="303.24" x2="401.57" y2="303.24" stroke="#444" stroke-width="0.7"/>
<rect x="399.52" y="303.24" width="1.7" height="5.70" fill="#000" fill-opacity="0.4"/>
<rect x="403.55" y="294.88" width="2.65" height="3.42" fill="#5b9fd8" stroke="#5b9fd8" stroke-width="0.3"/>
<rect x="406.20" y="296.78" width="2.65" height="1.52" fill="#245684" stroke="#245684" stroke-width="0.3"/>
<rect x="408.85" y="298.30" width="2.65" height="6.84" fill="#d6434a" stroke="#d6434a" stroke-width="0.3"/>
<line x1="404.88" y1="289.56" x2="404.88" y2="300.58" stroke="#555" stroke-opacity="0.75" stroke-width="0.8"/>
<line x1="403.68" y1="300.58" x2="406.07" y2="300.58" stroke="#444" stroke-width="0.7"/>
<line x1="403.68" y1="289.56" x2="406.07" y2="289.56" stroke="#444" stroke-width="0.7"/>
<rect x="404.02" y="294.88" width="1.7" height="3.42" fill="#000" fill-opacity="0.4"/>
<line x1="407.52" y1="294.12" x2="407.52" y2="305.14" stroke="#555" stroke-opacity="0.75" stroke-width="0.8"/>
<line x1="406.32" y1="305.14" x2="408.72" y2="305.14" stroke="#444" stroke-width="0.7"/>
<line x1="406.32" y1="294.12" x2="408.72" y2="294.12" stroke="#444" stroke-width="0.7"/>
<rect x="406.67" y="296.78" width="1.7" height="1.52" fill="#000" fill-opacity="0.4"/>
<line x1="410.18" y1="298.30" x2="410.18" y2="313.50" stroke="#555" stroke-opacity="0.75" stroke-width="0.8"/>
<line x1="408.98" y1="313.50" x2="411.38" y2="313.50" stroke="#444" stroke-width="0.7"/>
<line x1="408.98" y1="298.30" x2="411.38" y2="298.30" stroke="#444" stroke-width="0.7"/>
<rect x="409.32" y="298.30" width="1.7" height="6.84" fill="#000" fill-opacity="0.4"/>
<rect x="413.35" y="294.12" width="2.65" height="4.18" fill="#5b9fd8" stroke="#5b9fd8" stroke-width="0.3"/>
<rect x="416.00" y="298.30" width="2.65" height="0.38" fill="#245684" stroke="#245684" stroke-width="0.3"/>
<rect x="418.65" y="298.30" width="2.65" height="10.64" fill="#d6434a" stroke="#d6434a" stroke-width="0.3"/>
<line x1="414.68" y1="275.88" x2="414.68" y2="314.26" stroke="#555" stroke-opacity="0.75" stroke-width="0.8"/>
<line x1="413.48" y1="314.26" x2="415.88" y2="314.26" stroke="#444" stroke-width="0.7"/>
<line x1="413.48" y1="275.88" x2="415.88" y2="275.88" stroke="#444" stroke-width="0.7"/>
<rect x="413.82" y="294.12" width="1.7" height="4.18" fill="#000" fill-opacity="0.4"/>
<line x1="417.32" y1="280.82" x2="417.32" y2="317.68" stroke="#555" stroke-opacity="0.75" stroke-width="0.8"/>
<line x1="416.12" y1="317.68" x2="418.52" y2="317.68" stroke="#444" stroke-width="0.7"/>
<line x1="416.12" y1="280.82" x2="418.52" y2="280.82" stroke="#444" stroke-width="0.7"/>
<rect x="416.47" y="298.30" width="1.7" height="0.38" fill="#000" fill-opacity="0.4"/>
<line x1="419.98" y1="298.68" x2="419.98" y2="318.82" stroke="#555" stroke-opacity="0.75" stroke-width="0.8"/>
<line x1="418.78" y1="318.82" x2="421.18" y2="318.82" stroke="#444" stroke-width="0.7"/>
<line x1="418.78" y1="298.68" x2="421.18" y2="298.68" stroke="#444" stroke-width="0.7"/>
<rect x="419.12" y="298.68" width="1.7" height="10.26" fill="#000" fill-opacity="0.4"/>
<rect x="423.15" y="292.22" width="2.65" height="6.08" fill="#5b9fd8" stroke="#5b9fd8" stroke-width="0.3"/>
<rect x="425.80" y="294.88" width="2.65" height="3.42" fill="#245684" stroke="#245684" stroke-width="0.3"/>
<rect x="428.45" y="298.30" width="2.65" height="2.66" fill="#d6434a" stroke="#d6434a" stroke-width="0.3"/>
<line x1="424.48" y1="284.24" x2="424.48" y2="301.34" stroke="#555" stroke-opacity="0.75" stroke-width="0.8"/>
<line x1="423.28" y1="301.34" x2="425.68" y2="301.34" stroke="#444" stroke-width="0.7"/>
<line x1="423.28" y1="284.24" x2="425.68" y2="284.24" stroke="#444" stroke-width="0.7"/>
<rect x="423.62" y="292.22" width="1.7" height="6.08" fill="#000" fill-opacity="0.4"/>
<line x1="427.12" y1="288.04" x2="427.12" y2="303.24" stroke="#555" stroke-opacity="0.75" stroke-width="0.8"/>
<line x1="425.93" y1="303.24" x2="428.32" y2="303.24" stroke="#444" stroke-width="0.7"/>
<line x1="425.93" y1="288.04" x2="428.32" y2="288.04" stroke="#444" stroke-width="0.7"/>
<rect x="426.27" y="294.88" width="1.7" height="3.42" fill="#000" fill-opacity="0.4"/>
<line x1="429.78" y1="298.30" x2="429.78" y2="305.14" stroke="#555" stroke-opacity="0.75" stroke-width="0.8"/>
<line x1="428.58" y1="305.14" x2="430.98" y2="305.14" stroke="#444" stroke-width="0.7"/>
<line x1="428.58" y1="298.30" x2="430.98" y2="298.30" stroke="#444" stroke-width="0.7"/>
<rect x="428.93" y="298.30" width="1.7" height="2.66" fill="#000" fill-opacity="0.4"/>
<rect x="432.95" y="292.22" width="2.65" height="6.08" fill="#5b9fd8" stroke="#5b9fd8" stroke-width="0.3"/>
<rect x="435.60" y="298.30" width="2.65" height="8.74" fill="#245684" stroke="#245684" stroke-width="0.3"/>
<rect x="438.25" y="298.30" width="2.65" height="4.94" fill="#d6434a" stroke="#d6434a" stroke-width="0.3"/>
<line x1="434.27" y1="288.04" x2="434.27" y2="297.92" stroke="#555" stroke-opacity="0.75" stroke-width="0.8"/>
<line x1="433.07" y1="297.92" x2="435.47" y2="297.92" stroke="#444" stroke-width="0.7"/>
<line x1="433.07" y1="288.04" x2="435.47" y2="288.04" stroke="#444" stroke-width="0.7"/>
<rect x="433.42" y="292.22" width="1.7" height="5.70" fill="#000" fill-opacity="0.4"/>
<line x1="436.92" y1="298.30" x2="436.92" y2="316.16" stroke="#555" stroke-opacity="0.75" stroke-width="0.8"/>
<line x1="435.72" y1="316.16" x2="438.12" y2="316.16" stroke="#444" stroke-width="0.7"/>
<line x1="435.72" y1="298.30" x2="438.12" y2="298.30" stroke="#444" stroke-width="0.7"/>
<rect x="436.07" y="298.30" width="1.7" height="8.74" fill="#000" fill-opacity="0.4"/>
<line x1="439.57" y1="298.30" x2="439.57" y2="308.56" stroke="#555" stroke-opacity="0.75" stroke-width="0.8"/>
<line x1="438.38" y1="308.56" x2="440.77" y2="308.56" stroke="#444" stroke-width="0.7"/>
<line x1="438.38" y1="298.30" x2="440.77" y2="298.30" stroke="#444" stroke-width="0.7"/>
<rect x="438.72" y="298.30" width="1.7" height="4.94" fill="#000" fill-opacity="0.4"/>
<rect x="442.75" y="292.22" width="2.65" height="6.08" fill="#5b9fd8" stroke="#5b9fd8" stroke-width="0.3"/>
<rect x="445.40" y="296.02" width="2.65" height="2.28" fill="#245684" stroke="#245684" stroke-width="0.3"/>
<rect x="448.05" y="298.30" width="2.65" height="4.94" fill="#d6434a" stroke="#d6434a" stroke-width="0.3"/>
<line x1="444.07" y1="285.00" x2="444.07" y2="298.68" stroke="#555" stroke-opacity="0.75" stroke-width="0.8"/>
<line x1="442.88" y1="298.68" x2="445.27" y2="298.68" stroke="#444" stroke-width="0.7"/>
<line x1="442.88" y1="285.00" x2="445.27" y2="285.00" stroke="#444" stroke-width="0.7"/>
<rect x="443.22" y="292.22" width="1.7" height="6.08" fill="#000" fill-opacity="0.4"/>
<line x1="446.72" y1="290.70" x2="446.72" y2="303.24" stroke="#555" stroke-opacity="0.75" stroke-width="0.8"/>
<line x1="445.52" y1="303.24" x2="447.92" y2="303.24" stroke="#444" stroke-width="0.7"/>
<line x1="445.52" y1="290.70" x2="447.92" y2="290.70" stroke="#444" stroke-width="0.7"/>
<rect x="445.87" y="296.02" width="1.7" height="2.28" fill="#000" fill-opacity="0.4"/>
<line x1="449.38" y1="298.30" x2="449.38" y2="307.80" stroke="#555" stroke-opacity="0.75" stroke-width="0.8"/>
<line x1="448.18" y1="307.80" x2="450.57" y2="307.80" stroke="#444" stroke-width="0.7"/>
<line x1="448.18" y1="298.30" x2="450.57" y2="298.30" stroke="#444" stroke-width="0.7"/>
<rect x="448.52" y="298.30" width="1.7" height="4.94" fill="#000" fill-opacity="0.4"/>
<rect x="452.55" y="288.80" width="2.65" height="9.50" fill="#5b9fd8" stroke="#5b9fd8" stroke-width="0.3"/>
<rect x="455.20" y="294.12" width="2.65" height="4.18" fill="#245684" stroke="#245684" stroke-width="0.3"/>
<rect x="457.85" y="277.78" width="2.65" height="20.52" fill="#d6434a" stroke="#d6434a" stroke-width="0.3"/>
<line x1="453.88" y1="278.92" x2="453.88" y2="298.30" stroke="#555" stroke-opacity="0.75" stroke-width="0.8"/>
<line x1="452.68" y1="298.30" x2="455.07" y2="298.30" stroke="#444" stroke-width="0.7"/>
<line x1="452.68" y1="278.92" x2="455.07" y2="278.92" stroke="#444" stroke-width="0.7"/>
<rect x="453.02" y="288.80" width="1.7" height="9.50" fill="#000" fill-opacity="0.4"/>
<line x1="456.52" y1="281.58" x2="456.52" y2="307.80" stroke="#555" stroke-opacity="0.75" stroke-width="0.8"/>
<line x1="455.32" y1="307.80" x2="457.72" y2="307.80" stroke="#444" stroke-width="0.7"/>
<line x1="455.32" y1="281.58" x2="457.72" y2="281.58" stroke="#444" stroke-width="0.7"/>
<rect x="455.67" y="294.12" width="1.7" height="4.18" fill="#000" fill-opacity="0.4"/>
<line x1="459.18" y1="269.42" x2="459.18" y2="285.00" stroke="#555" stroke-opacity="0.75" stroke-width="0.8"/>
<line x1="457.98" y1="285.00" x2="460.38" y2="285.00" stroke="#444" stroke-width="0.7"/>
<line x1="457.98" y1="269.42" x2="460.38" y2="269.42" stroke="#444" stroke-width="0.7"/>
<rect x="458.32" y="277.78" width="1.7" height="7.22" fill="#000" fill-opacity="0.4"/>
<rect x="462.35" y="287.66" width="2.65" height="10.64" fill="#5b9fd8" stroke="#5b9fd8" stroke-width="0.3"/>
<rect x="465.00" y="293.36" width="2.65" height="4.94" fill="#245684" stroke="#245684" stroke-width="0.3"/>
<rect x="467.65" y="298.30" width="2.65" height="1.90" fill="#d6434a" stroke="#d6434a" stroke-width="0.3"/>
<line x1="463.68" y1="280.44" x2="463.68" y2="294.12" stroke="#555" stroke-opacity="0.75" stroke-width="0.8"/>
<line x1="462.48" y1="294.12" x2="464.88" y2="294.12" stroke="#444" stroke-width="0.7"/>
<line x1="462.48" y1="280.44" x2="464.88" y2="280.44" stroke="#444" stroke-width="0.7"/>
<rect x="462.82" y="287.66" width="1.7" height="6.46" fill="#000" fill-opacity="0.4"/>
<line x1="466.32" y1="286.90" x2="466.32" y2="299.44" stroke="#555" stroke-opacity="0.75" stroke-width="0.8"/>
<line x1="465.12" y1="299.44" x2="467.52" y2="299.44" stroke="#444" stroke-width="0.7"/>
<line x1="465.12" y1="286.90" x2="467.52" y2="286.90" stroke="#444" stroke-width="0.7"/>
<rect x="465.47" y="293.36" width="1.7" height="4.94" fill="#000" fill-opacity="0.4"/>
<line x1="468.98" y1="293.36" x2="468.98" y2="303.24" stroke="#555" stroke-opacity="0.75" stroke-width="0.8"/>
<line x1="467.78" y1="303.24" x2="470.18" y2="303.24" stroke="#444" stroke-width="0.7"/>
<line x1="467.78" y1="293.36" x2="470.18" y2="293.36" stroke="#444" stroke-width="0.7"/>
<rect x="468.12" y="298.30" width="1.7" height="1.90" fill="#000" fill-opacity="0.4"/>
<rect x="472.15" y="281.96" width="2.65" height="16.34" fill="#5b9fd8" stroke="#5b9fd8" stroke-width="0.3"/>
<rect x="474.80" y="292.22" width="2.65" height="6.08" fill="#245684" stroke="#245684" stroke-width="0.3"/>
<rect x="477.45" y="298.30" width="2.65" height="4.94" fill="#d6434a" stroke="#d6434a" stroke-width="0.3"/>
<line x1="473.48" y1="277.02" x2="473.48" y2="288.80" stroke="#555" stroke-opacity="0.75" stroke-width="0.8"/>
<line x1="472.28" y1="288.80" x2="474.68" y2="288.80" stroke="#444" stroke-width="0.7"/>
<line x1="472.28" y1="277.02" x2="474.68" y2="277.02" stroke="#444" stroke-width="0.7"/>
<rect x="472.62" y="281.96" width="1.7" height="6.84" fill="#000" fill-opacity="0.4"/>
<line x1="476.12" y1="284.24" x2="476.12" y2="298.68" stroke="#555" stroke-opacity="0.75" stroke-width="0.8"/>
<line x1="474.93" y1="298.68" x2="477.32" y2="298.68" stroke="#444" stroke-width="0.7"/>
<line x1="474.93" y1="284.24" x2="477.32" y2="284.24" stroke="#444" stroke-width="0.7"/>
<rect x="475.27" y="292.22" width="1.7" height="6.08" fill="#000" fill-opacity="0.4"/>
<line x1="478.78" y1="298.30" x2="478.78" y2="308.56" stroke="#555" stroke-opacity="0.75" stroke-width="0.8"/>
<line x1="477.58" y1="308.56" x2="479.98" y2="308.56" stroke="#444" stroke-width="0.7"/>
<line x1="477.58" y1="298.30" x2="479.98" y2="298.30" stroke="#444" stroke-width="0.7"/>
<rect x="477.93" y="298.30" width="1.7" height="4.94" fill="#000" fill-opacity="0.4"/>
<rect x="481.95" y="278.54" width="2.65" height="19.76" fill="#5b9fd8" stroke="#5b9fd8" stroke-width="0.3"/>
<rect x="484.60" y="294.12" width="2.65" height="4.18" fill="#245684" stroke="#245684" stroke-width="0.3"/>
<rect x="487.25" y="298.30" width="2.65" height="1.14" fill="#d6434a" stroke="#d6434a" stroke-width="0.3"/>
<line x1="483.27" y1="273.98" x2="483.27" y2="284.24" stroke="#555" stroke-opacity="0.75" stroke-width="0.8"/>
<line x1="482.07" y1="284.24" x2="484.47" y2="284.24" stroke="#444" stroke-width="0.7"/>
<line x1="482.07" y1="273.98" x2="484.47" y2="273.98" stroke="#444" stroke-width="0.7"/>
<rect x="482.42" y="278.54" width="1.7" height="5.70" fill="#000" fill-opacity="0.4"/>
<line x1="485.92" y1="284.24" x2="485.92" y2="299.44" stroke="#555" stroke-opacity="0.75" stroke-width="0.8"/>
<line x1="484.72" y1="299.44" x2="487.12" y2="299.44" stroke="#444" stroke-width="0.7"/>
<line x1="484.72" y1="284.24" x2="487.12" y2="284.24" stroke="#444" stroke-width="0.7"/>
<rect x="485.07" y="294.12" width="1.7" height="4.18" fill="#000" fill-opacity="0.4"/>
<line x1="488.57" y1="296.02" x2="488.57" y2="304.00" stroke="#555" stroke-opacity="0.75" stroke-width="0.8"/>
<line x1="487.38" y1="304.00" x2="489.77" y2="304.00" stroke="#444" stroke-width="0.7"/>
<line x1="487.38" y1="296.02" x2="489.77" y2="296.02" stroke="#444" stroke-width="0.7"/>
<rect x="487.72" y="298.30" width="1.7" height="1.14" fill="#000" fill-opacity="0.4"/>
<text x="96.55" y="360.6" font-size="7.6" text-anchor="end" font-weight="normal" fill="#111" stroke="#111" stroke-width="0.18" transform="rotate(-90 96.55 360.6)">TNF−α</text>
<text x="106.35" y="360.6" font-size="7.6" text-anchor="end" font-weight="normal" fill="#111" stroke="#111" stroke-width="0.18" transform="rotate(-90 106.35 360.6)">IL−2</text>
<text x="116.15" y="360.6" font-size="7.6" text-anchor="end" font-weight="normal" fill="#111" stroke="#111" stroke-width="0.18" transform="rotate(-90 116.15 360.6)">IFNα2</text>
<text x="125.95" y="360.6" font-size="7.6" text-anchor="end" font-weight="normal" fill="#111" stroke="#111" stroke-width="0.18" transform="rotate(-90 125.95 360.6)">IFN−γ</text>
<text x="135.75" y="360.6" font-size="7.6" text-anchor="end" font-weight="normal" fill="#111" stroke="#111" stroke-width="0.18" transform="rotate(-90 135.75 360.6)">VEGF</text>
<text x="145.55" y="360.6" font-size="7.6" text-anchor="end" font-weight="normal" fill="#111" stroke="#111" stroke-width="0.18" transform="rotate(-90 145.55 360.6)">MIP−1β</text>
<text x="155.35" y="360.6" font-size="7.6" text-anchor="end" font-weight="normal" fill="#111" stroke="#111" stroke-width="0.18" transform="rotate(-90 155.35 360.6)">FGF2</text>
<text x="165.15" y="360.6" font-size="7.6" text-anchor="end" font-weight="normal" fill="#111" stroke="#111" stroke-width="0.18" transform="rotate(-90 165.15 360.6)">IL−1β</text>
<text x="174.95" y="360.6" font-size="7.6" text-anchor="end" font-weight="normal" fill="#111" stroke="#111" stroke-width="0.18" transform="rotate(-90 174.95 360.6)">GM−CSF</text>
<text x="184.75" y="360.6" font-size="7.6" text-anchor="end" font-weight="normal" fill="#111" stroke="#111" stroke-width="0.18" transform="rotate(-90 184.75 360.6)">Flt−3L</text>
<text x="194.55" y="360.6" font-size="7.6" text-anchor="end" font-weight="normal" fill="#111" stroke="#111" stroke-width="0.18" transform="rotate(-90 194.55 360.6)">Eotaxin</text>
<text x="204.35" y="360.6" font-size="7.6" text-anchor="end" font-weight="normal" fill="#111" stroke="#111" stroke-width="0.18" transform="rotate(-90 204.35 360.6)">IL−12p70</text>
<text x="214.15" y="360.6" font-size="7.6" text-anchor="end" font-weight="normal" fill="#111" stroke="#111" stroke-width="0.18" transform="rotate(-90 214.15 360.6)">IP−10</text>
<text x="223.95" y="360.6" font-size="7.6" text-anchor="end" font-weight="normal" fill="#111" stroke="#111" stroke-width="0.18" transform="rotate(-90 223.95 360.6)">MDC</text>
<text x="233.75" y="360.6" font-size="7.6" text-anchor="end" font-weight="normal" fill="#111" stroke="#111" stroke-width="0.18" transform="rotate(-90 233.75 360.6)">IL−7</text>
<text x="243.55" y="360.6" font-size="7.6" text-anchor="end" font-weight="normal" fill="#111" stroke="#111" stroke-width="0.18" transform="rotate(-90 243.55 360.6)">Fractalkine</text>
<text x="253.35" y="360.6" font-size="7.6" text-anchor="end" font-weight="normal" fill="#111" stroke="#111" stroke-width="0.18" transform="rotate(-90 253.35 360.6)">IL−1RA</text>
<text x="263.15" y="360.6" font-size="7.6" text-anchor="end" font-weight="normal" fill="#111" stroke="#111" stroke-width="0.18" transform="rotate(-90 263.15 360.6)">PDGF−BB</text>
<text x="272.95" y="360.6" font-size="7.6" text-anchor="end" font-weight="normal" fill="#111" stroke="#111" stroke-width="0.18" transform="rotate(-90 272.95 360.6)">RANTES</text>
<text x="282.75" y="360.6" font-size="7.6" text-anchor="end" font-weight="normal" fill="#111" stroke="#111" stroke-width="0.18" transform="rotate(-90 282.75 360.6)">G−CSF</text>
<text x="292.55" y="360.6" font-size="7.6" text-anchor="end" font-weight="normal" fill="#111" stroke="#111" stroke-width="0.18" transform="rotate(-90 292.55 360.6)">PDGF−AA</text>
<text x="302.35" y="360.6" font-size="7.6" text-anchor="end" font-weight="normal" fill="#111" stroke="#111" stroke-width="0.18" transform="rotate(-90 302.35 360.6)">IL−5</text>
<text x="312.15" y="360.6" font-size="7.6" text-anchor="end" font-weight="normal" fill="#111" stroke="#111" stroke-width="0.18" transform="rotate(-90 312.15 360.6)">IL−1α</text>
<text x="321.95" y="360.6" font-size="7.6" text-anchor="end" font-weight="normal" fill="#111" stroke="#111" stroke-width="0.18" transform="rotate(-90 321.95 360.6)">MCP−1</text>
<text x="331.75" y="360.6" font-size="7.6" text-anchor="end" font-weight="normal" fill="#111" stroke="#111" stroke-width="0.18" transform="rotate(-90 331.75 360.6)">GRO</text>
<text x="341.55" y="360.6" font-size="7.6" text-anchor="end" font-weight="normal" fill="#111" stroke="#111" stroke-width="0.18" transform="rotate(-90 341.55 360.6)">IL−17</text>
<text x="351.35" y="360.6" font-size="7.6" text-anchor="end" font-weight="normal" fill="#111" stroke="#111" stroke-width="0.18" transform="rotate(-90 351.35 360.6)">IL−9</text>
<text x="361.15" y="360.6" font-size="7.6" text-anchor="end" font-weight="normal" fill="#111" stroke="#111" stroke-width="0.18" transform="rotate(-90 361.15 360.6)">sCD40L</text>
<text x="370.95" y="360.6" font-size="7.6" text-anchor="end" font-weight="normal" fill="#111" stroke="#111" stroke-width="0.18" transform="rotate(-90 370.95 360.6)">TGFα</text>
<text x="380.75" y="360.6" font-size="7.6" text-anchor="end" font-weight="normal" fill="#111" stroke="#111" stroke-width="0.18" transform="rotate(-90 380.75 360.6)">MIP−1α</text>
<text x="390.55" y="360.6" font-size="7.6" text-anchor="end" font-weight="normal" fill="#111" stroke="#111" stroke-width="0.18" transform="rotate(-90 390.55 360.6)">IL−6</text>
<text x="400.35" y="360.6" font-size="7.6" text-anchor="end" font-weight="normal" fill="#111" stroke="#111" stroke-width="0.18" transform="rotate(-90 400.35 360.6)">IL−12p40</text>
<text x="410.15" y="360.6" font-size="7.6" text-anchor="end" font-weight="normal" fill="#111" stroke="#111" stroke-width="0.18" transform="rotate(-90 410.15 360.6)">IL−15</text>
<text x="419.95" y="360.6" font-size="7.6" text-anchor="end" font-weight="normal" fill="#111" stroke="#111" stroke-width="0.18" transform="rotate(-90 419.95 360.6)">IL−4</text>
<text x="429.75" y="360.6" font-size="7.6" text-anchor="end" font-weight="normal" fill="#111" stroke="#111" stroke-width="0.18" transform="rotate(-90 429.75 360.6)">IL−10</text>
<text x="439.55" y="360.6" font-size="7.6" text-anchor="end" font-weight="normal" fill="#111" stroke="#111" stroke-width="0.18" transform="rotate(-90 439.55 360.6)">TNF−β</text>
<text x="449.35" y="360.6" font-size="7.6" text-anchor="end" font-weight="normal" fill="#111" stroke="#111" stroke-width="0.18" transform="rotate(-90 449.35 360.6)">IL−8</text>
<text x="459.15" y="360.6" font-size="7.6" text-anchor="end" font-weight="normal" fill="#111" stroke="#111" stroke-width="0.18" transform="rotate(-90 459.15 360.6)">EGF</text>
<text x="468.95" y="360.6" font-size="7.6" text-anchor="end" font-weight="normal" fill="#111" stroke="#111" stroke-width="0.18" transform="rotate(-90 468.95 360.6)">IL−3</text>
<text x="478.75" y="360.6" font-size="7.6" text-anchor="end" font-weight="normal" fill="#111" stroke="#111" stroke-width="0.18" transform="rotate(-90 478.75 360.6)">IL−13</text>
<text x="488.55" y="360.6" font-size="7.6" text-anchor="end" font-weight="normal" fill="#111" stroke="#111" stroke-width="0.18" transform="rotate(-90 488.55 360.6)">MCP−3</text>
<rect x="445.6" y="321.40" width="6" height="5.3" fill="#5b9fd8" stroke="#5b9fd8" stroke-width="0.4"/>
<text x="458.6" y="326.6" font-size="7.5" text-anchor="start" font-weight="normal" fill="#222" stroke="#222" stroke-width="0.18">Gross Motor</text>
<rect x="445.6" y="330.50" width="6" height="5.3" fill="#245684" stroke="#245684" stroke-width="0.4"/>
<text x="458.6" y="335.7" font-size="7.5" text-anchor="start" font-weight="normal" fill="#222" stroke="#222" stroke-width="0.18">Fine Motor</text>
<rect x="445.6" y="339.60" width="6" height="5.3" fill="#d6434a" stroke="#d6434a" stroke-width="0.4"/>
<text x="458.6" y="344.8" font-size="7.5" text-anchor="start" font-weight="normal" fill="#222" stroke="#222" stroke-width="0.18">Muscle Tone</text>
<text x="8.6" y="427.5" font-size="16.2" text-anchor="start" font-weight="bold" fill="#000">D</text>
<text x="80.8" y="424.2" font-size="12.2" text-anchor="start" font-weight="bold" fill="#000">Scoring MLIV Patient Samples Using PLSR Analysis Against Motor Scores</text>
<rect x="93.2" y="442.2" width="74.2" height="66.0" fill="#fff" stroke="#222" stroke-width="1.15"/>
<line x1="130.4" y1="442.2" x2="130.4" y2="508.2" stroke="#777" stroke-width="0.6"/>
<line x1="93.2" y1="475.3" x2="167.4" y2="475.3" stroke="#777" stroke-width="0.6"/>
<text x="133.4" y="438.59999999999997" font-size="9.3" text-anchor="middle" font-weight="normal" fill="#111" stroke="#111" stroke-width="0.18">Gross Motor</text>
<text x="97.22" y="514.2" font-size="6.2" text-anchor="middle" font-weight="normal" fill="#222" stroke="#222" stroke-width="0.18">−6</text>
<text x="113.81" y="514.2" font-size="6.2" text-anchor="middle" font-weight="normal" fill="#222" stroke="#222" stroke-width="0.18">−3</text>
<text x="130.4" y="514.2" font-size="6.2" text-anchor="middle" font-weight="normal" fill="#222" stroke="#222" stroke-width="0.18">0</text>
<text x="146.99" y="514.2" font-size="6.2" text-anchor="middle" font-weight="normal" fill="#222" stroke="#222" stroke-width="0.18">3</text>
<text x="163.58" y="514.2" font-size="6.2" text-anchor="middle" font-weight="normal" fill="#222" stroke="#222" stroke-width="0.18">6</text>
<text x="91.9" y="460.7" font-size="6.2" text-anchor="end" font-weight="normal" fill="#222" stroke="#222" stroke-width="0.18">4</text>
<text x="91.9" y="477.5" font-size="6.2" text-anchor="end" font-weight="normal" fill="#222" stroke="#222" stroke-width="0.18">0</text>
<text x="91.9" y="494.3" font-size="6.2" text-anchor="end" font-weight="normal" fill="#222" stroke="#222" stroke-width="0.18">−4</text>
<text x="130.3" y="520.9" font-size="6.4" text-anchor="middle" font-weight="normal" fill="#222" stroke="#222" stroke-width="0.18">Scores on LV1</text>
<text x="83.8" y="474.2" font-size="6.7" text-anchor="middle" font-weight="normal" fill="#222" stroke="#222" stroke-width="0.18" transform="rotate(-90 83.8 474.2)">Scores on LV2</text>
<circle cx="100" cy="468" r="2.15" fill="#f4f4f6" stroke="#555" stroke-width="0.45"/>
<circle cx="115.7" cy="456.3" r="2.15" fill="#f6f6f8" stroke="#555" stroke-width="0.45"/>
<circle cx="112" cy="459.5" r="2.15" fill="#c9d0dc" stroke="#555" stroke-width="0.45"/>
<circle cx="113.1" cy="462.6" r="2.15" fill="#f4f4f6" stroke="#555" stroke-width="0.45"/>
<circle cx="118.6" cy="467.2" r="2.15" fill="#f3f3f5" stroke="#555" stroke-width="0.45"/>
<circle cx="119" cy="478.6" r="2.15" fill="#b6c0ce" stroke="#555" stroke-width="0.45"/>
<circle cx="118.1" cy="483.6" r="2.15" fill="#c6cdd9" stroke="#555" stroke-width="0.45"/>
<circle cx="126.7" cy="477.5" r="2.15" fill="#a9b4c4" stroke="#555" stroke-width="0.45"/>
<circle cx="133.9" cy="476.8" r="2.15" fill="#f4f4f6" stroke="#555" stroke-width="0.45"/>
<circle cx="132.1" cy="482.9" r="2.15" fill="#f4f4f6" stroke="#555" stroke-width="0.45"/>
<circle cx="139.6" cy="482.5" r="2.15" fill="#c9d0dc" stroke="#555" stroke-width="0.45"/>
<circle cx="143.5" cy="482.9" r="2.15" fill="#f5c0b6" stroke="#555" stroke-width="0.45"/>
<circle cx="151.8" cy="483.4" r="2.15" fill="#fae6e2" stroke="#555" stroke-width="0.45"/>
<circle cx="148.6" cy="489.8" r="2.15" fill="#f6c4ba" stroke="#555" stroke-width="0.45"/>
<path d="M136.10 479.60 L138.70 475.00 L141.30 479.60 Z" fill="#f8d4cc" stroke="#444" stroke-width="0.45"/>
<path d="M145.60 491.30 L148.20 486.70 L150.80 491.30 Z" fill="#f3b0a4" stroke="#444" stroke-width="0.45"/>
<path d="M156.90 490.40 L159.50 485.80 L162.10 490.40 Z" fill="#ec4f3c" stroke="#444" stroke-width="0.45"/>
<line x1="74.9" y1="447.5" x2="74.9" y2="509.5" stroke="#111" stroke-width="0.7"/>
<path d="M73.4 448.6 L74.9 445.4 L76.4 448.6 Z" fill="#111"/><path d="M73.4 508.6 L74.9 511.8 L76.4 508.6 Z" fill="#111"/>
<text x="68.7" y="479.2" font-size="6" text-anchor="middle" font-weight="normal" fill="#222" stroke="#222" stroke-width="0.18" transform="rotate(-90 68.7 479.2)">Unrelated Variation</text>
<line x1="98.3" y1="525.1" x2="162.8" y2="525.1" stroke="#111" stroke-width="0.7"/>
<path d="M161.60000000000002 523.6 L164.8 525.1 L161.60000000000002 526.6 Z" fill="#111"/>
<text x="131.55" y="532.4" font-size="6" text-anchor="middle" font-weight="normal" fill="#222" stroke="#222" stroke-width="0.18">Better Motor</text>
<text x="131.55" y="539.9" font-size="6" text-anchor="middle" font-weight="normal" fill="#222" stroke="#222" stroke-width="0.18">Function</text>
<text x="172.3" y="456.8" font-size="6.2" text-anchor="start" font-weight="normal" fill="#444" stroke="#444" stroke-width="0.18">Score</text>
<rect x="172.4" y="461" width="7.4" height="36.69999999999999" fill="url(#gS1)" stroke="#bbb" stroke-width="0.4"/>
<line x1="172.4" y1="461.2" x2="173.6" y2="461.2" stroke="#999" stroke-width="0.4"/><line x1="178.6" y1="461.2" x2="179.8" y2="461.2" stroke="#999" stroke-width="0.4"/>
<text x="181.6" y="463.2" font-size="5.6" text-anchor="start" font-weight="normal" fill="#222" stroke="#222" stroke-width="0.18">10</text>
<line x1="172.4" y1="470.4" x2="173.6" y2="470.4" stroke="#999" stroke-width="0.4"/><line x1="178.6" y1="470.4" x2="179.8" y2="470.4" stroke="#999" stroke-width="0.4"/>
<text x="181.6" y="472.4" font-size="5.6" text-anchor="start" font-weight="normal" fill="#222" stroke="#222" stroke-width="0.18">8</text>
<line x1="172.4" y1="479.6" x2="173.6" y2="479.6" stroke="#999" stroke-width="0.4"/><line x1="178.6" y1="479.6" x2="179.8" y2="479.6" stroke="#999" stroke-width="0.4"/>
<text x="181.6" y="481.6" font-size="5.6" text-anchor="start" font-weight="normal" fill="#222" stroke="#222" stroke-width="0.18">6</text>
<line x1="172.4" y1="488.8" x2="173.6" y2="488.8" stroke="#999" stroke-width="0.4"/><line x1="178.6" y1="488.8" x2="179.8" y2="488.8" stroke="#999" stroke-width="0.4"/>
<text x="181.6" y="490.8" font-size="5.6" text-anchor="start" font-weight="normal" fill="#222" stroke="#222" stroke-width="0.18">4</text>
<line x1="172.4" y1="498" x2="173.6" y2="498" stroke="#999" stroke-width="0.4"/><line x1="178.6" y1="498" x2="179.8" y2="498" stroke="#999" stroke-width="0.4"/>
<text x="181.6" y="500" font-size="5.6" text-anchor="start" font-weight="normal" fill="#222" stroke="#222" stroke-width="0.18">2</text>
<rect x="226.7" y="442.2" width="74.19999999999999" height="66.0" fill="#fff" stroke="#222" stroke-width="1.15"/>
<line x1="263.9" y1="442.2" x2="263.9" y2="508.2" stroke="#777" stroke-width="0.6"/>
<line x1="226.7" y1="475.3" x2="300.9" y2="475.3" stroke="#777" stroke-width="0.6"/>
<text x="262.9" y="438.59999999999997" font-size="9.3" text-anchor="middle" font-weight="normal" fill="#111" stroke="#111" stroke-width="0.18">Fine Motor</text>
<text x="231.08" y="514.2" font-size="6.2" text-anchor="middle" font-weight="normal" fill="#222" stroke="#222" stroke-width="0.18">−6</text>
<text x="247.49" y="514.2" font-size="6.2" text-anchor="middle" font-weight="normal" fill="#222" stroke="#222" stroke-width="0.18">−3</text>
<text x="263.9" y="514.2" font-size="6.2" text-anchor="middle" font-weight="normal" fill="#222" stroke="#222" stroke-width="0.18">0</text>
<text x="280.31" y="514.2" font-size="6.2" text-anchor="middle" font-weight="normal" fill="#222" stroke="#222" stroke-width="0.18">3</text>
<text x="296.72" y="514.2" font-size="6.2" text-anchor="middle" font-weight="normal" fill="#222" stroke="#222" stroke-width="0.18">6</text>
<text x="225.39999999999998" y="460.7" font-size="6.2" text-anchor="end" font-weight="normal" fill="#222" stroke="#222" stroke-width="0.18">4</text>
<text x="225.39999999999998" y="477.5" font-size="6.2" text-anchor="end" font-weight="normal" fill="#222" stroke="#222" stroke-width="0.18">0</text>
<text x="225.39999999999998" y="494.3" font-size="6.2" text-anchor="end" font-weight="normal" fill="#222" stroke="#222" stroke-width="0.18">−4</text>
<text x="263.79999999999995" y="520.9" font-size="6.4" text-anchor="middle" font-weight="normal" fill="#222" stroke="#222" stroke-width="0.18">Scores on LV1</text>
<text x="217.29999999999998" y="474.2" font-size="6.7" text-anchor="middle" font-weight="normal" fill="#222" stroke="#222" stroke-width="0.18" transform="rotate(-90 217.29999999999998 474.2)">Scores on LV2</text>
<circle cx="246.4" cy="446.4" r="2.15" fill="#c9d0dc" stroke="#555" stroke-width="0.45"/>
<circle cx="241.3" cy="459.3" r="2.15" fill="#c9d0dc" stroke="#555" stroke-width="0.45"/>
<circle cx="247.5" cy="458.2" r="2.15" fill="#d6dbe4" stroke="#555" stroke-width="0.45"/>
<circle cx="254.7" cy="458.9" r="2.15" fill="#f8d8d0" stroke="#555" stroke-width="0.45"/>
<circle cx="236.1" cy="468.1" r="2.15" fill="#c6cdd9" stroke="#555" stroke-width="0.45"/>
<circle cx="249.6" cy="468.3" r="2.15" fill="#aab4c4" stroke="#555" stroke-width="0.45"/>
<circle cx="258" cy="477.5" r="2.15" fill="#d6dbe4" stroke="#555" stroke-width="0.45"/>
<circle cx="264.5" cy="477.9" r="2.15" fill="#f4f4f6" stroke="#555" stroke-width="0.45"/>
<circle cx="257.3" cy="482.5" r="2.15" fill="#c9d0dc" stroke="#555" stroke-width="0.45"/>
<circle cx="269.3" cy="482.9" r="2.15" fill="#d2d8e2" stroke="#555" stroke-width="0.45"/>
<circle cx="272.6" cy="481.2" r="2.15" fill="#f5f5f7" stroke="#555" stroke-width="0.45"/>
<circle cx="269.3" cy="487.3" r="2.15" fill="#f4f4f6" stroke="#555" stroke-width="0.45"/>
<circle cx="280.2" cy="485.5" r="2.15" fill="#f7f7f9" stroke="#555" stroke-width="0.45"/>
<path d="M285.30 490.40 L287.90 485.80 L290.50 490.40 Z" fill="#f0a090" stroke="#444" stroke-width="0.45"/>
<path d="M290.80 490.40 L293.40 485.80 L296.00 490.40 Z" fill="#ec5040" stroke="#444" stroke-width="0.45"/>
<line x1="228.2" y1="525.1" x2="292.8" y2="525.1" stroke="#111" stroke-width="0.7"/>
<path d="M291.6 523.6 L294.8 525.1 L291.6 526.6 Z" fill="#111"/>
<text x="261.5" y="532.4" font-size="6" text-anchor="middle" font-weight="normal" fill="#222" stroke="#222" stroke-width="0.18">Better Motor</text>
<text x="261.5" y="539.9" font-size="6" text-anchor="middle" font-weight="normal" fill="#222" stroke="#222" stroke-width="0.18">Function</text>
<text x="306.2" y="456.8" font-size="6.2" text-anchor="start" font-weight="normal" fill="#444" stroke="#444" stroke-width="0.18">Score</text>
<rect x="305.3" y="460.6" width="7.4" height="36.5" fill="url(#gS1)" stroke="#bbb" stroke-width="0.4"/>
<line x1="305.3" y1="460.8" x2="306.5" y2="460.8" stroke="#999" stroke-width="0.4"/><line x1="311.5" y1="460.8" x2="312.7" y2="460.8" stroke="#999" stroke-width="0.4"/>
<text x="314.5" y="462.8" font-size="5.6" text-anchor="start" font-weight="normal" fill="#222" stroke="#222" stroke-width="0.18">10</text>
<line x1="305.3" y1="471.6" x2="306.5" y2="471.6" stroke="#999" stroke-width="0.4"/><line x1="311.5" y1="471.6" x2="312.7" y2="471.6" stroke="#999" stroke-width="0.4"/>
<text x="314.5" y="473.6" font-size="5.6" text-anchor="start" font-weight="normal" fill="#222" stroke="#222" stroke-width="0.18">8</text>
<line x1="305.3" y1="481.8" x2="306.5" y2="481.8" stroke="#999" stroke-width="0.4"/><line x1="311.5" y1="481.8" x2="312.7" y2="481.8" stroke="#999" stroke-width="0.4"/>
<text x="314.5" y="483.8" font-size="5.6" text-anchor="start" font-weight="normal" fill="#222" stroke="#222" stroke-width="0.18">6</text>
<line x1="305.3" y1="492.8" x2="306.5" y2="492.8" stroke="#999" stroke-width="0.4"/><line x1="311.5" y1="492.8" x2="312.7" y2="492.8" stroke="#999" stroke-width="0.4"/>
<text x="314.5" y="494.8" font-size="5.6" text-anchor="start" font-weight="normal" fill="#222" stroke="#222" stroke-width="0.18">4</text>
<rect x="354.6" y="441.5" width="73.89999999999998" height="65.80000000000001" fill="#fff" stroke="#222" stroke-width="1.15"/>
<line x1="391.4" y1="441.5" x2="391.4" y2="507.3" stroke="#777" stroke-width="0.6"/>
<line x1="354.6" y1="474.2" x2="428.5" y2="474.2" stroke="#777" stroke-width="0.6"/>
<text x="391" y="437.9" font-size="9.3" text-anchor="middle" font-weight="normal" fill="#111" stroke="#111" stroke-width="0.18">Muscle Tone</text>
<text x="358.58" y="513.3" font-size="6.2" text-anchor="middle" font-weight="normal" fill="#222" stroke="#222" stroke-width="0.18">−6</text>
<text x="374.99" y="513.3" font-size="6.2" text-anchor="middle" font-weight="normal" fill="#222" stroke="#222" stroke-width="0.18">−3</text>
<text x="391.4" y="513.3" font-size="6.2" text-anchor="middle" font-weight="normal" fill="#222" stroke="#222" stroke-width="0.18">0</text>
<text x="407.81" y="513.3" font-size="6.2" text-anchor="middle" font-weight="normal" fill="#222" stroke="#222" stroke-width="0.18">3</text>
<text x="424.22" y="513.3" font-size="6.2" text-anchor="middle" font-weight="normal" fill="#222" stroke="#222" stroke-width="0.18">6</text>
<text x="353.3" y="460.6" font-size="6.2" text-anchor="end" font-weight="normal" fill="#222" stroke="#222" stroke-width="0.18">4</text>
<text x="353.3" y="476.4" font-size="6.2" text-anchor="end" font-weight="normal" fill="#222" stroke="#222" stroke-width="0.18">0</text>
<text x="353.3" y="492.2" font-size="6.2" text-anchor="end" font-weight="normal" fill="#222" stroke="#222" stroke-width="0.18">−4</text>
<text x="391.55" y="520.0" font-size="6.4" text-anchor="middle" font-weight="normal" fill="#222" stroke="#222" stroke-width="0.18">Scores on LV1</text>
<text x="345.20000000000005" y="473.4" font-size="6.7" text-anchor="middle" font-weight="normal" fill="#222" stroke="#222" stroke-width="0.18" transform="rotate(-90 345.20000000000005 473.4)">Scores on LV2</text>
<circle cx="367.3" cy="448" r="2.15" fill="#a9b4c4" stroke="#555" stroke-width="0.45"/>
<circle cx="376.7" cy="456.7" r="2.15" fill="#a9b4c4" stroke="#555" stroke-width="0.45"/>
<circle cx="366.9" cy="460" r="2.15" fill="#a9b4c4" stroke="#555" stroke-width="0.45"/>
<circle cx="378.9" cy="460" r="2.15" fill="#f6f6f8" stroke="#555" stroke-width="0.45"/>
<circle cx="372.1" cy="464.8" r="2.15" fill="#a9b4c4" stroke="#555" stroke-width="0.45"/>
<circle cx="382.6" cy="465.4" r="2.15" fill="#a9b4c4" stroke="#555" stroke-width="0.45"/>
<circle cx="407.1" cy="471.3" r="2.15" fill="#f6b0a2" stroke="#555" stroke-width="0.45"/>
<circle cx="412.1" cy="470.9" r="2.15" fill="#ee5642" stroke="#555" stroke-width="0.45"/>
<circle cx="408.9" cy="477.5" r="2.15" fill="#f8cec4" stroke="#555" stroke-width="0.45"/>
<circle cx="381.4" cy="478.2" r="2.15" fill="#a9b4c4" stroke="#555" stroke-width="0.45"/>
<circle cx="380.2" cy="479.4" r="2.15" fill="#b3bccb" stroke="#555" stroke-width="0.45"/>
<circle cx="390.3" cy="485.1" r="2.15" fill="#a9b4c4" stroke="#555" stroke-width="0.45"/>
<circle cx="397.3" cy="486.2" r="2.15" fill="#f6f6f8" stroke="#555" stroke-width="0.45"/>
<circle cx="407.8" cy="484.5" r="2.15" fill="#f8cec4" stroke="#555" stroke-width="0.45"/>
<path d="M382.90 483.80 L385.50 479.20 L388.10 483.80 Z" fill="#f8d0c6" stroke="#444" stroke-width="0.45"/>
<path d="M417.40 487.10 L420.00 482.50 L422.60 487.10 Z" fill="#ec5a44" stroke="#444" stroke-width="0.45"/>
<path d="M404.50 494.10 L407.10 489.50 L409.70 494.10 Z" fill="#e8402e" stroke="#444" stroke-width="0.45"/>
<line x1="360.8" y1="525.1" x2="424.6" y2="525.1" stroke="#111" stroke-width="0.7"/>
<path d="M423.40000000000003 523.6 L426.6 525.1 L423.40000000000003 526.6 Z" fill="#111"/>
<text x="393.70000000000005" y="532.4" font-size="6" text-anchor="middle" font-weight="normal" fill="#222" stroke="#222" stroke-width="0.18">Better Muscle Tone</text>
<text x="434" y="456.8" font-size="6.2" text-anchor="start" font-weight="normal" fill="#444" stroke="#444" stroke-width="0.18">Score</text>
<rect x="434.6" y="460.6" width="7.4" height="36.5" fill="url(#gS3)" stroke="#bbb" stroke-width="0.4"/>
<line x1="434.6" y1="460.8" x2="435.8" y2="460.8" stroke="#999" stroke-width="0.4"/><line x1="440.8" y1="460.8" x2="442.0" y2="460.8" stroke="#999" stroke-width="0.4"/>
<text x="443.8" y="462.8" font-size="5.6" text-anchor="start" font-weight="normal" fill="#222" stroke="#222" stroke-width="0.18">0</text>
<line x1="434.6" y1="473" x2="435.8" y2="473" stroke="#999" stroke-width="0.4"/><line x1="440.8" y1="473" x2="442.0" y2="473" stroke="#999" stroke-width="0.4"/>
<text x="443.8" y="475" font-size="5.6" text-anchor="start" font-weight="normal" fill="#222" stroke="#222" stroke-width="0.18">1</text>
<line x1="434.6" y1="486.2" x2="435.8" y2="486.2" stroke="#999" stroke-width="0.4"/><line x1="440.8" y1="486.2" x2="442.0" y2="486.2" stroke="#999" stroke-width="0.4"/>
<text x="443.8" y="488.2" font-size="5.6" text-anchor="start" font-weight="normal" fill="#222" stroke="#222" stroke-width="0.18">2</text>
<line x1="434.6" y1="497.8" x2="435.8" y2="497.8" stroke="#999" stroke-width="0.4"/><line x1="440.8" y1="497.8" x2="442.0" y2="497.8" stroke="#999" stroke-width="0.4"/>
<text x="443.8" y="499.8" font-size="5.6" text-anchor="start" font-weight="normal" fill="#222" stroke="#222" stroke-width="0.18">3</text>
<text x="476.9" y="461.9" font-size="8" text-anchor="start" font-weight="bold" fill="#111">Phenotype</text>
<path d="M478.2 472.4 L481.7 466.3 L485.2 472.4 Z" fill="#555" stroke="#333" stroke-width="0.4"/>
<text x="490" y="471.2" font-size="6" text-anchor="start" font-weight="normal" fill="#575757" stroke="#575757" stroke-width="0.18">Mild MLIV</text>
<circle cx="481.8" cy="478.8" r="2.3" fill="#d9a422" stroke="#333" stroke-width="0.45"/>
<text x="490.4" y="480.4" font-size="6" text-anchor="start" font-weight="normal" fill="#575757" stroke="#575757" stroke-width="0.18">Typical MLIV</text>
</svg>
</body></html>
